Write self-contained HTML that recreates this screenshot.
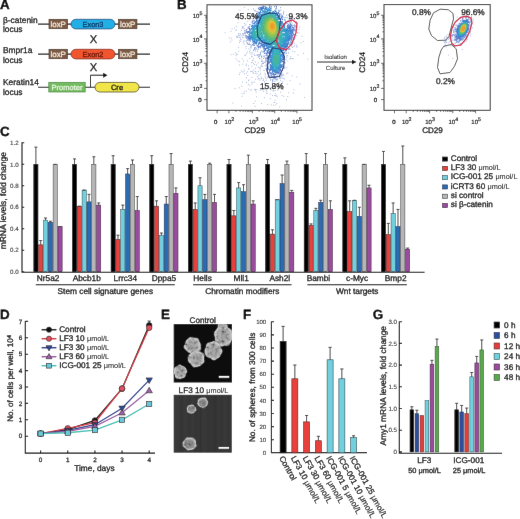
<!DOCTYPE html>
<html><head><meta charset="utf-8"><style>
html,body{margin:0;padding:0;background:#fff;}
svg{display:block;}
text{text-rendering:geometricPrecision;font-family:"Liberation Sans", Arial, sans-serif;}
</style></head><body>
<svg width="520" height="519" viewBox="0 0 520 519">
<defs><filter id="glob" x="0" y="0" width="520" height="519" filterUnits="userSpaceOnUse"><feConvolveMatrix order="3" kernelMatrix="0.0016 0.0371 0.0016 0.0371 0.8450 0.0371 0.0016 0.0371 0.0016" edgeMode="duplicate"/></filter></defs>
<g filter="url(#glob)">
<rect width="520" height="519" fill="#fff"/>
<text x="0.1" y="8.8" font-size="13.4" font-weight="bold" fill="#000" stroke="#000" stroke-width="0.35">A</text>
<text x="177.0" y="8.8" font-size="13.4" font-weight="bold" fill="#000" stroke="#000" stroke-width="0.35">B</text>
<text x="0" y="136.2" font-size="13.4" font-weight="bold" fill="#000" stroke="#000" stroke-width="0.35">C</text>
<text x="0.0" y="319.2" font-size="13.4" font-weight="bold" fill="#000" stroke="#000" stroke-width="0.35">D</text>
<text x="161.0" y="319.2" font-size="13.4" font-weight="bold" fill="#000" stroke="#000" stroke-width="0.35">E</text>
<text x="242.9" y="319.2" font-size="13.4" font-weight="bold" fill="#000" stroke="#000" stroke-width="0.35">F</text>
<text x="372.8" y="319.2" font-size="13.4" font-weight="bold" fill="#000" stroke="#000" stroke-width="0.35">G</text>
<line x1="38" y1="24.1" x2="150" y2="24.1" stroke="#222" stroke-width="1.1"/>
<rect x="49" y="19.3" width="18.4" height="9.4" fill="#7b5a45" stroke="#4a3425" stroke-width="0.7"/>
<text x="58.20" y="26.80" font-size="7.9" text-anchor="middle" fill="#efe3d3" stroke="#efe3d3" stroke-width="0.3">loxP</text>
<rect x="118.5" y="19.3" width="18.4" height="9.4" fill="#7b5a45" stroke="#4a3425" stroke-width="0.7"/>
<text x="127.70" y="26.80" font-size="7.9" text-anchor="middle" fill="#efe3d3" stroke="#efe3d3" stroke-width="0.3">loxP</text>
<rect x="71" y="19.3" width="44" height="9.6" rx="4.8" fill="#22aee6" stroke="#1d4f80" stroke-width="0.8"/>
<text x="93.00" y="26.70" font-size="7.4" text-anchor="middle" fill="#123a66" stroke="#123a66" stroke-width="0.3">Exon3</text>
<line x1="38" y1="54.1" x2="150" y2="54.1" stroke="#222" stroke-width="1.1"/>
<rect x="49" y="49.300000000000004" width="18.4" height="9.4" fill="#7b5a45" stroke="#4a3425" stroke-width="0.7"/>
<text x="58.20" y="56.80" font-size="7.9" text-anchor="middle" fill="#efe3d3" stroke="#efe3d3" stroke-width="0.3">loxP</text>
<rect x="118.5" y="49.300000000000004" width="18.4" height="9.4" fill="#7b5a45" stroke="#4a3425" stroke-width="0.7"/>
<text x="127.70" y="56.80" font-size="7.9" text-anchor="middle" fill="#efe3d3" stroke="#efe3d3" stroke-width="0.3">loxP</text>
<rect x="71" y="49.300000000000004" width="44" height="9.6" rx="4.8" fill="#f0552e" stroke="#8a2a18" stroke-width="0.8"/>
<text x="93.00" y="56.70" font-size="7.4" text-anchor="middle" fill="#6a1a10" stroke="#6a1a10" stroke-width="0.3">Exon2</text>
<text x="3.00" y="22.60" font-size="8.4" fill="#111" stroke="#111" stroke-width="0.3">β-catenin</text>
<text x="3.00" y="32.40" font-size="8.4" fill="#111" stroke="#111" stroke-width="0.3">locus</text>
<text x="3.00" y="52.80" font-size="8.4" fill="#111" stroke="#111" stroke-width="0.3">Bmpr1a</text>
<text x="3.00" y="62.60" font-size="8.4" fill="#111" stroke="#111" stroke-width="0.3">locus</text>
<text x="3.00" y="85.40" font-size="8.4" fill="#111" stroke="#111" stroke-width="0.3">Keratin14</text>
<text x="3.00" y="95.20" font-size="8.4" fill="#111" stroke="#111" stroke-width="0.3">locus</text>
<text x="93.40" y="43.00" font-size="11.2" text-anchor="middle" fill="#111" stroke="#111" stroke-width="0.3">X</text>
<text x="93.40" y="71.30" font-size="11.2" text-anchor="middle" fill="#111" stroke="#111" stroke-width="0.3">X</text>
<line x1="38" y1="87.2" x2="150" y2="87.2" stroke="#222" stroke-width="1.1"/>
<rect x="48.8" y="82.3" width="36.4" height="9.7" fill="#72bb60" stroke="#4a8a3a" stroke-width="0.7"/>
<text x="67.00" y="89.90" font-size="7.5" text-anchor="middle" fill="#e6f4dc" stroke="#e6f4dc" stroke-width="0.3">Promoter</text>
<polyline points="90.5,87.2 90.5,75.2 104,75.2" fill="none" stroke="#111" stroke-width="1"/>
<polygon points="103.2,72.7 107.5,75.2 103.2,77.7" fill="#111"/>
<rect x="95" y="82.4" width="44" height="9.6" rx="4.8" fill="#f0e64a" stroke="#555020" stroke-width="0.8"/>
<text x="117.00" y="90.00" font-size="7.6" text-anchor="middle" fill="#111" stroke="#111" stroke-width="0.3">Cre</text>
<g filter="url(#soft)">
<path stroke="rgb(162, 179, 218)" stroke-width="0.93" d="M303.9 97.5h0.93M232.4 103.0h0.93M307.6 18.0h0.93M307.4 59.2h0.93M224.7 32.7h0.93M241.1 106.0h0.93M299.6 84.0h0.93M234.6 88.6h0.93M228.8 38.0h0.93M292.9 93.1h0.93M241.6 96.3h0.93M303.0 53.4h0.93M293.5 89.7h0.93M230.5 31.3h0.93M230.1 41.9h0.93M230.5 54.7h0.93M279.2 106.9h0.93M241.7 93.7h0.93M302.9 41.4h0.93M286.0 99.8h0.93M230.6 38.0h0.93M238.9 87.8h0.93M231.6 28.8h0.93M254.7 106.4h0.93M287.3 96.5h0.93M296.3 77.1h0.93M231.4 40.0h0.93M243.7 93.3h0.93M288.3 92.8h0.93M253.2 103.5h0.93M243.7 91.8h0.93M232.8 54.3h0.93M275.2 104.9h0.93M301.4 36.4h0.93M234.0 28.1h0.93M273.1 105.2h0.93M241.4 86.3h0.93M276.3 103.4h0.93M283.4 96.3h0.93M270.7 104.9h0.93M300.7 42.9h0.93M254.7 101.2h0.93M267.2 104.6h0.93M274.2 102.5h0.93M245.8 91.0h0.93M260.9 103.5h0.93M273.6 102.5h0.93M239.4 10.2h0.93M236.0 26.7h0.93M235.5 30.4h0.93M281.6 95.6h0.93M239.0 74.6h0.93M235.6 58.8h0.93M242.0 82.2h0.93M235.2 53.0h0.93M235.8 30.0h0.93M235.5 55.7h0.93M274.5 100.2h0.93M237.5 22.8h0.93M239.5 72.7h0.93M289.7 80.6h0.93M236.1 54.1h0.93M291.6 75.9h0.93M297.7 55.0h0.93M236.2 36.1h0.93M237.3 60.7h0.93M276.6 96.8h0.93M256.0 96.9h0.93M236.5 37.3h0.93M248.2 89.1h0.93M236.9 54.4h0.93M236.7 36.5h0.93M286.7 84.1h0.93M249.8 90.1h0.93M239.0 65.1h0.93M269.9 98.7h0.93M282.7 89.6h0.93M276.2 95.9h0.93M240.8 70.9h0.93M280.1 92.1h0.93M275.3 95.8h0.93M237.3 37.4h0.93M245.9 82.6h0.93M238.9 61.7h0.93M263.9 97.7h0.93M251.2 90.0h0.93M274.4 95.5h0.93M237.9 47.3h0.93M238.2 51.3h0.93M242.1 71.9h0.93M247.9 84.3h0.93M238.2 33.8h0.93M238.2 35.8h0.93M272.1 95.6h0.93M238.3 33.5h0.93M255.7 92.2h0.93M249.3 85.4h0.93M275.1 93.7h0.93M243.9 73.9h0.93M238.8 37.7h0.93M243.4 71.8h0.93M243.9 7.6h0.93M255.2 90.3h0.93M238.9 35.7h0.93M254.2 89.4h0.93M246.0 77.6h0.93M282.0 86.3h0.93M239.1 42.6h0.93M255.1 89.7h0.93M269.8 94.0h0.93M248.0 80.6h0.93M296.7 46.6h0.93M266.5 93.6h0.93M239.4 40.6h0.93M266.3 93.4h0.93M299.2 27.0h0.93M243.9 70.1h0.93M256.4 89.6h0.93M242.4 64.2h0.93M277.3 90.2h0.93M248.5 79.8h0.93M239.6 34.6h0.93M251.6 84.1h0.93M296.3 47.1h0.93M296.2 16.8h0.93M241.8 58.8h0.93M279.1 88.1h0.93M259.7 90.3h0.93M263.2 91.4h0.93M246.1 73.3h0.93M251.2 82.4h0.93M266.4 91.7h0.93M240.0 33.9h0.93M247.3 75.5h0.93M272.8 91.3h0.93M298.5 32.9h0.93M240.3 41.3h0.93M240.2 39.1h0.93M287.3 72.9h0.93M240.1 37.2h0.93M274.7 90.5h0.93M243.1 61.1h0.93M292.7 58.7h0.93M262.2 89.7h0.93M265.6 90.5h0.93M260.0 88.4h0.93M272.7 90.5h0.93M252.6 82.1h0.93M282.0 83.1h0.93M240.7 39.3h0.93M247.1 71.8h0.93M284.1 79.0h0.93M264.6 89.1h0.93M240.9 30.6h0.93M295.9 45.2h0.93M298.5 29.5h0.93M294.2 51.8h0.93M286.2 73.6h0.93M270.7 89.7h0.93M245.6 65.6h0.93M254.2 82.0h0.93M264.6 88.1h0.93M291.7 58.6h0.93M282.0 81.8h0.93M241.5 28.7h0.93M291.6 58.5h0.93M241.8 27.3h0.93M251.5 77.4h0.93M270.2 89.0h0.93M246.0 64.2h0.93M277.1 87.0h0.93M244.3 55.2h0.93M248.1 69.0h0.93M242.2 26.6h0.93M241.4 35.6h0.93M273.0 88.1h0.93M248.6 68.6h0.93M245.1 55.2h0.93M268.4 87.3h0.93M255.2 79.4h0.93M272.5 88.0h0.93M248.0 65.8h0.93M250.5 71.4h0.93M269.6 87.2h0.93M250.7 71.5h0.93M264.0 84.3h0.93M247.0 60.8h0.93M242.8 42.8h0.93M282.7 78.5h0.93M257.5 79.0h0.93M252.5 72.8h0.93M275.1 86.5h0.93M246.2 53.6h0.93M242.6 28.2h0.93M290.1 58.4h0.93M252.9 73.2h0.93M242.9 27.1h0.93M268.4 85.7h0.93M259.5 80.0h0.93M242.1 33.7h0.93M252.2 71.3h0.93M244.0 23.4h0.93M258.0 78.2h0.93M264.0 82.0h0.93M242.3 37.0h0.93M263.9 81.7h0.93M259.3 78.7h0.93M286.4 67.8h0.93M256.9 76.6h0.93M243.9 44.2h0.93M290.2 56.8h0.93M262.5 80.6h0.93M294.1 45.9h0.93M289.3 59.1h0.93M292.5 16.7h0.93M246.7 51.9h0.93M292.3 51.1h0.93M283.5 75.6h0.93M243.2 41.2h0.93M254.9 73.5h0.93M296.2 21.6h0.93M297.1 32.6h0.93M247.9 9.4h0.93M245.6 48.2h0.93M242.6 37.7h0.93M261.1 78.7h0.93M251.6 66.8h0.93M282.2 78.0h0.93M263.1 80.0h0.93M261.3 78.4h0.93M253.5 70.1h0.93M242.5 34.0h0.93M256.5 73.9h0.93M254.9 71.5h0.93M258.5 75.5h0.93M249.4 58.5h0.93M263.1 79.0h0.93M296.4 35.7h0.93M255.5 72.0h0.93M260.8 77.1h0.93M245.6 46.5h0.93M251.1 62.6h0.93M242.7 34.4h0.93M242.8 35.4h0.93M294.2 43.7h0.93M280.1 80.6h0.93M251.6 62.3h0.93M278.5 82.4h0.93M247.1 15.7h0.93M243.8 41.0h0.93M259.7 74.3h0.93M265.8 80.2h0.93M255.0 68.2h0.93M295.7 22.1h0.93M252.9 63.4h0.93M258.1 71.6h0.93M296.7 27.1h0.93M249.6 53.1h0.93M260.2 73.2h0.93M252.1 60.4h0.93M244.5 25.7h0.93M287.3 61.0h0.93M254.2 64.5h0.93M251.3 56.8h0.93M252.6 60.5h0.93M292.7 46.8h0.93M249.2 51.5h0.93M265.0 77.8h0.93M251.5 56.5h0.93M296.5 29.2h0.93M282.8 74.5h0.93M251.4 54.8h0.93M264.6 76.2h0.93M248.3 48.9h0.93M259.8 70.0h0.93M250.7 53.0h0.93M253.1 58.7h0.93M256.1 64.9h0.93M257.8 67.3h0.93M244.0 28.7h0.93M243.5 33.5h0.93M245.4 24.3h0.93M259.4 68.3h0.93M255.1 61.9h0.93M259.3 67.9h0.93M243.8 30.6h0.93M291.2 18.1h0.93M291.9 47.5h0.93M249.7 50.1h0.93M266.5 78.2h0.93M243.7 33.1h0.93M295.3 23.4h0.93M271.8 82.9h0.93M280.0 78.7h0.93M264.9 74.8h0.93M281.0 77.0h0.93M260.3 67.0h0.93M291.5 18.7h0.93M296.0 27.5h0.93M252.2 52.6h0.93M281.7 75.6h0.93M264.5 73.3h0.93M257.8 62.9h0.93M284.3 68.6h0.93M295.8 26.4h0.93M263.5 70.4h0.93M260.8 65.8h0.93M254.4 55.6h0.93M293.4 42.2h0.93M254.3 55.2h0.93M263.7 70.4h0.93M253.8 54.0h0.93M247.3 21.2h0.93M244.3 30.7h0.93M261.5 65.9h0.93M262.1 66.5h0.93M266.9 77.1h0.93M294.1 39.6h0.93M281.3 75.6h0.93M284.2 67.8h0.93M261.2 64.2h0.93M244.3 32.7h0.93M294.4 38.1h0.93M244.5 31.1h0.93M244.6 30.5h0.93M294.1 39.2h0.93M281.4 75.1h0.93M284.4 66.8h0.93M270.1 80.5h0.93M261.9 63.5h0.93M245.7 41.2h0.93M272.4 81.7h0.93M291.4 46.2h0.93"/>
<path stroke="rgb(128, 154, 212)" stroke-width="0.99" d="M294.3 38.1h0.99M246.4 42.8h0.99M252.9 50.4h0.99M295.4 30.0h0.99M257.9 57.0h0.99M261.1 61.3h0.99M256.6 54.8h0.99M257.1 55.4h0.99M250.4 47.9h0.99M259.2 58.5h0.99M262.8 63.5h0.99M247.3 44.1h0.99M272.1 81.2h0.99M267.8 76.8h0.99M286.2 15.1h0.99M262.2 61.8h0.99M244.7 35.5h0.99M291.1 20.1h0.99M246.9 43.0h0.99M281.2 74.6h0.99M287.9 52.9h0.99M286.3 57.1h0.99M274.5 81.2h0.99M244.7 33.8h0.99M289.5 49.4h0.99M261.5 60.1h0.99M244.7 33.1h0.99M279.5 77.3h0.99M258.6 56.1h0.99M294.8 26.3h0.99M286.6 55.4h0.99M258.9 56.0h0.99M254.7 50.9h0.99M288.7 18.8h0.99M277.0 79.8h0.99M294.6 25.6h0.99M270.3 79.4h0.99M245.1 36.8h0.99M278.7 78.1h0.99M248.1 44.4h0.99M285.5 59.2h0.99M260.9 57.8h0.99M258.3 54.4h0.99M253.7 49.6h0.99M263.7 62.2h0.99M264.8 65.8h0.99M250.4 46.9h0.99M283.2 68.4h0.99M267.0 73.6h0.99M289.2 19.6h0.99M272.2 80.3h0.99M279.5 76.8h0.99M284.5 63.0h0.99M291.6 44.0h0.99M265.7 68.8h0.99M294.1 24.9h0.99M246.3 40.6h0.99M252.9 8.9h0.99M276.1 79.9h0.99M272.0 79.9h0.99M266.4 70.8h0.99M259.5 54.5h0.99M265.8 68.6h0.99M261.1 56.5h0.99M266.1 69.7h0.99M281.3 73.1h0.99M260.4 55.3h0.99M254.6 49.4h0.99M294.4 27.1h0.99M245.3 32.2h0.99M283.3 11.8h0.99M257.1 51.2h0.99M264.8 62.7h0.99M291.2 44.2h0.99M289.1 48.4h0.99M263.0 58.2h0.99M267.1 72.3h0.99M250.4 18.2h0.99M245.6 37.3h0.99M286.6 17.7h0.99M245.9 29.5h0.99M248.9 44.4h0.99M254.0 48.6h0.99M279.3 76.2h0.99M280.1 7.6h0.99M282.2 70.3h0.99M294.1 34.6h0.99M268.8 75.9h0.99M294.4 30.7h0.99M270.0 77.6h0.99M290.6 21.5h0.99M293.6 25.3h0.99M292.7 39.8h0.99M260.0 53.3h0.99M291.0 43.9h0.99M284.1 62.8h0.99M284.3 61.9h0.99M276.3 78.9h0.99M245.6 35.9h0.99M262.7 56.1h0.99M291.6 42.2h0.99M274.8 79.3h0.99M246.2 38.4h0.99M290.1 45.5h0.99M292.6 39.3h0.99M259.9 52.3h0.99M290.4 44.9h0.99M291.6 42.1h0.99M266.1 65.8h0.99M246.0 30.3h0.99M265.3 61.0h0.99M253.9 47.8h0.99M290.1 45.2h0.99M256.1 48.9h0.99M265.2 60.0h0.99M267.9 72.9h0.99M290.8 43.7h0.99M287.9 49.3h0.99M268.0 73.1h0.99M257.5 49.6h0.99M294.1 29.8h0.99M266.1 64.3h0.99M291.5 23.0h0.99M286.0 53.1h0.99M264.5 57.7h0.99M283.0 12.9h0.99M293.7 26.9h0.99M287.8 20.4h0.99M251.2 45.8h0.99M250.1 44.8h0.99M252.2 15.2h0.99M291.4 42.1h0.99M246.2 37.5h0.99M273.2 78.9h0.99M265.1 58.7h0.99M264.0 56.1h0.99M287.7 49.2h0.99M246.8 39.3h0.99M246.4 29.6h0.99M246.0 35.7h0.99M248.8 43.1h0.99M285.7 53.5h0.99M246.1 31.5h0.99M254.9 47.7h0.99M267.3 69.7h0.99M265.7 60.1h0.99M290.1 44.6h0.99M280.3 73.3h0.99M266.8 67.5h0.99M288.5 21.3h0.99M281.5 70.5h0.99M255.3 47.8h0.99M282.1 68.8h0.99M246.2 31.7h0.99M247.3 40.1h0.99M293.3 35.0h0.99M289.9 44.5h0.99M266.2 61.2h0.99M283.0 14.1h0.99M268.3 72.3h0.99M288.9 46.3h0.99M284.7 17.4h0.99M267.2 67.9h0.99M293.6 29.2h0.99M260.9 51.1h0.99M275.1 78.1h0.99M270.4 76.1h0.99M254.5 10.3h0.99M293.3 34.3h0.99M246.3 32.5h0.99M289.4 22.5h0.99M280.3 10.1h0.99M287.3 21.1h0.99M273.6 78.0h0.99M246.4 35.8h0.99M292.5 25.7h0.99M267.3 67.4h0.99M290.4 43.1h0.99M267.1 66.0h0.99M293.5 29.9h0.99M268.8 73.0h0.99M254.5 11.1h0.99"/>
<path stroke="rgb(100, 136, 208)" stroke-width="1.06" d="M293.5 30.8h1.06M273.9 77.9h1.06M247.5 27.9h1.06M293.3 28.7h1.06M266.1 58.1h1.06M272.8 77.6h1.06M283.3 62.2h1.06M293.1 27.8h1.06M280.7 71.4h1.06M262.5 51.9h1.06M263.9 53.4h1.06M266.3 58.8h1.06M257.9 47.9h1.06M246.6 32.0h1.06M277.3 76.4h1.06M267.1 64.5h1.06M264.1 53.3h1.06M267.6 68.1h1.06M292.2 37.6h1.06M290.5 42.4h1.06M273.9 77.6h1.06M265.6 55.5h1.06M266.9 62.0h1.06M275.2 77.4h1.06M246.8 36.6h1.06M267.5 66.8h1.06M293.0 28.7h1.06M246.6 32.5h1.06M274.0 77.5h1.06M271.1 76.0h1.06M283.9 57.5h1.06M249.4 24.6h1.06M274.7 77.4h1.06M292.5 36.0h1.06M271.7 76.5h1.06M292.8 34.4h1.06M289.7 23.5h1.06M251.7 44.7h1.06M251.9 44.8h1.06M282.1 66.5h1.06M275.5 6.0h1.06M270.6 75.1h1.06M285.7 50.6h1.06M258.2 47.3h1.06M269.6 73.3h1.06M247.1 37.0h1.06M268.3 69.5h1.06M291.2 25.1h1.06M247.9 28.0h1.06M292.9 29.3h1.06M273.8 77.1h1.06M285.6 50.6h1.06M282.8 63.0h1.06M247.4 38.1h1.06M257.5 46.9h1.06M276.0 6.7h1.06M291.0 40.3h1.06M273.5 77.0h1.06M291.4 25.5h1.06M292.6 28.5h1.06M292.8 33.1h1.06M263.9 51.7h1.06M290.6 24.7h1.06M248.6 26.6h1.06M252.7 44.9h1.06M274.3 76.9h1.06M263.4 51.0h1.06M290.8 25.1h1.06M289.8 24.2h1.06M269.1 71.6h1.06M259.9 47.8h1.06M248.4 40.3h1.06M253.9 45.4h1.06M290.1 24.5h1.06M246.9 33.3h1.06M251.7 21.5h1.06M266.8 56.8h1.06M276.6 76.0h1.06M269.5 72.6h1.06M266.3 54.9h1.06M248.2 39.7h1.06M269.5 72.4h1.06M265.8 53.8h1.06M258.9 47.0h1.06M279.0 73.2h1.06M258.9 47.0h1.06M292.1 27.5h1.06M267.0 57.4h1.06M284.3 19.3h1.06M265.5 53.1h1.06M267.2 58.5h1.06M270.5 74.1h1.06M268.9 70.6h1.06M266.0 53.7h1.06M268.6 69.4h1.06M257.9 46.3h1.06M284.9 51.0h1.06M290.2 25.0h1.06M257.8 8.0h1.06M259.5 47.0h1.06M253.2 44.7h1.06M292.5 31.2h1.06M283.0 59.5h1.06M291.4 26.6h1.06M288.7 44.2h1.06M289.9 41.7h1.06M257.5 46.0h1.06M292.0 35.5h1.06M270.1 73.1h1.06M258.6 46.4h1.06M248.0 38.5h1.06M264.0 50.6h1.06M252.5 20.9h1.06M283.1 58.6h1.06M263.9 50.3h1.06M267.5 58.4h1.06M292.4 30.4h1.06M285.9 48.5h1.06M289.5 24.8h1.06M284.2 52.4h1.06M247.4 31.7h1.06M247.8 37.6h1.06M278.3 10.3h1.06M256.5 45.6h1.06M284.4 20.2h1.06M273.4 76.0h1.06M290.8 39.4h1.06M288.8 43.7h1.06M291.5 27.3h1.06M278.6 73.2h1.06M288.6 43.9h1.06M251.7 22.6h1.06M288.1 24.2h1.06M269.3 70.7h1.06M282.0 16.0h1.06M266.5 53.2h1.06M290.4 40.2h1.06M275.9 8.0h1.06M286.5 23.2h1.06M292.0 29.5h1.06M291.1 38.0h1.06M267.3 55.3h1.06M257.9 8.9h1.06M285.1 21.8h1.06M278.3 73.3h1.06M285.7 48.4h1.06M263.1 48.9h1.06M283.1 57.1h1.06M277.7 74.0h1.06M287.1 46.2h1.06M282.8 59.3h1.06M270.8 73.5h1.06M247.6 31.6h1.06M259.8 46.2h1.06M249.7 41.2h1.06M278.7 11.2h1.06M274.0 6.7h1.06M259.4 7.3h1.06M248.6 39.3h1.06M282.4 17.3h1.06M285.7 22.9h1.06M291.4 36.5h1.06M292.0 32.5h1.06M280.6 14.0h1.06M283.3 54.7h1.06M256.5 11.9h1.06M254.5 17.6h1.06M283.1 56.1h1.06M286.8 46.2h1.06M270.9 73.3h1.06M283.6 52.9h1.06M268.2 62.8h1.06M285.0 22.2h1.06"/>
<path stroke="rgb(72, 119, 205)" stroke-width="1.12" d="M282.3 61.2h1.12M282.7 58.9h1.12M281.5 65.5h1.12M282.9 57.3h1.12M271.8 74.2h1.12M279.7 70.6h1.12M289.9 26.1h1.12M278.9 72.0h1.12M268.3 63.4h1.12M286.9 45.8h1.12M291.9 31.3h1.12M269.3 69.4h1.12M248.8 28.2h1.12M262.2 47.3h1.12M281.7 16.3h1.12M265.1 50.1h1.12M291.6 35.1h1.12M263.9 48.9h1.12M273.4 75.2h1.12M284.7 49.4h1.12M290.8 37.9h1.12M247.8 32.3h1.12M266.6 51.9h1.12M247.9 31.6h1.12M248.1 36.8h1.12M280.8 67.4h1.12M267.1 52.6h1.12M281.3 65.6h1.12M286.2 46.8h1.12M253.6 20.8h1.12M278.8 71.9h1.12M281.6 64.6h1.12M282.4 60.0h1.12M260.0 7.6h1.12M249.4 40.1h1.12M268.3 60.0h1.12M288.6 25.5h1.12M291.6 33.5h1.12M248.0 31.9h1.12M253.2 43.6h1.12M259.8 7.9h1.12M290.0 26.7h1.12M262.4 6.0h1.12M267.1 52.4h1.12M279.9 69.6h1.12M282.5 58.6h1.12M265.0 49.5h1.12M291.6 31.7h1.12M261.1 46.0h1.12M268.2 56.6h1.12M248.3 37.2h1.12M281.3 65.3h1.12M291.5 30.2h1.12M267.6 53.3h1.12M268.4 61.7h1.12M260.5 45.6h1.12M257.9 44.7h1.12M283.0 54.1h1.12M290.2 38.9h1.12M269.9 70.2h1.12M283.2 53.0h1.12M285.4 47.5h1.12M280.9 66.6h1.12M291.3 29.6h1.12M268.4 59.2h1.12M287.4 25.1h1.12M289.5 26.5h1.12M266.7 51.1h1.12M249.0 38.8h1.12M260.8 7.3h1.12M287.5 44.2h1.12M281.0 16.0h1.12M283.2 52.5h1.12M248.8 38.2h1.12M269.7 69.3h1.12M272.8 74.3h1.12M273.2 74.5h1.12M275.4 8.9h1.12M256.6 13.7h1.12M263.5 47.6h1.12M278.3 72.1h1.12M291.2 35.1h1.12M277.9 72.6h1.12M259.0 9.4h1.12M274.2 74.7h1.12M282.3 58.1h1.12M264.8 48.6h1.12M266.7 50.7h1.12M279.7 69.4h1.12M291.2 30.3h1.12M272.7 74.1h1.12M258.1 44.4h1.12M287.0 44.6h1.12M282.3 57.5h1.12M255.1 18.6h1.12M290.5 28.4h1.12M262.6 46.4h1.12M284.6 23.2h1.12M291.3 33.1h1.12M268.6 57.9h1.12M290.2 38.1h1.12M269.1 5.8h1.12M267.0 50.8h1.12M288.0 42.9h1.12M261.9 45.7h1.12M274.9 74.4h1.12M249.0 29.2h1.12M277.6 72.6h1.12M255.2 43.7h1.12M276.4 73.7h1.12M259.8 9.0h1.12M284.9 47.6h1.12M267.2 51.1h1.12M272.8 73.9h1.12M285.4 46.8h1.12M256.1 43.9h1.12M271.6 72.8h1.12M290.2 28.1h1.12M268.1 52.8h1.12M281.7 61.8h1.12M288.2 42.3h1.12M252.8 23.3h1.12M278.0 72.0h1.12M291.0 30.6h1.12M291.0 30.9h1.12M290.8 35.2h1.12M285.4 46.6h1.12M288.4 26.5h1.12M261.8 45.4h1.12M286.9 25.6h1.12M261.6 45.3h1.12M262.2 7.2h1.12M290.5 36.4h1.12M252.3 24.0h1.12M286.5 44.9h1.12M257.0 14.0h1.12M280.5 16.1h1.12M289.5 27.5h1.12M282.4 55.6h1.12M257.9 12.2h1.12M279.3 14.2h1.12M289.6 27.7h1.12M262.9 6.9h1.12M261.0 8.3h1.12M280.3 67.0h1.12M263.0 46.1h1.12M269.0 62.5h1.12M248.5 35.7h1.12M265.4 48.3h1.12M267.4 50.7h1.12M285.7 45.8h1.12M284.0 48.6h1.12M290.9 32.2h1.12M273.3 73.7h1.12M252.3 42.2h1.12M270.5 70.2h1.12M251.0 26.1h1.12M286.9 26.0h1.12M280.8 65.3h1.12M275.4 73.8h1.12M255.4 43.4h1.12M269.6 66.8h1.12M290.1 37.5h1.12M275.5 73.8h1.12M281.2 17.7h1.12M270.7 6.9h1.12M261.3 8.2h1.12M256.3 16.8h1.12M277.7 12.4h1.12M248.7 31.5h1.12M278.9 70.2h1.12M290.7 34.4h1.12M265.7 48.3h1.12M278.3 13.2h1.12M288.4 27.0h1.12M249.5 38.7h1.12M283.2 50.2h1.12M282.0 19.4h1.12M260.8 44.3h1.12M266.0 48.5h1.12M249.2 29.7h1.12M290.6 30.7h1.12M273.0 73.4h1.12M264.2 6.8h1.12M282.1 56.5h1.12M254.4 43.0h1.12M277.0 72.7h1.12M269.0 57.0h1.12M279.5 68.7h1.12M251.0 26.3h1.12M281.7 59.6h1.12M254.1 22.2h1.12M290.7 34.2h1.12M261.9 8.0h1.12M256.1 17.9h1.12M271.8 72.1h1.12M256.2 17.6h1.12M264.1 46.6h1.12M261.7 44.6h1.12M270.1 68.4h1.12M277.7 71.8h1.12M248.7 31.8h1.12M262.4 45.0h1.12M286.9 43.5h1.12M248.6 34.2h1.12M261.0 8.9h1.12M269.9 67.6h1.12M259.1 43.5h1.12M262.9 7.6h1.12"/>
<path stroke="rgb(62, 128, 206)" stroke-width="1.18" d="M268.6 52.3h1.18M288.9 39.8h1.18M249.4 38.0h1.18M289.3 38.9h1.18M270.3 68.8h1.18M282.9 50.3h1.18M287.9 27.2h1.18M261.7 8.5h1.18M251.2 26.3h1.18M287.7 27.0h1.18M264.0 46.2h1.18M270.0 67.5h1.18M290.4 30.9h1.18M266.5 48.7h1.18M267.8 50.3h1.18M284.9 46.3h1.18M259.4 43.5h1.18M281.1 18.2h1.18M260.4 9.8h1.18M279.9 67.3h1.18M248.7 34.5h1.18M257.6 14.4h1.18M260.7 9.5h1.18M288.8 27.9h1.18M286.4 44.1h1.18M283.7 23.6h1.18M260.1 43.6h1.18M253.8 42.5h1.18M248.9 36.1h1.18M281.9 56.6h1.18M249.2 37.0h1.18M266.4 48.3h1.18M280.0 67.1h1.18M258.0 43.2h1.18M287.1 42.9h1.18M250.4 39.6h1.18M251.7 25.7h1.18M278.1 13.5h1.18M282.3 52.2h1.18M289.7 29.2h1.18M279.2 68.9h1.18M285.6 45.1h1.18M256.0 43.0h1.18M283.9 47.5h1.18M278.9 14.9h1.18M269.3 56.9h1.18M269.1 53.5h1.18M289.6 29.3h1.18M288.5 40.3h1.18M288.1 27.7h1.18M265.1 7.2h1.18M270.7 69.5h1.18M279.2 68.8h1.18M285.3 45.4h1.18M284.0 24.5h1.18M286.7 26.9h1.18M286.7 26.9h1.18M282.8 50.0h1.18M270.3 68.0h1.18M269.0 7.2h1.18M277.5 13.1h1.18M281.8 56.2h1.18M257.4 15.6h1.18M269.4 59.1h1.18M284.4 46.5h1.18M257.3 15.9h1.18M254.6 22.4h1.18M259.4 43.1h1.18M260.7 43.4h1.18M284.0 47.1h1.18M269.3 54.2h1.18M290.2 34.2h1.18M256.0 19.8h1.18M259.1 43.0h1.18M259.8 11.1h1.18M290.2 32.3h1.18M269.8 65.5h1.18M269.5 61.1h1.18M249.3 36.7h1.18M260.7 10.1h1.18M270.6 68.8h1.18M276.3 72.4h1.18M262.8 8.4h1.18M254.2 42.3h1.18M285.2 45.1h1.18M260.8 43.3h1.18M261.0 10.0h1.18M285.0 45.4h1.18M259.0 12.6h1.18M268.1 49.7h1.18M284.1 25.0h1.18M249.5 30.4h1.18M252.9 41.6h1.18M263.6 45.1h1.18M254.0 23.5h1.18M256.1 19.9h1.18M285.4 44.8h1.18M270.9 69.5h1.18M255.1 22.0h1.18M279.5 67.7h1.18M265.2 7.6h1.18M269.0 51.5h1.18M257.0 17.5h1.18M250.3 38.9h1.18M255.4 21.5h1.18M249.7 37.6h1.18M270.4 67.9h1.18M289.7 36.1h1.18M262.9 44.4h1.18M269.8 64.7h1.18M269.5 53.7h1.18M254.1 42.1h1.18M285.7 44.2h1.18M258.7 13.6h1.18M264.5 45.7h1.18M269.6 56.4h1.18M281.8 53.2h1.18M270.3 67.1h1.18M268.8 7.7h1.18M289.6 30.6h1.18M276.1 72.3h1.18M269.6 55.0h1.18M274.4 10.5h1.18M275.1 11.1h1.18M272.3 71.5h1.18M249.5 36.9h1.18M287.5 41.4h1.18M287.1 27.8h1.18M282.9 48.5h1.18M268.3 49.4h1.18M269.7 57.4h1.18M280.2 65.1h1.18M255.9 20.9h1.18M266.9 47.6h1.18M281.9 51.8h1.18M266.2 47.0h1.18M263.9 44.9h1.18M288.0 28.6h1.18M249.2 32.6h1.18M288.5 29.1h1.18M278.9 68.6h1.18M266.3 7.8h1.18M259.8 12.1h1.18M282.2 50.2h1.18M267.7 48.4h1.18M289.5 35.8h1.18M258.9 42.4h1.18M253.8 41.7h1.18M288.1 28.8h1.18M278.8 15.8h1.18M254.3 41.9h1.18M270.0 64.7h1.18M255.6 21.8h1.18M278.7 68.8h1.18M288.5 38.9h1.18M274.7 72.5h1.18M285.2 44.5h1.18M281.3 56.9h1.18M275.9 12.3h1.18M252.3 40.8h1.18M283.7 46.4h1.18M289.6 31.9h1.18M289.0 30.2h1.18M269.6 8.3h1.18M269.9 55.8h1.18M255.4 42.1h1.18M262.1 9.8h1.18M289.3 36.3h1.18M254.6 41.9h1.18M277.6 70.5h1.18M269.8 60.6h1.18M289.7 33.5h1.18M274.3 10.8h1.18M281.7 52.2h1.18M269.7 52.1h1.18M259.2 13.4h1.18M281.3 56.5h1.18M269.9 61.3h1.18M252.5 26.0h1.18M272.0 70.5h1.18M269.9 61.6h1.18M289.5 31.9h1.18M250.3 29.2h1.18M270.6 67.3h1.18M257.9 16.6h1.18M270.5 8.8h1.18M288.2 39.1h1.18M280.8 61.2h1.18M257.9 16.7h1.18M264.7 45.0h1.18M274.2 72.1h1.18M287.4 40.7h1.18M288.8 30.2h1.18M254.8 41.8h1.18M281.5 21.3h1.18M275.4 72.0h1.18M264.8 8.6h1.18M267.5 47.5h1.18M288.1 39.4h1.18M281.9 50.3h1.18M264.1 8.9h1.18M283.9 26.1h1.18M287.7 40.0h1.18M287.9 39.6h1.18M276.8 71.1h1.18M249.4 33.0h1.18M288.7 37.8h1.18M282.8 24.4h1.18M266.0 46.0h1.18M265.3 8.5h1.18M256.6 20.6h1.18M271.6 69.6h1.18M278.0 69.6h1.18M270.0 61.6h1.18M267.6 47.5h1.18M257.8 17.2h1.18M285.4 43.5h1.18M255.6 41.9h1.18M262.1 42.8h1.18M270.0 60.2h1.18M278.7 16.2h1.18M256.3 41.9h1.18M261.4 42.4h1.18M281.3 54.3h1.18M269.2 49.6h1.18M287.9 39.5h1.18M250.4 37.9h1.18M288.7 37.4h1.18M273.6 71.7h1.18M274.8 11.7h1.18M270.1 55.4h1.18M280.8 60.6h1.18M282.2 48.6h1.18M275.2 71.9h1.18M281.2 55.3h1.18M282.4 23.9h1.18M288.7 37.3h1.18M282.5 47.8h1.18M269.8 51.3h1.18"/>
<path stroke="rgb(54, 139, 208)" stroke-width="1.24" d="M280.8 60.5h1.24M288.9 36.5h1.24M288.5 37.8h1.24M269.1 49.3h1.24M258.4 16.2h1.24M287.7 39.6h1.24M283.2 25.6h1.24M272.7 70.9h1.24M275.9 71.5h1.24M249.5 33.5h1.24M289.1 35.5h1.24M258.2 16.8h1.24M269.9 51.2h1.24M280.7 60.7h1.24M281.7 22.6h1.24M280.0 18.8h1.24M270.1 59.8h1.24M258.8 15.4h1.24M278.3 68.8h1.24M253.5 25.3h1.24M279.4 66.3h1.24M278.7 16.6h1.24M252.2 40.2h1.24M283.4 45.8h1.24M279.7 18.4h1.24M279.3 66.3h1.24M271.6 69.0h1.24M283.7 26.5h1.24M278.3 68.7h1.24M279.8 64.9h1.24M281.9 48.7h1.24M279.6 65.5h1.24M282.2 48.0h1.24M283.8 26.7h1.24M251.0 28.6h1.24M283.2 25.9h1.24M266.4 45.9h1.24M288.3 30.5h1.24M286.8 29.1h1.24M271.5 68.8h1.24M271.0 67.4h1.24M275.7 71.4h1.24M269.8 50.1h1.24M249.8 32.0h1.24M259.2 14.9h1.24M281.4 50.6h1.24M250.7 38.1h1.24M252.0 27.2h1.24M280.1 19.3h1.24M281.4 50.7h1.24M288.6 31.3h1.24M281.0 54.8h1.24M265.9 45.2h1.24M264.7 44.2h1.24M251.5 28.0h1.24M276.1 71.1h1.24M267.9 8.9h1.24M277.5 69.7h1.24M252.4 26.9h1.24M285.0 43.4h1.24M272.9 70.7h1.24M262.2 10.9h1.24M288.9 34.8h1.24M270.4 53.2h1.24M256.5 41.5h1.24M267.8 46.9h1.24M280.2 62.7h1.24M283.5 45.3h1.24M250.0 36.2h1.24M254.3 24.9h1.24M249.8 33.5h1.24M278.4 68.2h1.24M287.9 38.4h1.24M270.3 60.7h1.24M288.9 33.3h1.24M278.1 16.2h1.24M280.2 62.7h1.24M270.7 65.3h1.24M285.1 43.1h1.24M284.8 43.4h1.24M266.6 9.1h1.24M283.9 44.6h1.24M270.3 51.0h1.24M285.6 28.8h1.24M282.7 46.3h1.24M266.8 45.9h1.24M270.4 57.9h1.24M283.2 45.6h1.24M287.3 39.7h1.24M286.0 41.8h1.24M276.7 14.3h1.24M264.3 9.8h1.24M282.8 46.1h1.24M286.5 41.0h1.24M267.4 9.1h1.24M264.0 43.2h1.24M285.5 28.9h1.24M288.4 36.7h1.24M288.0 31.0h1.24M270.9 66.2h1.24M277.7 69.2h1.24M285.0 43.0h1.24M287.8 38.3h1.24M283.9 27.6h1.24M287.7 38.6h1.24M275.8 71.0h1.24M286.8 40.3h1.24M252.0 27.6h1.24M270.6 55.3h1.24M286.1 41.4h1.24M271.8 68.8h1.24M270.4 61.1h1.24M276.5 14.3h1.24M250.9 37.9h1.24M251.6 39.0h1.24M288.3 31.8h1.24M259.4 41.1h1.24M278.9 66.8h1.24M270.6 52.1h1.24M272.2 69.4h1.24M262.1 11.5h1.24M281.4 22.9h1.24M259.1 16.0h1.24M259.1 16.0h1.24M280.4 60.4h1.24M265.7 9.5h1.24M263.8 42.9h1.24M280.8 21.6h1.24M268.8 47.4h1.24M261.2 12.5h1.24M265.2 44.0h1.24M279.2 18.3h1.24M286.6 40.4h1.24M273.6 70.8h1.24M283.1 26.7h1.24M286.9 30.2h1.24M283.4 44.8h1.24M256.7 22.3h1.24M282.6 25.8h1.24M270.4 50.1h1.24M284.1 43.8h1.24M264.5 43.4h1.24M273.2 70.5h1.24M285.9 41.4h1.24M274.0 70.9h1.24M271.7 68.1h1.24M264.6 10.0h1.24M255.8 23.8h1.24M270.5 62.1h1.24M270.5 62.1h1.24M262.3 11.6h1.24M283.7 44.3h1.24M285.6 29.4h1.24M282.1 25.0h1.24M275.3 70.9h1.24M288.0 37.2h1.24M257.6 20.6h1.24M267.7 46.1h1.24M280.5 58.6h1.24M269.0 9.7h1.24M276.9 15.2h1.24M270.5 59.3h1.24M286.4 40.4h1.24M287.5 31.0h1.24M251.4 29.0h1.24M286.3 40.6h1.24M262.0 41.4h1.24M279.1 65.6h1.24M271.0 65.7h1.24M268.8 47.0h1.24M270.7 56.8h1.24M278.8 66.5h1.24M273.8 70.6h1.24M260.3 40.8h1.24M260.3 14.2h1.24M268.5 46.7h1.24M285.7 41.4h1.24M286.9 30.6h1.24M271.6 67.5h1.24M285.1 29.4h1.24M253.7 40.4h1.24M271.3 66.7h1.24M261.1 40.9h1.24M282.4 45.8h1.24M286.4 40.2h1.24M270.7 57.0h1.24M284.2 43.3h1.24M268.9 9.8h1.24M272.2 68.7h1.24M258.6 40.8h1.24M272.8 11.5h1.24M270.7 57.3h1.24M258.8 17.9h1.24M257.1 22.2h1.24M284.6 29.1h1.24M260.4 14.3h1.24M252.4 27.7h1.24M250.7 36.8h1.24M287.7 31.8h1.24M280.7 50.8h1.24M271.8 67.9h1.24M257.5 21.6h1.24M263.6 11.0h1.24M252.2 39.1h1.24M288.1 33.1h1.24M277.2 69.2h1.24M276.7 15.3h1.24M287.5 37.5h1.24M287.3 38.1h1.24M266.6 44.6h1.24M280.5 21.9h1.24M280.7 22.4h1.24M287.5 31.8h1.24M285.7 41.1h1.24M280.2 60.1h1.24M286.8 39.2h1.24M252.3 39.2h1.24M268.4 46.2h1.24M257.9 20.8h1.24M259.4 16.6h1.24M270.2 10.4h1.24M283.9 43.4h1.24M270.7 60.7h1.24M280.8 49.4h1.24M286.7 31.0h1.24M271.5 66.8h1.24M281.9 46.1h1.24M284.9 41.9h1.24M253.3 26.9h1.24M284.2 29.2h1.24M284.5 42.4h1.24M275.4 14.0h1.24M256.9 40.7h1.24M256.6 23.5h1.24M287.3 31.8h1.24M268.6 10.1h1.24M251.7 29.0h1.24M287.2 31.6h1.24M270.8 58.5h1.24M287.6 36.8h1.24M282.6 44.9h1.24M287.0 38.4h1.24M269.7 47.4h1.24M255.9 40.6h1.24M257.6 21.7h1.24M250.4 35.2h1.24M282.9 44.5h1.24M256.9 40.6h1.24"/>
<path stroke="rgb(51, 151, 206)" stroke-width="1.31" d="M266.2 44.1h1.31M259.5 16.8h1.31M283.8 43.2h1.31M285.0 30.0h1.31M285.8 30.6h1.31M270.7 49.2h1.31M270.9 62.1h1.31M274.5 70.3h1.31M264.0 42.1h1.31M287.3 37.6h1.31M269.2 46.7h1.31M281.4 46.8h1.31M273.8 12.6h1.31M255.6 40.5h1.31M285.0 41.6h1.31M252.1 38.7h1.31M254.6 25.8h1.31M285.0 41.5h1.31M280.9 48.3h1.31M286.3 31.0h1.31M253.8 26.5h1.31M252.8 27.6h1.31M258.8 18.8h1.31M272.5 11.7h1.31M270.8 60.7h1.31M281.0 23.6h1.31M271.0 49.9h1.31M258.5 19.6h1.31M277.3 16.4h1.31M270.9 62.5h1.31M284.1 29.4h1.31M257.8 21.5h1.31M266.0 43.7h1.31M264.5 42.4h1.31M278.5 66.4h1.31M262.2 40.7h1.31M274.8 70.2h1.31M287.4 36.9h1.31M286.4 39.2h1.31M280.2 21.8h1.31M287.7 35.0h1.31M263.2 41.3h1.31M273.6 12.7h1.31M266.0 43.6h1.31M253.7 39.9h1.31M271.3 51.2h1.31M258.7 40.2h1.31M263.4 41.4h1.31M252.0 38.5h1.31M256.6 40.4h1.31M259.1 18.4h1.31M278.6 66.2h1.31M272.4 68.4h1.31M284.6 41.8h1.31M259.6 17.2h1.31M258.7 40.2h1.31M262.3 40.7h1.31M270.9 59.4h1.31M285.5 40.5h1.31M258.5 20.3h1.31M263.1 12.0h1.31M259.5 17.5h1.31M271.2 55.5h1.31M281.6 45.8h1.31M255.7 25.0h1.31M250.9 36.3h1.31M258.9 19.0h1.31M280.0 59.6h1.31M280.1 57.8h1.31M271.2 49.7h1.31M257.5 40.3h1.31M275.5 69.9h1.31M282.1 44.9h1.31M260.8 14.8h1.31M283.4 43.1h1.31M274.6 70.0h1.31M284.8 30.5h1.31M251.3 37.1h1.31M271.1 49.2h1.31M280.4 49.5h1.31M285.1 30.7h1.31M250.7 32.2h1.31M255.2 25.6h1.31M250.7 32.2h1.31M277.5 68.0h1.31M264.3 41.8h1.31M287.4 33.9h1.31M251.2 36.9h1.31M260.4 39.9h1.31M281.4 46.0h1.31M270.2 47.2h1.31M250.6 33.1h1.31M286.7 37.9h1.31M279.9 21.6h1.31M269.9 10.9h1.31M279.1 64.1h1.31M286.2 39.0h1.31M273.3 69.3h1.31M277.5 17.2h1.31M287.3 35.6h1.31M251.4 30.1h1.31M266.9 10.7h1.31M260.6 15.5h1.31M279.9 60.0h1.31M278.0 67.1h1.31M264.4 11.4h1.31M284.1 30.1h1.31M284.3 41.7h1.31M277.8 67.4h1.31M283.4 29.4h1.31M279.2 63.9h1.31M276.1 15.4h1.31M275.7 69.6h1.31M254.0 39.8h1.31M271.2 57.4h1.31M284.5 30.5h1.31M287.0 32.9h1.31M268.1 10.7h1.31M276.0 69.5h1.31M271.1 58.3h1.31M271.1 48.8h1.31M253.7 27.1h1.31M271.8 66.5h1.31M284.3 41.6h1.31M257.4 23.3h1.31M287.3 34.5h1.31M275.9 69.5h1.31M271.6 52.1h1.31M285.1 31.1h1.31M273.8 69.5h1.31M272.4 12.2h1.31M282.7 43.5h1.31M265.3 42.5h1.31M271.6 65.4h1.31M273.4 69.1h1.31M280.1 49.9h1.31M283.2 42.9h1.31M282.4 28.0h1.31M261.0 15.0h1.31M270.8 47.8h1.31M286.3 32.3h1.31M278.3 18.8h1.31M267.2 44.1h1.31M265.8 42.9h1.31M271.8 66.0h1.31M265.8 42.9h1.31M268.1 44.8h1.31M271.1 60.6h1.31M271.6 53.5h1.31M284.1 30.4h1.31M280.0 52.1h1.31M269.4 45.9h1.31M250.8 33.0h1.31M280.0 51.0h1.31M278.8 64.8h1.31M280.7 46.8h1.31M287.0 35.8h1.31M279.5 62.1h1.31M282.5 28.4h1.31M271.3 63.6h1.31M286.6 32.8h1.31M269.1 11.0h1.31M267.0 43.9h1.31M259.2 39.7h1.31M259.2 39.6h1.31M251.0 35.9h1.31M280.1 49.0h1.31M265.9 11.2h1.31M255.3 26.0h1.31M256.1 40.0h1.31M254.5 39.7h1.31M270.0 46.4h1.31M276.9 68.3h1.31M254.5 39.7h1.31M283.3 29.8h1.31M280.4 47.5h1.31M261.0 15.3h1.31M251.0 32.0h1.31M271.3 48.4h1.31M276.9 68.3h1.31M281.0 46.0h1.31M262.5 40.1h1.31M275.1 69.5h1.31M253.5 27.6h1.31M279.9 51.2h1.31M265.3 11.4h1.31M286.9 35.9h1.31M254.9 26.3h1.31M259.2 39.6h1.31M264.7 11.7h1.31M271.3 62.3h1.31M279.6 61.1h1.31M271.5 56.4h1.31M282.6 43.3h1.31M271.7 65.3h1.31M252.6 38.5h1.31M270.1 46.4h1.31M286.9 35.4h1.31M280.0 48.8h1.31M286.0 38.4h1.31M251.8 37.3h1.31M271.9 51.9h1.31M263.6 40.7h1.31M276.9 68.2h1.31M279.8 52.1h1.31M271.4 57.4h1.31M281.1 45.4h1.31M284.8 31.6h1.31M271.7 49.2h1.31M271.7 55.1h1.31M272.8 68.0h1.31M272.6 67.6h1.31M271.5 48.4h1.31M279.2 62.5h1.31M271.6 48.6h1.31M283.9 30.9h1.31M253.5 39.1h1.31M284.1 31.1h1.31M257.7 39.7h1.31M274.9 14.6h1.31M284.9 40.0h1.31M283.3 30.2h1.31M253.6 39.1h1.31M264.0 40.8h1.31M278.4 65.3h1.31M279.7 51.1h1.31M283.0 42.4h1.31M285.3 39.3h1.31M270.7 46.8h1.31M285.9 32.9h1.31M285.9 38.1h1.31M251.6 36.7h1.31M286.3 37.0h1.31M271.5 48.2h1.31M272.0 50.7h1.31M262.3 14.0h1.31M276.1 68.7h1.31M279.7 58.7h1.31M253.0 28.5h1.31M286.5 35.8h1.31M273.6 13.7h1.31M266.4 42.8h1.31M279.5 21.9h1.31M286.2 37.0h1.31M266.1 42.6h1.31M264.5 41.2h1.31M251.9 37.2h1.31M286.5 34.9h1.31M255.6 39.7h1.31M259.5 19.3h1.31M281.1 44.9h1.31M281.8 27.8h1.31M272.9 67.9h1.31M251.5 36.3h1.31M284.9 32.2h1.31M262.1 14.4h1.31M252.3 37.8h1.31M259.1 20.7h1.31M260.4 17.2h1.31M263.1 40.0h1.31M256.1 25.8h1.31M285.8 37.8h1.31M285.4 32.7h1.31M279.7 56.7h1.31M270.2 46.0h1.31M279.7 48.8h1.31M286.0 33.6h1.31M271.7 64.3h1.31M265.7 11.8h1.31M279.1 62.7h1.31M281.3 44.4h1.31M282.4 42.7h1.31M260.1 18.1h1.31M266.1 42.4h1.31M277.6 66.8h1.31M271.7 63.9h1.31M279.7 55.6h1.31M285.0 39.2h1.31M270.5 46.2h1.31M280.3 24.1h1.31M266.7 11.6h1.31M264.4 40.9h1.31M286.2 36.2h1.31M284.0 40.6h1.31M280.4 45.8h1.31M280.6 45.4h1.31M278.0 19.2h1.31M259.1 21.1h1.31M279.6 55.1h1.31M268.7 44.5h1.31M263.9 12.8h1.31M285.6 33.3h1.31M279.5 52.0h1.31M271.8 56.2h1.31M285.4 33.1h1.31M277.0 17.6h1.31M283.3 31.0h1.31M280.2 46.2h1.31M283.8 31.6h1.31M280.9 44.7h1.31M285.3 33.1h1.31M258.1 23.6h1.31M255.5 26.5h1.31M279.4 60.1h1.31M283.6 40.9h1.31M251.1 33.7h1.31M263.0 39.6h1.31M271.8 64.2h1.31"/>
<path stroke="rgb(53, 163, 200)" stroke-width="1.37" d="M272.1 53.9h1.37M276.9 67.6h1.37M280.1 46.1h1.37M251.2 34.1h1.37M281.2 27.0h1.37M282.7 30.4h1.37M272.5 66.7h1.37M252.4 29.7h1.37M259.8 19.6h1.37M286.0 35.6h1.37M285.9 34.6h1.37M272.1 65.2h1.37M279.4 48.9h1.37M277.7 18.9h1.37M285.7 34.3h1.37M279.9 46.5h1.37M253.9 38.9h1.37M279.4 49.0h1.37M271.6 60.1h1.37M257.7 39.2h1.37M279.4 48.6h1.37M284.9 33.1h1.37M277.1 18.0h1.37M282.9 30.9h1.37M282.6 41.9h1.37M262.4 39.2h1.37M283.0 31.0h1.37M279.5 54.3h1.37M272.6 66.6h1.37M279.5 47.8h1.37M280.5 25.4h1.37M282.2 42.3h1.37M272.4 49.9h1.37M282.2 29.8h1.37M279.3 52.0h1.37M285.8 36.1h1.37M254.2 38.9h1.37M271.6 60.2h1.37M284.9 38.5h1.37M263.5 13.5h1.37M277.1 67.1h1.37M279.9 46.3h1.37M272.5 66.3h1.37M256.4 26.0h1.37M282.2 29.8h1.37M285.6 34.6h1.37M274.8 15.2h1.37M270.6 45.7h1.37M275.6 68.4h1.37M279.5 56.3h1.37M285.7 35.8h1.37M258.0 39.0h1.37M266.6 42.4h1.37M285.5 36.6h1.37M279.7 46.7h1.37M271.8 13.0h1.37M261.6 38.7h1.37M282.1 42.2h1.37M279.4 47.6h1.37M272.3 48.3h1.37M279.2 49.0h1.37M281.7 42.7h1.37M271.7 62.0h1.37M279.2 60.4h1.37M279.4 22.6h1.37M278.4 64.3h1.37M283.0 41.0h1.37M284.3 39.3h1.37M269.0 44.2h1.37M272.2 47.8h1.37M284.6 38.6h1.37M270.7 45.7h1.37M253.7 38.5h1.37M280.2 24.8h1.37M272.3 65.5h1.37M271.5 46.5h1.37M268.1 43.5h1.37M279.7 46.0h1.37M272.6 51.6h1.37M259.1 22.2h1.37M285.1 37.4h1.37M285.4 36.1h1.37M269.4 44.5h1.37M258.5 23.7h1.37M276.0 68.1h1.37M268.2 43.5h1.37M284.7 38.3h1.37M278.6 63.5h1.37M272.3 47.8h1.37M260.0 19.6h1.37M280.4 25.6h1.37M285.2 35.4h1.37M267.6 43.0h1.37M279.3 58.9h1.37M279.2 53.2h1.37M265.2 12.7h1.37M282.0 41.9h1.37M284.7 38.0h1.37M281.6 42.5h1.37M254.7 38.9h1.37M267.1 42.5h1.37M260.1 38.3h1.37M281.2 28.1h1.37M272.8 49.6h1.37M267.1 42.5h1.37M274.2 15.0h1.37M264.7 40.3h1.37M284.8 34.6h1.37M251.6 34.9h1.37M266.6 42.0h1.37M283.9 39.2h1.37M282.8 40.7h1.37M284.9 36.8h1.37M283.5 39.7h1.37M257.9 25.0h1.37M252.7 37.4h1.37M284.0 38.8h1.37M272.4 54.7h1.37M272.7 48.2h1.37M279.5 45.8h1.37M272.8 48.9h1.37M272.9 66.6h1.37M271.9 58.5h1.37M253.7 38.3h1.37M279.9 44.9h1.37M269.4 44.2h1.37M284.4 38.1h1.37M256.3 26.6h1.37M271.9 62.8h1.37M271.9 62.6h1.37M281.5 42.3h1.37M274.6 68.1h1.37M276.4 67.5h1.37M257.5 38.8h1.37M259.7 38.2h1.37M279.1 60.1h1.37M259.3 22.5h1.37M264.8 40.3h1.37M271.9 62.5h1.37M279.0 52.2h1.37M272.7 47.9h1.37M261.3 38.2h1.37M265.2 40.6h1.37M284.8 36.0h1.37M281.4 42.2h1.37M278.8 49.2h1.37M279.2 56.4h1.37M280.1 44.3h1.37M255.0 38.8h1.37M284.0 33.9h1.37M279.1 54.2h1.37M278.9 51.4h1.37M279.1 59.2h1.37M272.9 66.4h1.37M267.5 42.5h1.37M284.3 37.7h1.37M282.3 31.4h1.37M279.1 46.4h1.37M251.8 35.1h1.37M276.7 67.0h1.37M259.9 21.1h1.37M272.5 47.2h1.37M272.7 65.7h1.37M275.3 67.9h1.37M267.4 12.5h1.37M281.1 28.5h1.37M261.2 38.0h1.37M284.3 37.4h1.37M272.9 52.3h1.37M283.8 38.4h1.37M273.1 50.5h1.37M273.0 48.3h1.37M265.2 40.4h1.37M273.5 67.1h1.37M264.9 40.1h1.37M264.0 39.4h1.37M278.3 63.7h1.37M278.9 52.6h1.37M278.6 50.0h1.37M273.1 48.7h1.37M284.0 34.4h1.37M284.3 37.0h1.37M278.4 63.4h1.37M260.1 37.9h1.37M268.6 12.5h1.37M278.9 53.5h1.37M270.3 44.5h1.37M280.0 43.9h1.37M273.2 66.6h1.37M278.6 49.4h1.37M253.8 28.9h1.37M272.1 58.6h1.37M259.4 22.7h1.37M252.1 36.0h1.37M252.0 32.0h1.37M252.6 36.9h1.37M253.2 37.6h1.37M261.2 37.8h1.37M278.7 51.3h1.37M284.1 35.3h1.37M274.1 67.6h1.37M265.8 40.8h1.37M260.8 18.7h1.37M259.5 22.5h1.37M263.9 14.1h1.37M278.7 47.1h1.37M252.2 31.4h1.37M283.1 39.2h1.37M273.3 50.3h1.37M260.5 19.6h1.37M278.6 50.6h1.37M272.5 64.9h1.37M257.7 25.9h1.37M279.0 58.7h1.37M272.7 47.0h1.37M275.9 17.3h1.37M281.4 41.6h1.37M264.8 13.5h1.37M252.1 31.7h1.37M275.6 67.6h1.37M278.7 52.2h1.37M283.0 33.4h1.37M263.8 14.3h1.37M257.5 26.1h1.37M269.8 44.0h1.37M273.3 66.6h1.37M260.8 18.9h1.37M272.8 53.6h1.37M274.1 15.4h1.37M278.8 53.6h1.37M273.0 47.4h1.37M282.1 40.4h1.37M273.3 48.4h1.37M251.8 34.2h1.37M254.1 38.1h1.37M274.8 16.1h1.37M260.2 37.7h1.37M262.3 38.0h1.37M277.1 19.2h1.37M272.3 57.0h1.37M278.4 47.6h1.37M278.8 22.5h1.37M262.4 38.1h1.37M282.7 39.5h1.37M264.4 13.9h1.37M278.7 22.3h1.37M278.8 46.0h1.37M283.6 34.9h1.37M253.0 37.2h1.37M282.9 39.0h1.37M272.3 63.4h1.37M279.7 25.0h1.37M275.5 67.5h1.37M262.5 15.9h1.37M277.0 19.1h1.37M274.4 15.9h1.37M252.4 31.1h1.37M282.9 38.8h1.37M251.9 32.7h1.37M280.5 42.4h1.37M252.9 36.9h1.37M273.2 47.4h1.37M269.2 43.4h1.37M268.7 43.0h1.37M282.7 39.1h1.37M281.7 31.2h1.37M269.9 13.1h1.37M256.5 27.1h1.37M277.2 65.9h1.37M273.6 49.5h1.37M283.5 35.3h1.37M266.8 12.9h1.37M259.2 23.8h1.37M278.7 22.6h1.37M279.4 24.4h1.37M279.8 43.4h1.37M268.2 12.9h1.37M281.2 41.2h1.37M283.2 37.9h1.37M272.8 54.7h1.37M282.6 33.4h1.37M280.2 42.6h1.37M266.5 41.2h1.37M270.1 13.2h1.37M272.4 57.1h1.37M278.5 62.0h1.37M278.2 49.6h1.37M278.2 63.2h1.37M262.0 16.8h1.37M272.1 14.1h1.37M259.7 37.6h1.37M258.6 37.9h1.37M252.2 35.4h1.37M278.4 46.3h1.37M253.3 29.8h1.37M273.3 66.3h1.37M278.5 52.0h1.37M270.3 44.0h1.37M278.4 51.6h1.37M267.4 12.9h1.37M273.1 46.8h1.37M252.4 35.9h1.37M278.4 51.9h1.37M252.0 32.7h1.37M281.3 40.8h1.37M283.0 34.9h1.37M268.7 13.0h1.37M275.4 17.2h1.37M279.5 24.8h1.37M255.1 28.2h1.37M268.4 13.0h1.37M276.7 66.4h1.37M253.0 36.9h1.37M260.1 21.7h1.37M281.6 40.3h1.37M252.7 30.8h1.37M282.9 38.0h1.37M261.8 17.4h1.37M278.0 47.7h1.37M265.3 40.0h1.37M273.2 46.7h1.37M267.3 13.0h1.37M278.1 46.9h1.37M261.6 37.4h1.37M258.7 37.7h1.37M272.9 54.5h1.37M269.0 43.0h1.37M253.3 37.2h1.37M278.3 51.7h1.37M278.1 46.7h1.37M273.8 48.0h1.37M253.1 36.9h1.37M282.9 34.8h1.37M260.4 20.8h1.37M278.7 54.2h1.37M262.3 37.6h1.37M271.6 44.9h1.37M253.0 30.4h1.37M279.2 43.9h1.37M259.9 22.5h1.37M273.8 50.2h1.37M281.3 30.8h1.37M279.2 24.1h1.37M273.8 49.9h1.37M252.8 36.5h1.37M259.3 37.5h1.37"/>
<path stroke="rgb(55, 175, 192)" stroke-width="1.4" d="M282.7 38.1h1.4M281.1 40.9h1.4M279.8 42.8h1.4M277.9 48.3h1.4M278.7 59.9h1.4M282.6 34.3h1.4M278.0 46.7h1.4M263.6 15.0h1.4M273.5 52.1h1.4M272.6 56.6h1.4M260.7 37.2h1.4M253.6 37.3h1.4M273.7 51.4h1.4M278.6 60.8h1.4M264.2 14.5h1.4M252.3 35.2h1.4M275.3 67.2h1.4M278.0 46.5h1.4M273.8 50.8h1.4M278.4 45.3h1.4M274.0 49.3h1.4M278.8 44.4h1.4M254.7 38.0h1.4M261.5 37.2h1.4M262.9 15.9h1.4M282.9 36.0h1.4M276.5 66.4h1.4M278.5 22.5h1.4M278.6 54.1h1.4M278.0 50.9h1.4M269.1 13.2h1.4M274.8 67.1h1.4M257.9 37.8h1.4M267.8 41.9h1.4M265.9 13.6h1.4M274.1 48.4h1.4M277.8 47.1h1.4M258.0 26.4h1.4M272.3 14.5h1.4M278.5 61.2h1.4M281.8 39.2h1.4M277.9 50.6h1.4M273.5 46.6h1.4M258.7 37.5h1.4M252.5 35.6h1.4M281.3 31.4h1.4M281.3 39.9h1.4M261.6 18.4h1.4M264.6 14.4h1.4M277.5 48.6h1.4M252.2 33.0h1.4M265.7 40.0h1.4M263.4 15.5h1.4M272.8 64.5h1.4M278.4 44.7h1.4M272.8 64.4h1.4M273.0 54.9h1.4M267.2 13.4h1.4M270.4 13.7h1.4M279.4 25.3h1.4M282.5 36.1h1.4M273.9 15.9h1.4M276.2 66.4h1.4M259.5 24.2h1.4M273.7 46.5h1.4M280.5 41.0h1.4M265.6 13.9h1.4M277.9 63.3h1.4M278.1 45.1h1.4M263.6 15.3h1.4M269.6 43.0h1.4M278.0 51.9h1.4M265.6 13.9h1.4M273.2 65.3h1.4M252.4 34.8h1.4M256.5 37.9h1.4M272.6 62.9h1.4M277.9 45.5h1.4M280.3 41.2h1.4M278.7 58.0h1.4M255.4 28.4h1.4M281.7 33.4h1.4M275.5 66.8h1.4M278.1 62.6h1.4M272.5 58.5h1.4M269.3 13.5h1.4M277.6 46.0h1.4M278.6 59.8h1.4M272.9 64.4h1.4M277.2 47.8h1.4M281.0 40.0h1.4M279.0 24.3h1.4M277.9 45.3h1.4M280.4 40.9h1.4M277.9 45.3h1.4M272.5 60.4h1.4M274.3 50.5h1.4M278.6 57.8h1.4M277.1 48.3h1.4M280.2 28.2h1.4M273.5 65.7h1.4M277.8 45.3h1.4M274.2 50.8h1.4M277.2 46.8h1.4M277.8 45.3h1.4M276.3 18.9h1.4M273.5 65.7h1.4M278.3 44.1h1.4M256.0 28.2h1.4M275.7 66.6h1.4M272.5 60.1h1.4M278.5 23.1h1.4M255.1 28.8h1.4M262.9 16.4h1.4M272.5 61.5h1.4M264.4 14.9h1.4M264.7 38.7h1.4M271.9 14.6h1.4M259.1 37.0h1.4M264.7 38.7h1.4M272.5 60.2h1.4M273.6 65.7h1.4M253.5 30.3h1.4M259.3 36.9h1.4M274.6 50.3h1.4M272.7 58.2h1.4M277.7 51.5h1.4M269.3 42.5h1.4M277.9 44.5h1.4M278.2 43.9h1.4M257.6 27.4h1.4M278.5 59.6h1.4M261.9 36.7h1.4M275.2 47.8h1.4M278.6 43.3h1.4M260.9 21.0h1.4M264.3 15.1h1.4M277.3 45.6h1.4M272.6 59.8h1.4M275.2 48.7h1.4M281.5 33.7h1.4M267.7 41.3h1.4M266.5 13.9h1.4M277.2 50.3h1.4M279.9 41.1h1.4M275.4 66.5h1.4M278.0 53.2h1.4M262.9 16.7h1.4M281.6 37.6h1.4M268.7 13.6h1.4M270.5 14.0h1.4M263.2 16.3h1.4M263.8 37.8h1.4M276.6 46.7h1.4M266.2 14.0h1.4M276.8 49.4h1.4M276.8 49.4h1.4M273.5 15.9h1.4M253.0 31.2h1.4M275.5 47.6h1.4M274.7 50.5h1.4M272.7 62.3h1.4M276.1 47.9h1.4M276.2 47.5h1.4M276.4 47.0h1.4M275.7 47.5h1.4M278.3 43.4h1.4M277.7 44.5h1.4M274.9 46.6h1.4M264.5 15.0h1.4M277.7 21.6h1.4M274.9 50.2h1.4M281.6 35.5h1.4M275.3 49.2h1.4M252.7 35.2h1.4M275.8 48.7h1.4M280.5 30.2h1.4M252.5 33.7h1.4M273.4 54.8h1.4M272.9 56.9h1.4M274.3 51.9h1.4M276.4 65.7h1.4M268.0 13.7h1.4M280.1 40.4h1.4M280.7 39.4h1.4M276.9 65.0h1.4M275.0 46.5h1.4M275.3 46.6h1.4M254.4 29.6h1.4M267.5 41.0h1.4M260.7 22.0h1.4M272.1 14.9h1.4M280.6 30.9h1.4M275.1 46.5h1.4M276.6 49.6h1.4M276.5 49.5h1.4M278.4 57.3h1.4M274.2 52.1h1.4M254.1 37.0h1.4M279.9 40.6h1.4M273.2 64.3h1.4M277.2 51.0h1.4M280.8 39.0h1.4M276.1 46.3h1.4M269.4 42.3h1.4M265.3 14.6h1.4M262.4 17.7h1.4M271.7 43.8h1.4M281.3 34.7h1.4M261.5 36.3h1.4M264.6 38.4h1.4M276.5 50.0h1.4M263.9 15.8h1.4M266.0 39.6h1.4M272.9 62.9h1.4M277.5 44.3h1.4M277.5 52.3h1.4M271.1 43.4h1.4M258.4 27.2h1.4M278.2 55.3h1.4M252.6 33.7h1.4M255.7 37.5h1.4M262.5 17.8h1.4M267.9 13.9h1.4M272.7 60.2h1.4M276.1 50.1h1.4M272.4 44.1h1.4M277.9 53.9h1.4M256.2 28.6h1.4M279.9 40.2h1.4M258.7 27.0h1.4M256.4 28.5h1.4M267.9 13.9h1.4M280.8 32.6h1.4M273.0 44.4h1.4M273.0 57.2h1.4M261.3 20.5h1.4M275.1 66.2h1.4M274.0 65.6h1.4M277.0 51.4h1.4M264.8 15.1h1.4M262.1 36.3h1.4M259.5 25.9h1.4M254.5 37.0h1.4M278.1 61.1h1.4M261.0 36.0h1.4M277.7 43.5h1.4M260.8 22.2h1.4M259.0 26.7h1.4M255.7 37.4h1.4M264.9 15.1h1.4M276.9 44.6h1.4M259.0 36.4h1.4M263.8 37.4h1.4M280.3 30.5h1.4M274.7 45.1h1.4M279.8 40.0h1.4M277.8 53.8h1.4M268.1 41.1h1.4M273.1 44.3h1.4M278.0 54.8h1.4M279.9 39.8h1.4M278.2 42.6h1.4M273.5 55.4h1.4M277.5 63.1h1.4M278.0 55.3h1.4M280.9 37.1h1.4M277.1 21.0h1.4M260.2 24.2h1.4M276.3 50.9h1.4M255.6 29.1h1.4M279.7 28.2h1.4M278.3 23.7h1.4M274.3 53.1h1.4M275.3 45.1h1.4M260.7 35.8h1.4M274.8 45.0h1.4M276.8 51.5h1.4M258.7 27.2h1.4M253.0 32.2h1.4M265.7 39.0h1.4M275.6 45.0h1.4M276.6 44.4h1.4M270.8 14.6h1.4M258.8 27.2h1.4M273.8 54.4h1.4M278.2 59.6h1.4M277.7 43.0h1.4M274.5 52.6h1.4M253.0 32.6h1.4M274.0 65.2h1.4M274.3 65.5h1.4M276.8 51.8h1.4M273.5 55.5h1.4M280.8 36.5h1.4M276.0 44.7h1.4M253.1 35.0h1.4M278.2 57.2h1.4M280.7 37.2h1.4M253.3 31.7h1.4M270.8 42.8h1.4M261.6 20.3h1.4M275.3 44.8h1.4M265.0 38.2h1.4M276.1 51.3h1.4M276.8 51.8h1.4M275.9 19.2h1.4M253.1 32.2h1.4M276.2 44.4h1.4M280.8 35.9h1.4M277.3 63.5h1.4M253.9 36.3h1.4M255.2 37.0h1.4M261.9 35.8h1.4M260.5 24.0h1.4M276.1 19.4h1.4M256.4 37.1h1.4M278.8 25.4h1.4M276.1 51.5h1.4M252.9 33.3h1.4M277.2 52.8h1.4M274.4 44.4h1.4M274.4 53.3h1.4M273.1 58.6h1.4M280.4 37.5h1.4M274.8 52.5h1.4M261.3 35.6h1.4M279.7 28.7h1.4M264.1 37.3h1.4M273.2 57.3h1.4M277.6 42.6h1.4M274.6 53.0h1.4M278.7 41.1h1.4M276.9 43.5h1.4M255.1 36.9h1.4M275.6 65.6h1.4M274.6 52.9h1.4M277.5 53.7h1.4M276.2 65.1h1.4M279.9 38.9h1.4M280.6 35.4h1.4M277.5 42.7h1.4M269.3 14.4h1.4M280.1 30.7h1.4M274.1 44.1h1.4M261.5 35.5h1.4M279.1 40.3h1.4M279.5 28.3h1.4M279.4 27.8h1.4M271.9 43.1h1.4M266.2 39.1h1.4M261.6 35.5h1.4M273.1 62.1h1.4M269.9 42.0h1.4M276.8 20.9h1.4M271.5 15.2h1.4M256.2 36.9h1.4M277.5 62.3h1.4M253.1 33.2h1.4"/>
<path stroke="rgb(65, 178, 170)" stroke-width="1.4" d="M262.2 19.2h1.4M278.0 59.9h1.4M275.1 18.4h1.4M277.5 62.3h1.4M278.0 58.7h1.4M278.0 57.8h1.4M274.3 17.4h1.4M269.9 41.9h1.4M278.0 57.1h1.4M277.7 61.6h1.4M275.5 65.4h1.4M268.8 41.2h1.4M273.5 56.7h1.4M275.5 52.3h1.4M271.5 15.2h1.4M279.2 27.2h1.4M276.3 43.6h1.4M276.9 43.0h1.4M264.9 15.7h1.4M274.3 54.0h1.4M276.9 43.0h1.4M254.1 36.1h1.4M268.9 14.5h1.4M280.3 32.9h1.4M277.2 42.7h1.4M275.6 65.3h1.4M274.2 54.4h1.4M280.0 37.8h1.4M280.3 33.7h1.4M273.5 57.0h1.4M277.1 53.5h1.4M263.1 17.8h1.4M275.4 52.5h1.4M257.3 36.5h1.4M253.7 31.5h1.4M258.7 28.1h1.4M261.6 21.1h1.4M272.4 43.1h1.4M277.7 55.8h1.4M266.2 15.0h1.4M257.4 28.9h1.4M279.5 29.0h1.4M276.4 52.6h1.4M258.4 36.0h1.4M273.1 60.4h1.4M266.2 38.9h1.4M273.2 58.8h1.4M261.5 21.6h1.4M280.1 37.1h1.4M276.3 43.3h1.4M278.5 40.6h1.4M276.3 52.6h1.4M261.8 20.7h1.4M271.7 42.7h1.4M258.9 28.1h1.4M277.2 63.0h1.4M274.3 43.7h1.4M273.5 63.3h1.4M273.6 43.5h1.4M276.5 64.2h1.4M276.7 63.9h1.4M261.3 22.2h1.4M277.8 23.3h1.4M275.4 52.9h1.4M276.8 42.6h1.4M280.1 36.5h1.4M278.5 40.5h1.4M273.4 57.7h1.4M258.2 28.7h1.4M279.1 39.2h1.4M274.9 43.6h1.4M257.2 36.4h1.4M280.2 35.4h1.4M254.6 36.2h1.4M280.0 36.8h1.4M280.0 32.2h1.4M278.8 26.4h1.4M270.8 42.2h1.4M277.6 55.8h1.4M280.1 32.7h1.4M280.1 36.4h1.4M269.1 41.1h1.4M274.0 64.3h1.4M263.7 36.4h1.4M254.2 35.9h1.4M279.6 29.8h1.4M276.6 42.7h1.4M273.6 43.3h1.4M278.5 25.5h1.4M273.6 63.3h1.4M277.6 61.2h1.4M271.4 15.4h1.4M267.5 14.8h1.4M260.1 26.4h1.4M261.5 21.9h1.4M277.2 22.1h1.4M256.5 36.5h1.4M266.6 15.0h1.4M265.8 15.4h1.4M259.1 35.3h1.4M264.1 16.8h1.4M276.6 64.0h1.4M260.9 24.0h1.4M273.0 43.0h1.4M253.7 35.2h1.4M271.8 15.6h1.4M261.5 22.0h1.4M257.0 29.4h1.4M258.2 35.8h1.4M278.1 24.3h1.4M261.1 23.6h1.4M253.9 31.7h1.4M272.0 42.6h1.4M272.8 16.3h1.4M253.4 33.0h1.4M264.8 16.2h1.4M278.9 26.9h1.4M274.2 55.2h1.4M275.7 53.2h1.4M276.8 63.4h1.4M274.6 43.3h1.4M253.6 32.7h1.4M253.7 34.9h1.4M273.0 42.9h1.4M279.0 27.7h1.4M276.0 20.1h1.4M276.0 42.8h1.4M275.4 64.9h1.4M271.5 42.3h1.4M267.3 39.6h1.4M254.8 36.1h1.4M266.4 38.8h1.4M277.1 41.8h1.4M279.7 31.6h1.4M274.5 43.2h1.4M279.9 32.7h1.4M260.7 34.5h1.4M272.0 15.9h1.4M261.0 24.0h1.4M266.5 15.2h1.4M274.8 43.1h1.4M277.6 56.7h1.4M277.2 41.6h1.4M258.9 35.1h1.4M261.5 22.6h1.4M259.4 34.8h1.4M276.8 42.1h1.4M257.2 29.6h1.4M264.7 37.1h1.4M253.6 33.0h1.4M271.6 42.2h1.4M262.4 19.9h1.4M253.8 32.3h1.4M275.4 53.7h1.4M260.7 34.3h1.4M261.5 34.5h1.4M279.7 36.1h1.4M279.1 38.2h1.4M264.5 36.8h1.4M260.6 25.8h1.4M277.6 57.8h1.4M279.0 38.4h1.4M266.0 15.6h1.4M272.1 16.0h1.4M272.7 42.5h1.4M276.9 21.9h1.4M274.0 63.6h1.4M259.8 34.4h1.4M276.4 42.0h1.4M257.6 35.6h1.4M273.1 16.8h1.4M279.1 28.7h1.4M265.0 37.2h1.4M276.3 53.9h1.4M275.1 54.2h1.4M254.8 35.8h1.4M273.9 42.8h1.4M264.2 17.1h1.4M275.0 64.5h1.4M256.6 30.0h1.4M273.5 61.2h1.4M274.6 42.8h1.4M274.9 54.6h1.4M279.5 36.5h1.4M259.7 28.3h1.4M274.4 64.0h1.4M262.9 19.1h1.4M253.8 33.1h1.4M257.8 29.7h1.4M258.2 35.2h1.4M276.5 54.3h1.4M254.0 34.8h1.4M261.7 22.3h1.4M276.3 54.1h1.4M259.6 34.2h1.4M277.4 56.7h1.4M265.3 16.2h1.4M259.4 28.9h1.4M279.6 35.3h1.4M279.5 35.9h1.4M279.1 37.5h1.4M270.6 15.4h1.4M277.0 55.3h1.4M279.5 35.5h1.4M260.8 33.8h1.4M274.6 42.5h1.4M255.9 35.9h1.4M262.0 21.8h1.4M277.4 59.7h1.4M265.1 16.4h1.4M269.6 15.2h1.4M261.9 22.0h1.4M277.4 60.0h1.4M279.3 30.2h1.4M264.1 36.1h1.4M276.5 63.2h1.4M268.6 40.2h1.4M275.6 19.9h1.4M273.9 62.7h1.4M268.4 40.0h1.4M259.8 33.8h1.4M263.9 17.7h1.4M273.7 58.6h1.4M256.7 30.3h1.4M257.4 30.1h1.4M258.0 30.0h1.4M279.0 37.3h1.4M276.7 55.0h1.4M266.6 38.5h1.4M274.5 63.7h1.4M260.6 26.8h1.4M259.3 34.0h1.4M273.7 59.7h1.4M277.4 58.9h1.4M273.7 59.1h1.4M261.5 23.6h1.4M278.0 25.1h1.4M274.2 42.4h1.4M275.3 64.1h1.4M262.4 20.6h1.4M276.2 54.6h1.4M279.4 32.6h1.4M274.9 42.2h1.4M274.2 56.9h1.4M259.9 28.8h1.4M258.5 34.4h1.4M273.4 17.3h1.4M254.4 32.2h1.4M256.3 30.6h1.4M275.5 64.0h1.4M276.1 63.4h1.4M276.5 62.9h1.4M259.5 33.6h1.4M276.3 54.8h1.4M273.6 42.2h1.4M254.1 33.6h1.4M276.7 55.4h1.4M277.1 56.6h1.4M279.0 37.0h1.4M268.7 40.1h1.4M277.2 60.6h1.4M274.1 42.2h1.4M261.6 23.4h1.4M278.2 26.1h1.4M256.8 35.4h1.4M279.1 36.2h1.4M261.5 24.0h1.4M272.6 42.0h1.4M274.6 63.5h1.4M277.3 59.5h1.4M261.0 33.2h1.4M273.9 61.7h1.4M258.9 30.4h1.4M261.2 33.3h1.4M278.4 38.2h1.4M273.8 42.1h1.4M273.5 42.1h1.4M255.4 31.3h1.4M277.2 59.6h1.4M275.6 54.9h1.4M278.2 26.3h1.4M274.4 18.5h1.4M254.3 34.3h1.4M276.8 22.3h1.4M276.7 40.8h1.4M257.3 30.6h1.4M278.8 28.9h1.4M260.5 28.2h1.4M259.3 33.3h1.4M256.5 30.8h1.4M254.4 34.4h1.4M262.4 21.1h1.4M260.8 27.4h1.4M264.6 36.2h1.4M263.4 19.0h1.4M277.9 25.1h1.4M271.8 16.3h1.4M278.0 38.8h1.4M261.1 26.1h1.4M278.9 36.4h1.4M271.4 16.1h1.4M265.4 16.6h1.4M263.5 18.8h1.4M255.8 35.4h1.4M261.4 25.1h1.4M260.7 27.7h1.4M278.7 37.1h1.4M278.9 29.3h1.4M277.1 59.7h1.4M279.1 30.7h1.4M260.0 30.0h1.4M259.7 30.5h1.4M279.1 31.2h1.4M278.5 37.7h1.4M273.9 60.3h1.4M274.1 62.0h1.4M260.3 29.2h1.4M259.2 31.1h1.4M257.0 34.9h1.4M274.4 62.8h1.4M263.0 20.0h1.4M278.4 37.6h1.4M274.0 59.7h1.4M259.5 32.0h1.4M274.0 61.2h1.4M273.5 17.7h1.4M261.8 23.6h1.4M257.0 31.1h1.4M274.0 60.0h1.4M274.1 61.7h1.4M254.5 33.7h1.4M277.1 23.4h1.4M264.6 35.9h1.4M275.8 55.5h1.4M271.0 41.1h1.4M276.7 40.3h1.4M258.5 31.4h1.4M263.4 19.3h1.4M258.6 33.1h1.4M270.0 40.5h1.4M274.0 60.9h1.4M274.0 60.7h1.4M255.1 32.0h1.4M278.3 37.8h1.4M276.0 55.6h1.4M261.1 27.0h1.4M260.8 32.1h1.4M273.3 41.7h1.4M255.3 34.8h1.4M276.1 21.3h1.4M275.3 63.2h1.4M261.4 32.6h1.4M277.0 59.5h1.4M268.7 15.6h1.4M279.0 31.6h1.4"/>
<path stroke="rgb(74, 181, 149)" stroke-width="1.4" d="M277.0 58.2h1.4M260.7 28.8h1.4M275.0 56.2h1.4M274.2 58.3h1.4M268.7 39.7h1.4M262.9 34.1h1.4M274.5 57.3h1.4M274.6 41.6h1.4M267.3 38.6h1.4M274.3 58.0h1.4M275.4 63.1h1.4M260.4 30.4h1.4M279.0 34.4h1.4M256.3 34.9h1.4M260.4 30.9h1.4M256.3 34.9h1.4M267.9 39.1h1.4M255.5 31.9h1.4M256.0 34.9h1.4M263.1 20.0h1.4M255.7 34.8h1.4M276.0 55.9h1.4M258.3 32.9h1.4M257.3 31.4h1.4M276.7 61.1h1.4M273.5 41.6h1.4M258.3 32.8h1.4M274.1 60.6h1.4M261.7 24.6h1.4M272.3 16.9h1.4M277.3 39.4h1.4M277.3 39.4h1.4M256.2 31.6h1.4M276.2 56.2h1.4M258.1 33.0h1.4M278.3 27.2h1.4M276.7 60.8h1.4M255.1 34.4h1.4M260.7 30.0h1.4M263.0 20.4h1.4M263.7 19.1h1.4M257.3 34.1h1.4M274.9 41.3h1.4M275.3 20.1h1.4M256.8 31.6h1.4M260.7 30.5h1.4M254.9 33.5h1.4M278.6 36.2h1.4M275.1 41.2h1.4M261.6 25.3h1.4M275.2 62.9h1.4M270.5 40.6h1.4M274.5 58.0h1.4M261.8 24.8h1.4M278.0 37.8h1.4M275.9 40.6h1.4M278.9 32.7h1.4M276.1 40.5h1.4M274.2 41.4h1.4M274.0 18.4h1.4M276.6 57.3h1.4M278.4 36.8h1.4M274.3 59.6h1.4M278.6 29.1h1.4M257.7 33.2h1.4M274.3 61.2h1.4M276.0 21.4h1.4M277.2 39.1h1.4M278.9 33.0h1.4M265.9 37.0h1.4M278.6 35.9h1.4M255.5 34.2h1.4M275.6 56.4h1.4M278.8 31.7h1.4M276.3 61.6h1.4M275.5 62.6h1.4M276.6 60.5h1.4M263.5 19.6h1.4M268.1 15.9h1.4M276.2 40.2h1.4M278.8 33.0h1.4M274.6 61.7h1.4M256.0 34.2h1.4M256.1 32.2h1.4M264.4 18.2h1.4M276.7 59.4h1.4M276.7 58.5h1.4M270.3 40.4h1.4M261.3 27.6h1.4M257.0 32.3h1.4M276.3 61.4h1.4M274.8 62.2h1.4M278.6 30.1h1.4M261.1 29.2h1.4M270.5 40.4h1.4M256.6 32.3h1.4M267.5 16.1h1.4M278.8 32.4h1.4M275.8 56.7h1.4M275.9 40.4h1.4M274.9 62.2h1.4M272.2 41.0h1.4M265.5 36.4h1.4M261.2 29.4h1.4M276.1 61.7h1.4M276.4 57.5h1.4M270.7 40.5h1.4M262.3 23.3h1.4M278.7 30.8h1.4M274.3 19.0h1.4M256.5 32.6h1.4M270.5 40.4h1.4M274.5 59.8h1.4M277.3 24.5h1.4M267.4 16.2h1.4M276.0 57.1h1.4M275.1 57.4h1.4M274.6 59.3h1.4M274.7 61.3h1.4M268.4 16.0h1.4M262.3 23.5h1.4M276.5 59.2h1.4M276.1 21.9h1.4M274.8 61.6h1.4M262.5 22.8h1.4M267.5 38.3h1.4M266.4 37.3h1.4M267.1 37.9h1.4M263.0 33.5h1.4M266.1 16.9h1.4M271.2 16.5h1.4M264.2 34.8h1.4M275.9 57.3h1.4M274.6 59.5h1.4M265.7 36.5h1.4M274.6 59.8h1.4M262.2 32.3h1.4M265.0 17.9h1.4M275.9 40.0h1.4M263.7 34.2h1.4M265.3 17.6h1.4M271.3 16.6h1.4M274.7 60.4h1.4M274.0 18.8h1.4M278.5 34.2h1.4M272.5 40.8h1.4M276.0 57.7h1.4M274.8 59.1h1.4M261.7 26.9h1.4M277.6 25.7h1.4M274.7 40.7h1.4M273.8 40.8h1.4M267.7 16.3h1.4M276.2 60.2h1.4M272.5 17.4h1.4M262.1 24.6h1.4M265.9 17.2h1.4M277.3 25.0h1.4M275.8 21.5h1.4M274.1 18.9h1.4M275.6 61.4h1.4M272.2 40.7h1.4M271.8 40.6h1.4M275.9 58.1h1.4M262.5 23.3h1.4M274.1 18.9h1.4M277.0 38.4h1.4M275.1 58.7h1.4M278.2 35.3h1.4M261.7 30.3h1.4M276.0 60.3h1.4M261.9 30.9h1.4M273.8 18.7h1.4M274.4 19.3h1.4M262.3 31.7h1.4M270.9 16.5h1.4M263.7 33.9h1.4M275.4 58.5h1.4M266.2 36.7h1.4M277.0 38.4h1.4M265.7 36.2h1.4M275.5 60.7h1.4M275.4 58.7h1.4M276.2 22.4h1.4M267.6 16.5h1.4M261.8 27.8h1.4M275.6 58.8h1.4M263.6 33.6h1.4M262.1 25.4h1.4M269.7 39.5h1.4M275.3 59.1h1.4M275.7 60.2h1.4M267.0 16.8h1.4M266.2 17.2h1.4M262.8 32.5h1.4M278.3 30.3h1.4M276.3 39.1h1.4M270.5 39.9h1.4M275.4 60.0h1.4M263.0 32.7h1.4M266.8 37.2h1.4M267.4 37.8h1.4M273.1 40.5h1.4M269.9 16.4h1.4M278.2 34.3h1.4M261.9 28.7h1.4M261.9 28.0h1.4M265.9 17.6h1.4M261.9 29.4h1.4M265.3 35.5h1.4M278.1 29.3h1.4M271.5 40.1h1.4M265.8 36.0h1.4M269.8 16.5h1.4M275.6 39.5h1.4M264.8 18.8h1.4M267.7 16.7h1.4M262.5 31.2h1.4M272.9 40.3h1.4M263.7 33.4h1.4M276.7 24.0h1.4M275.3 21.0h1.4M262.8 23.3h1.4M278.2 33.5h1.4M275.6 21.6h1.4M265.3 18.2h1.4M263.9 33.6h1.4M272.5 17.7h1.4M267.6 16.8h1.4M275.3 39.5h1.4M271.7 17.2h1.4M262.3 26.3h1.4M271.6 17.2h1.4M274.6 20.0h1.4M262.9 23.2h1.4M270.3 39.4h1.4M264.7 19.2h1.4M277.5 26.8h1.4M270.4 16.8h1.4M276.3 38.4h1.4M278.0 29.4h1.4M263.1 22.5h1.4M274.6 20.1h1.4M262.2 28.2h1.4M266.9 36.9h1.4M267.8 37.7h1.4M278.1 31.3h1.4M276.3 23.2h1.4M263.2 22.3h1.4M265.1 18.7h1.4M262.4 26.2h1.4M271.7 39.8h1.4M273.2 18.5h1.4M263.1 22.7h1.4M278.0 30.6h1.4M264.1 33.5h1.4M277.4 36.1h1.4M265.0 34.6h1.4M269.6 38.9h1.4M264.1 33.3h1.4M262.6 25.5h1.4M271.2 39.6h1.4M278.0 31.4h1.4M262.7 30.7h1.4M268.6 16.8h1.4M277.7 28.1h1.4M268.2 37.9h1.4M264.2 33.4h1.4"/>
<path stroke="rgb(84, 184, 127)" stroke-width="1.4" d="M263.6 21.6h1.4M267.8 37.6h1.4M274.0 39.7h1.4M277.4 35.5h1.4M277.9 31.1h1.4M264.1 20.5h1.4M272.9 39.8h1.4M265.5 35.1h1.4M264.1 20.6h1.4M270.4 39.1h1.4M268.1 37.7h1.4M262.6 27.2h1.4M268.7 16.9h1.4M267.6 37.2h1.4M277.7 29.2h1.4M273.8 19.3h1.4M270.2 39.0h1.4M266.9 17.6h1.4M275.4 21.7h1.4M277.9 32.1h1.4M274.0 19.6h1.4M268.0 17.1h1.4M262.8 25.4h1.4M277.8 30.9h1.4M265.7 18.6h1.4M271.6 39.4h1.4M264.6 19.9h1.4M274.2 19.9h1.4M262.7 29.4h1.4M273.2 39.5h1.4M265.2 19.2h1.4M266.0 35.4h1.4M276.3 37.4h1.4M274.7 39.0h1.4M263.9 21.6h1.4M271.6 39.3h1.4M263.3 23.3h1.4M262.9 25.8h1.4M262.9 26.1h1.4M268.9 17.1h1.4M274.2 39.1h1.4M273.8 19.5h1.4M272.9 39.4h1.4M269.9 17.1h1.4M267.7 17.5h1.4M265.2 19.4h1.4M277.7 30.7h1.4M264.3 21.0h1.4M277.7 31.3h1.4M274.8 21.0h1.4M277.6 33.2h1.4M277.3 27.7h1.4M276.4 36.9h1.4M269.8 38.5h1.4M265.8 34.9h1.4M263.8 31.9h1.4M276.3 24.1h1.4M263.6 22.9h1.4M263.0 29.2h1.4M270.6 38.8h1.4M265.6 34.7h1.4M264.5 33.0h1.4M277.3 34.4h1.4M263.0 28.8h1.4M277.6 31.1h1.4M263.8 22.2h1.4M263.0 28.5h1.4M266.9 18.0h1.4M274.1 20.0h1.4M272.8 18.6h1.4M266.9 18.0h1.4M276.8 25.9h1.4M270.7 38.7h1.4M267.5 17.8h1.4M266.1 18.7h1.4M277.4 29.4h1.4M264.5 32.8h1.4M270.4 38.6h1.4M268.4 17.5h1.4M276.2 36.8h1.4M267.8 36.8h1.4M276.7 25.7h1.4M265.8 19.1h1.4M263.5 23.7h1.4M263.3 29.8h1.4M274.8 38.4h1.4M277.1 27.4h1.4M277.4 32.5h1.4M271.8 38.9h1.4M274.6 20.8h1.4M274.4 38.5h1.4M266.1 18.8h1.4M264.2 32.0h1.4M269.5 38.0h1.4M269.4 17.4h1.4M270.9 38.6h1.4M264.4 32.4h1.4M277.3 33.3h1.4M264.8 20.6h1.4M263.2 28.8h1.4M276.7 35.5h1.4M263.2 26.4h1.4M263.5 24.5h1.4M275.1 21.9h1.4M271.9 38.8h1.4M274.4 38.3h1.4M273.3 38.7h1.4M274.6 21.0h1.4M273.8 19.9h1.4M264.7 20.9h1.4M264.0 31.3h1.4M269.4 37.7h1.4M275.8 37.0h1.4M269.0 17.6h1.4M276.6 26.0h1.4M265.1 20.4h1.4M275.4 37.4h1.4M270.2 38.1h1.4M270.5 38.3h1.4M266.9 35.6h1.4M264.4 21.8h1.4M267.4 36.1h1.4M276.4 35.8h1.4M267.1 18.4h1.4M275.5 37.1h1.4M268.2 36.8h1.4M265.0 20.6h1.4M266.5 18.8h1.4M263.9 30.8h1.4M265.6 33.8h1.4M266.5 18.9h1.4M264.9 20.9h1.4M275.6 23.0h1.4M264.2 31.3h1.4M277.1 28.8h1.4M263.5 28.9h1.4M263.8 23.9h1.4M263.6 25.1h1.4M277.0 33.4h1.4M277.0 33.5h1.4M270.3 17.7h1.4M276.8 34.5h1.4M273.6 38.4h1.4M274.5 37.9h1.4M276.1 36.1h1.4M276.6 34.9h1.4M263.5 28.3h1.4M272.2 38.5h1.4M275.0 37.5h1.4M267.5 36.0h1.4M272.1 38.5h1.4M274.2 38.0h1.4M274.8 37.6h1.4M263.5 27.2h1.4M276.3 25.1h1.4M271.6 38.4h1.4M274.7 21.4h1.4M263.7 29.5h1.4M264.6 21.7h1.4M263.6 25.5h1.4M275.4 36.9h1.4M267.4 18.4h1.4M264.2 23.0h1.4M276.2 35.6h1.4M265.8 19.8h1.4M263.9 30.1h1.4M275.9 36.1h1.4M269.6 17.7h1.4M275.2 22.5h1.4M266.6 19.0h1.4M265.6 33.7h1.4M270.9 38.1h1.4M274.2 20.7h1.4M272.5 38.3h1.4M268.7 17.9h1.4M263.8 29.5h1.4M263.6 27.8h1.4M274.7 37.4h1.4M264.5 31.5h1.4M273.9 20.4h1.4M275.6 36.4h1.4M276.4 34.8h1.4M265.0 21.2h1.4"/>
<path stroke="rgb(107, 189, 110)" stroke-width="1.4" d="M267.5 35.7h1.4M268.0 18.3h1.4M264.2 30.6h1.4M266.0 19.8h1.4M272.8 19.2h1.4M273.2 19.5h1.4M276.9 29.1h1.4M272.1 38.1h1.4M265.3 32.7h1.4M270.1 17.9h1.4M265.0 32.2h1.4M270.2 37.6h1.4M275.7 36.0h1.4M266.8 34.8h1.4M264.4 30.7h1.4M269.4 17.9h1.4M263.9 29.0h1.4M272.2 38.0h1.4M263.8 28.1h1.4M268.2 18.3h1.4M265.0 32.2h1.4M276.6 33.7h1.4M276.6 33.5h1.4M266.9 34.9h1.4M267.8 18.5h1.4M271.5 37.9h1.4M265.0 21.7h1.4M276.7 32.9h1.4M276.9 29.5h1.4M264.0 29.1h1.4M268.9 36.7h1.4M264.3 30.2h1.4M265.4 21.1h1.4M263.9 26.1h1.4M276.4 26.5h1.4M266.3 19.8h1.4M272.5 37.9h1.4M268.2 18.4h1.4M264.2 24.5h1.4M272.0 37.8h1.4M276.7 28.6h1.4M265.2 32.2h1.4M271.7 37.8h1.4M276.8 29.7h1.4M265.6 20.8h1.4M275.6 24.0h1.4M264.1 28.4h1.4M266.5 19.8h1.4M273.9 37.3h1.4M271.4 37.6h1.4M266.2 33.6h1.4M266.1 33.5h1.4M268.2 35.9h1.4M276.1 34.5h1.4M276.7 32.0h1.4M264.1 27.8h1.4M276.7 31.6h1.4M270.4 18.2h1.4M264.1 25.7h1.4M266.7 19.7h1.4M267.9 18.8h1.4M268.2 35.8h1.4M276.7 30.1h1.4M264.3 25.0h1.4M272.5 37.5h1.4M264.2 26.4h1.4M276.7 31.0h1.4M272.3 37.5h1.4M265.8 20.9h1.4M275.9 25.0h1.4M266.8 34.1h1.4M268.6 18.5h1.4M264.6 24.0h1.4M271.3 37.4h1.4M276.2 26.3h1.4M264.9 22.9h1.4M269.4 36.6h1.4M265.6 32.3h1.4M276.6 30.9h1.4M265.0 31.0h1.4M264.3 27.8h1.4M264.4 29.0h1.4M275.3 35.6h1.4M267.0 34.3h1.4M271.4 37.3h1.4M267.7 35.1h1.4M265.4 31.8h1.4M264.3 26.5h1.4M270.5 37.0h1.4M271.1 37.2h1.4M265.7 21.3h1.4M269.0 18.5h1.4M269.3 36.3h1.4M268.2 18.8h1.4M264.4 26.0h1.4M267.8 19.1h1.4M267.2 19.6h1.4M265.7 21.4h1.4M264.4 25.7h1.4M272.4 37.3h1.4M269.2 36.2h1.4M269.0 36.1h1.4M267.4 19.4h1.4M266.6 33.6h1.4M275.9 34.2h1.4M268.9 36.0h1.4M276.4 27.8h1.4M265.3 31.4h1.4M268.1 19.0h1.4M276.4 28.3h1.4M266.9 20.0h1.4M267.5 34.6h1.4M265.1 23.0h1.4M272.4 19.4h1.4M276.5 30.0h1.4M267.0 33.9h1.4M266.7 20.3h1.4M276.1 26.5h1.4M267.9 35.0h1.4M264.7 24.7h1.4M270.7 18.6h1.4M276.4 30.2h1.4M264.8 24.2h1.4M276.3 32.1h1.4M264.6 25.8h1.4M267.3 34.3h1.4M265.0 23.8h1.4M272.0 37.0h1.4M269.1 35.9h1.4M272.9 36.9h1.4M274.6 35.9h1.4M269.2 18.7h1.4M265.1 23.3h1.4M264.6 26.0h1.4M267.1 33.9h1.4M264.8 28.8h1.4M275.8 25.6h1.4M269.9 18.6h1.4M268.2 19.2h1.4M274.5 35.9h1.4M271.5 36.8h1.4M265.4 22.8h1.4M275.8 25.5h1.4M269.5 18.7h1.4M269.3 35.9h1.4M275.3 34.7h1.4M270.0 36.3h1.4M264.7 27.2h1.4M275.9 26.0h1.4M266.4 21.0h1.4M269.7 18.7h1.4M269.2 18.8h1.4M269.5 35.9h1.4M264.9 25.1h1.4M274.0 36.1h1.4M264.8 26.1h1.4M276.2 30.6h1.4M266.9 33.2h1.4M270.2 18.7h1.4M269.9 18.8h1.4M272.2 36.6h1.4M275.9 26.4h1.4M275.9 26.6h1.4"/>
<path stroke="rgb(132, 193, 95)" stroke-width="1.4" d="M272.0 36.6h1.4M272.1 36.6h1.4M273.6 36.2h1.4M269.8 18.8h1.4M266.0 22.0h1.4M276.0 32.1h1.4M265.0 28.7h1.4M269.7 35.9h1.4M271.9 36.5h1.4M264.9 26.0h1.4M266.1 21.8h1.4M264.9 25.8h1.4M275.5 25.1h1.4M270.3 18.8h1.4M272.1 36.5h1.4M266.1 22.0h1.4M266.1 22.1h1.4M265.3 24.3h1.4M265.8 31.1h1.4M273.2 36.2h1.4M269.7 35.8h1.4M266.0 31.4h1.4M266.0 22.2h1.4M266.0 31.4h1.4M265.0 27.9h1.4M270.3 36.0h1.4M273.8 21.4h1.4M271.1 36.3h1.4M265.2 28.6h1.4M271.6 36.3h1.4M265.6 30.2h1.4M267.9 34.2h1.4M265.2 28.3h1.4M275.5 25.4h1.4M272.6 36.3h1.4M265.1 27.0h1.4M272.1 19.6h1.4M275.8 32.3h1.4M275.0 34.4h1.4M265.7 30.2h1.4M275.9 27.3h1.4M265.8 30.5h1.4M265.4 29.0h1.4M274.9 34.4h1.4M272.0 19.6h1.4M265.6 23.8h1.4M275.6 32.8h1.4M270.2 35.7h1.4M265.2 27.3h1.4M273.9 21.6h1.4M272.1 36.1h1.4M270.6 35.9h1.4M270.8 35.9h1.4M273.3 35.8h1.4M274.6 23.0h1.4M275.2 33.7h1.4M267.0 32.6h1.4M266.7 21.5h1.4M274.5 34.7h1.4M274.7 34.4h1.4M275.4 33.2h1.4M266.7 21.7h1.4M275.0 33.9h1.4M267.6 20.4h1.4M268.1 20.0h1.4M267.0 32.5h1.4M265.4 26.6h1.4M275.5 25.9h1.4M269.4 19.3h1.4M265.4 25.7h1.4M266.8 21.6h1.4M269.7 35.2h1.4M265.5 28.2h1.4M273.7 35.3h1.4M267.5 20.8h1.4M266.1 30.6h1.4M267.0 32.4h1.4M273.9 35.1h1.4M275.6 31.9h1.4M267.0 32.2h1.4M265.9 23.8h1.4M265.8 24.4h1.4M268.5 19.9h1.4M270.3 35.4h1.4M265.6 25.1h1.4M269.7 35.0h1.4M270.6 19.3h1.4M270.7 19.3h1.4M272.3 35.7h1.4M266.2 23.1h1.4M270.3 35.3h1.4M269.7 35.0h1.4M275.0 24.4h1.4M275.8 28.9h1.4M266.3 30.7h1.4M265.6 27.7h1.4M266.0 23.8h1.4M272.9 35.5h1.4M265.9 29.4h1.4M274.4 22.8h1.4M267.2 32.3h1.4M272.9 20.7h1.4M266.1 23.5h1.4M269.2 34.5h1.4M266.2 30.2h1.4M271.7 35.6h1.4M275.6 31.5h1.4M275.2 32.7h1.4M275.7 30.1h1.4M265.8 25.3h1.4M265.9 28.4h1.4M270.5 35.1h1.4M274.3 34.2h1.4M265.7 26.5h1.4M268.5 20.1h1.4M275.6 27.7h1.4M273.1 35.2h1.4M271.6 19.8h1.4M268.4 33.5h1.4M265.8 27.2h1.4M275.0 32.8h1.4M273.7 21.9h1.4M268.8 33.8h1.4M267.6 21.2h1.4M267.8 32.6h1.4M274.3 23.0h1.4M275.7 29.0h1.4M270.1 19.5h1.4M274.0 34.3h1.4M275.3 31.8h1.4M267.2 21.8h1.4M273.6 34.7h1.4M271.6 35.2h1.4M273.4 21.5h1.4M270.6 34.9h1.4M271.2 35.1h1.4M275.5 27.5h1.4M266.0 27.0h1.4M270.5 19.6h1.4M266.8 30.8h1.4M275.1 32.5h1.4M275.5 27.8h1.4M267.1 22.2h1.4M274.7 24.2h1.4M267.5 21.6h1.4M274.5 33.6h1.4M266.5 23.6h1.4M275.2 25.7h1.4M271.8 35.0h1.4"/>
<path stroke="rgb(157, 198, 79)" stroke-width="1.4" d="M268.7 33.4h1.4M272.6 20.6h1.4M274.5 33.4h1.4M266.3 28.8h1.4M275.0 32.2h1.4M266.2 27.9h1.4M274.8 32.9h1.4M266.1 27.3h1.4M272.4 20.5h1.4M266.7 23.6h1.4M266.2 27.8h1.4M268.7 20.4h1.4M274.7 32.7h1.4M266.5 24.2h1.4M273.3 34.4h1.4M267.3 31.1h1.4M266.3 25.8h1.4M266.9 23.1h1.4M269.2 20.1h1.4M271.6 34.8h1.4M273.9 33.9h1.4M266.4 27.7h1.4M269.2 33.6h1.4M272.9 21.1h1.4M266.3 27.5h1.4M268.1 21.1h1.4M266.3 27.2h1.4M274.4 33.1h1.4M269.3 20.1h1.4M275.2 31.0h1.4M274.6 32.8h1.4M266.6 29.0h1.4M271.3 34.6h1.4M266.5 28.0h1.4M271.5 20.1h1.4M274.0 22.8h1.4M275.4 29.2h1.4M267.1 23.1h1.4M266.6 28.5h1.4M269.7 33.7h1.4M271.6 34.5h1.4M272.5 20.8h1.4M275.3 28.9h1.4M268.1 32.0h1.4M268.8 32.8h1.4M266.7 28.6h1.4M267.4 30.7h1.4M273.4 21.9h1.4M268.4 21.1h1.4M266.7 28.1h1.4M266.6 25.8h1.4M270.6 34.1h1.4M267.3 23.0h1.4M275.3 29.6h1.4M267.0 29.6h1.4M269.9 33.6h1.4M268.7 32.5h1.4M275.0 31.2h1.4M275.0 31.1h1.4M273.0 34.0h1.4M271.2 34.2h1.4M268.5 21.0h1.4M271.8 34.3h1.4M266.8 28.3h1.4M266.7 26.2h1.4M266.8 25.4h1.4M268.1 31.7h1.4M267.3 23.1h1.4M269.9 33.5h1.4M268.2 31.7h1.4M273.8 33.4h1.4M275.2 28.4h1.4M268.6 21.0h1.4M267.1 24.1h1.4M267.1 23.9h1.4M267.2 29.4h1.4M266.8 25.7h1.4M267.0 28.5h1.4M266.8 27.5h1.4M266.8 26.0h1.4M274.9 26.2h1.4M274.1 23.4h1.4M268.5 31.9h1.4M266.9 27.8h1.4M268.8 32.2h1.4M266.9 25.9h1.4M266.9 25.7h1.4M267.1 28.3h1.4M267.1 25.0h1.4M273.6 33.2h1.4M269.2 32.5h1.4M268.7 31.9h1.4M270.9 33.7h1.4M268.9 21.0h1.4M274.6 31.6h1.4M274.8 30.8h1.4M274.1 23.6h1.4M274.5 31.8h1.4M267.0 26.4h1.4M268.6 21.4h1.4M271.5 33.8h1.4M273.3 33.3h1.4M267.1 27.9h1.4M270.9 33.6h1.4M270.6 33.4h1.4M267.1 26.7h1.4M269.8 32.9h1.4M271.1 33.6h1.4M275.0 28.2h1.4M273.2 33.3h1.4M267.9 30.3h1.4M271.5 33.6h1.4M269.3 20.8h1.4M270.4 20.4h1.4M269.5 32.5h1.4M267.5 24.2h1.4M273.8 32.6h1.4"/>
<path stroke="rgb(185, 198, 69)" stroke-width="1.4" d="M270.9 33.3h1.4M273.6 22.8h1.4M270.2 20.5h1.4M268.7 31.3h1.4M272.5 21.4h1.4M268.1 22.5h1.4M269.0 31.7h1.4M271.9 33.4h1.4M267.5 28.3h1.4M270.2 32.7h1.4M269.7 32.3h1.4M269.9 32.5h1.4M269.5 32.1h1.4M267.7 24.2h1.4M267.4 26.3h1.4M268.5 30.7h1.4M273.0 32.9h1.4M274.3 24.9h1.4M272.3 21.4h1.4M269.0 21.5h1.4M269.4 31.8h1.4M274.6 25.9h1.4M267.6 24.8h1.4M274.8 28.0h1.4M267.8 28.7h1.4M268.9 21.7h1.4M273.5 22.9h1.4M273.1 22.3h1.4M274.1 24.4h1.4M269.4 21.2h1.4M268.8 21.9h1.4M269.1 31.3h1.4M274.3 31.0h1.4M274.8 27.5h1.4M269.6 31.8h1.4M273.5 32.3h1.4M268.7 30.6h1.4M271.1 32.8h1.4M267.7 25.2h1.4M268.3 22.9h1.4M272.2 21.4h1.4M272.8 22.0h1.4M267.7 26.5h1.4M267.9 24.2h1.4M268.1 23.4h1.4M273.6 23.2h1.4M267.7 26.2h1.4M271.5 32.8h1.4M268.0 24.0h1.4M268.7 22.3h1.4M268.4 29.7h1.4M267.9 27.8h1.4M268.9 22.1h1.4M268.4 22.9h1.4M267.8 25.2h1.4M268.5 29.7h1.4M274.6 29.0h1.4M267.8 27.1h1.4M271.5 32.7h1.4M274.5 29.9h1.4M274.1 31.0h1.4M267.9 27.4h1.4M267.9 26.2h1.4M268.4 29.2h1.4M269.0 30.4h1.4M268.1 28.1h1.4M268.5 29.4h1.4M273.8 23.9h1.4M267.9 26.7h1.4M268.7 22.5h1.4M267.9 26.5h1.4M270.8 32.3h1.4M268.6 29.6h1.4M274.0 24.7h1.4M272.5 32.4h1.4M269.0 22.1h1.4M273.4 23.2h1.4M273.8 31.3h1.4M270.4 21.1h1.4M270.7 32.0h1.4M269.5 30.9h1.4M274.2 30.2h1.4M274.5 28.8h1.4M268.1 26.8h1.4M268.3 24.0h1.4M269.1 30.2h1.4M271.5 32.2h1.4M269.0 30.0h1.4M268.7 29.1h1.4M269.6 21.7h1.4"/>
<path stroke="rgb(214, 196, 60)" stroke-width="1.4" d="M274.3 26.1h1.4M271.8 32.2h1.4M268.6 28.8h1.4M268.4 27.8h1.4M269.0 29.6h1.4M273.9 30.6h1.4M272.6 32.0h1.4M271.8 32.1h1.4M268.9 29.4h1.4M273.4 31.3h1.4M274.2 26.2h1.4M268.5 24.2h1.4M269.0 29.3h1.4M270.3 31.3h1.4M274.4 28.0h1.4M273.5 31.1h1.4M270.4 21.4h1.4M268.3 25.6h1.4M272.9 22.9h1.4M268.4 26.3h1.4M268.9 28.9h1.4M268.4 25.2h1.4M272.5 31.7h1.4M269.7 30.3h1.4M272.0 31.8h1.4M271.8 31.8h1.4M269.6 22.2h1.4M272.2 31.8h1.4M270.7 21.5h1.4M273.2 31.2h1.4M268.7 24.1h1.4M270.5 31.1h1.4M268.8 23.7h1.4M271.6 21.7h1.4M268.6 27.0h1.4M268.9 28.3h1.4M269.2 22.8h1.4M273.3 23.6h1.4M272.2 31.6h1.4M274.2 27.7h1.4M274.0 25.7h1.4M269.5 29.7h1.4M269.6 22.3h1.4M272.2 31.6h1.4M270.3 30.7h1.4M269.3 29.1h1.4M268.7 27.2h1.4M272.1 31.5h1.4M271.8 31.5h1.4M274.0 25.8h1.4M272.7 31.2h1.4M274.1 27.1h1.4M273.6 24.6h1.4M268.9 27.8h1.4M273.9 29.3h1.4M269.1 28.5h1.4M270.8 30.9h1.4M273.9 29.2h1.4M270.5 21.9h1.4M272.8 31.0h1.4M273.9 25.8h1.4M269.7 22.5h1.4M271.5 31.2h1.4M273.9 26.2h1.4M268.8 26.6h1.4M268.9 26.9h1.4M269.6 29.2h1.4M273.0 30.7h1.4M270.9 21.9h1.4M268.9 26.2h1.4M270.5 30.4h1.4M269.0 27.5h1.4M273.3 30.3h1.4M271.9 31.1h1.4M268.9 25.5h1.4M271.1 30.8h1.4"/>
<path stroke="rgb(235, 189, 53)" stroke-width="1.4" d="M270.9 22.0h1.4M269.2 24.0h1.4M273.9 27.3h1.4M269.5 28.7h1.4M269.1 27.2h1.4M273.8 28.6h1.4M269.0 26.3h1.4M269.1 24.5h1.4M269.7 28.9h1.4M271.7 22.4h1.4M269.0 26.0h1.4M273.6 25.6h1.4M269.3 27.6h1.4M269.1 25.7h1.4M273.4 29.6h1.4M272.8 30.4h1.4M269.5 28.1h1.4M269.5 23.4h1.4M269.9 29.0h1.4M269.2 27.2h1.4M272.9 23.8h1.4M270.0 29.2h1.4M269.7 23.1h1.4M272.6 30.5h1.4M273.1 24.1h1.4M273.8 27.5h1.4M269.5 23.6h1.4M270.4 29.7h1.4M273.4 29.4h1.4M273.8 27.2h1.4M272.7 23.5h1.4M273.6 25.5h1.4M270.0 29.1h1.4M273.7 26.8h1.4M273.7 27.6h1.4M269.7 23.3h1.4M272.1 30.5h1.4M271.8 22.6h1.4M269.6 28.1h1.4M272.8 30.1h1.4M269.4 26.9h1.4M271.0 30.0h1.4M269.5 27.4h1.4M272.5 30.2h1.4M269.3 26.4h1.4M273.7 27.5h1.4M270.0 28.7h1.4M270.3 29.0h1.4M270.0 23.2h1.4M269.5 24.5h1.4M270.0 28.4h1.4M271.8 22.9h1.4M269.5 24.5h1.4M273.4 25.6h1.4M270.4 29.0h1.4M271.4 29.9h1.4M269.5 25.0h1.4M273.4 26.0h1.4M269.5 25.5h1.4M271.0 29.6h1.4M273.5 27.9h1.4M269.6 26.3h1.4M272.1 23.3h1.4"/>
<path stroke="rgb(237, 171, 50)" stroke-width="1.4" d="M272.0 29.8h1.4M269.6 25.8h1.4M270.9 29.3h1.4M273.4 27.6h1.4M270.1 28.1h1.4M272.9 24.7h1.4M272.4 23.8h1.4M273.1 25.3h1.4M273.3 26.4h1.4M271.9 23.3h1.4M271.9 29.6h1.4M271.3 29.5h1.4M270.3 28.2h1.4M273.3 27.8h1.4M272.4 29.4h1.4M272.6 24.2h1.4M270.5 28.4h1.4M270.3 23.8h1.4M272.0 29.3h1.4M270.2 27.4h1.4M270.0 26.8h1.4M271.8 29.2h1.4M270.4 27.9h1.4M270.0 26.2h1.4M270.0 26.1h1.4M270.8 28.4h1.4M270.1 26.5h1.4M272.8 28.4h1.4M272.7 25.0h1.4M270.1 26.1h1.4M271.8 29.0h1.4M270.7 23.8h1.4M272.1 28.9h1.4M272.7 28.4h1.4M272.9 27.8h1.4M272.8 28.0h1.4M272.9 27.7h1.4M270.7 28.0h1.4M270.6 24.0h1.4M272.8 27.9h1.4M271.1 28.4h1.4M270.9 23.8h1.4M270.2 26.3h1.4M272.0 28.7h1.4M272.4 28.4h1.4M272.9 26.3h1.4M272.3 24.6h1.4M272.8 25.9h1.4M272.9 27.0h1.4M272.1 28.6h1.4M271.1 28.2h1.4M270.3 26.3h1.4M271.0 28.2h1.4"/>
<path stroke="rgb(239, 153, 46)" stroke-width="1.4" d="M271.2 23.9h1.4M272.5 25.1h1.4M270.4 25.9h1.4M271.2 28.1h1.4M270.4 26.0h1.4M270.4 25.5h1.4M270.6 26.8h1.4M272.6 27.5h1.4M271.1 27.8h1.4M272.3 28.0h1.4M270.5 25.9h1.4M270.6 25.0h1.4M271.0 24.4h1.4M271.6 24.4h1.4M271.7 28.0h1.4M270.7 25.2h1.4M271.6 27.8h1.4M271.6 27.7h1.4M271.4 27.6h1.4M270.8 26.3h1.4M272.3 27.1h1.4M272.2 25.5h1.4M271.7 24.8h1.4M271.8 25.0h1.4M271.9 27.5h1.4M271.0 26.9h1.4M271.0 25.2h1.4M271.4 27.3h1.4M271.8 25.0h1.4M271.6 25.0h1.4M271.0 25.6h1.4M271.8 25.2h1.4M271.4 27.0h1.4M271.7 27.2h1.4M271.1 25.5h1.4M271.4 27.1h1.4M271.0 25.8h1.4M271.2 25.5h1.4M272.0 26.3h1.4M272.0 26.3h1.4M271.7 25.6h1.4M271.7 26.6h1.4M271.4 26.0h1.4M271.8 26.3h1.4M271.5 26.5h1.4"/>
</g>
<rect x="207" y="4.8" width="105" height="105.5" fill="none" stroke="#333" stroke-width="1.0"/>
<path d="M204 15.3H207M204 38.9H207M204 63.3H207M204 88.4H207M204 99.6H207M205.4 31.80H207M205.4 27.64H207M205.4 24.69H207M205.4 22.40H207M205.4 20.54H207M205.4 18.96H207M205.4 17.59H207M205.4 16.38H207M205.4 55.95H207M205.4 51.66H207M205.4 48.61H207M205.4 46.25H207M205.4 44.31H207M205.4 42.68H207M205.4 41.26H207M205.4 40.02H207M205.4 80.84H207M205.4 76.42H207M205.4 73.29H207M205.4 70.86H207M205.4 68.87H207M205.4 67.19H207M205.4 65.73H207M205.4 64.45H207M217.1 110.3V113.3M228.9 110.3V113.3M252.4 110.3V113.3M274.7 110.3V113.3M296.9 110.3V113.3M235.97 110.3V111.89999999999999M240.11 110.3V111.89999999999999M243.05 110.3V111.89999999999999M245.33 110.3V111.89999999999999M247.19 110.3V111.89999999999999M248.76 110.3V111.89999999999999M250.12 110.3V111.89999999999999M251.32 110.3V111.89999999999999M259.11 110.3V111.89999999999999M263.04 110.3V111.89999999999999M265.83 110.3V111.89999999999999M267.99 110.3V111.89999999999999M269.75 110.3V111.89999999999999M271.25 110.3V111.89999999999999M272.54 110.3V111.89999999999999M273.68 110.3V111.89999999999999M281.38 110.3V111.89999999999999M285.29 110.3V111.89999999999999M288.07 110.3V111.89999999999999M290.22 110.3V111.89999999999999M291.97 110.3V111.89999999999999M293.46 110.3V111.89999999999999M294.75 110.3V111.89999999999999M295.88 110.3V111.89999999999999" stroke="#333" stroke-width="0.7" fill="none"/>
<text x="202.40" y="18.10" font-size="6.0" text-anchor="end" fill="#111" stroke="#111" stroke-width="0.18">10<tspan font-size="5.28" dy="-3.4">5</tspan></text>
<text x="202.40" y="41.70" font-size="6.0" text-anchor="end" fill="#111" stroke="#111" stroke-width="0.18">10<tspan font-size="5.28" dy="-3.4">4</tspan></text>
<text x="202.40" y="66.10" font-size="6.0" text-anchor="end" fill="#111" stroke="#111" stroke-width="0.18">10<tspan font-size="5.28" dy="-3.4">3</tspan></text>
<text x="202.40" y="91.20" font-size="6.0" text-anchor="end" fill="#111" stroke="#111" stroke-width="0.18">10<tspan font-size="5.28" dy="-3.4">2</tspan></text>
<text x="201.60" y="101.70" font-size="6.0" text-anchor="end" fill="#111" stroke="#111" stroke-width="0.3">0</text>
<text x="215.70" y="124.00" font-size="6.0" text-anchor="middle" fill="#111" stroke="#111" stroke-width="0.3">0</text>
<text x="224.60" y="124.00" font-size="6.0" text-anchor="start" fill="#111" stroke="#111" stroke-width="0.18">10<tspan font-size="5.28" dy="-3.4">2</tspan></text>
<text x="248.80" y="124.00" font-size="6.0" text-anchor="start" fill="#111" stroke="#111" stroke-width="0.18">10<tspan font-size="5.28" dy="-3.4">3</tspan></text>
<text x="270.40" y="124.00" font-size="6.0" text-anchor="start" fill="#111" stroke="#111" stroke-width="0.18">10<tspan font-size="5.28" dy="-3.4">4</tspan></text>
<text x="292.30" y="124.00" font-size="6.0" text-anchor="start" fill="#111" stroke="#111" stroke-width="0.18">10<tspan font-size="5.28" dy="-3.4">5</tspan></text>
<polygon points="261.6,15.5 269.3,12.9 277.1,13.8 280.4,20.0 279.3,31.0 276.0,39.9 270.4,44.4 263.1,42.6 257.8,36.6 257.1,26.6" fill="none" stroke="#2a3a7a" stroke-width="1.1" stroke-linejoin="round"/>
<polygon points="286.0,22.2 292.6,20.0 297.0,23.3 295.9,33.3 291.5,44.4 286.0,49.9 279.3,47.7 276.4,41.0 279.3,31.0" fill="none" stroke="#d82a48" stroke-width="1.3" stroke-linejoin="round"/>
<polygon points="272.6,47.7 280.4,49.2 284.4,56.6 283.7,66.5 279.3,76.5 269.3,77.6 267.1,71.0 268.2,57.7" fill="none" stroke="#2a3a7a" stroke-width="1.1" stroke-linejoin="round"/>
<text x="235.00" y="18.90" font-size="8.3" fill="#1a1a1a" stroke="#1a1a1a" stroke-width="0.3">45.5%</text>
<text x="288.60" y="18.90" font-size="8.3" fill="#1a1a1a" stroke="#1a1a1a" stroke-width="0.3">9.3%</text>
<text x="260.00" y="88.80" font-size="8.3" fill="#1a1a1a" stroke="#1a1a1a" stroke-width="0.3">15.8%</text>
<text transform="translate(187.9,62.3) rotate(-90)" font-size="8.1" text-anchor="middle" fill="#111" stroke="#111" stroke-width="0.3">CD24</text>
<text x="254.80" y="133.20" font-size="8.1" text-anchor="middle" fill="#111" stroke="#111" stroke-width="0.3">CD29</text>
<line x1="317" y1="62" x2="353" y2="62" stroke="#111" stroke-width="0.9"/>
<polygon points="352,59.8 356.5,62 352,64.2" fill="#111"/>
<text x="335.60" y="59.20" font-size="6.1" text-anchor="middle" fill="#333" stroke="#333" stroke-width="0.1">Isolation</text>
<text x="335.60" y="69.60" font-size="6.1" text-anchor="middle" fill="#333" stroke="#333" stroke-width="0.1">Culture</text>
<g filter="url(#soft)">
<path stroke="rgb(162, 179, 218)" stroke-width="0.93" d="M470.0 11.7h0.93M452.4 58.5h0.93M447.9 55.0h0.93M472.9 19.2h0.93M456.7 17.1h0.93M472.6 21.3h0.93M471.0 16.6h0.93M465.7 14.2h0.93M472.6 23.9h0.93M461.9 49.6h0.93M444.2 46.4h0.93M470.9 17.4h0.93M472.1 27.9h0.93M445.7 46.9h0.93M471.4 19.2h0.93M470.1 36.0h0.93M444.8 44.7h0.93M470.4 33.9h0.93M443.7 42.1h0.93M471.3 20.3h0.93M444.2 42.2h0.93M444.8 42.9h0.93M459.7 18.3h0.93M444.8 41.0h0.93M443.8 38.6h0.93M446.0 42.5h0.93M445.3 40.8h0.93M445.8 41.4h0.93M444.4 38.2h0.93M471.1 24.6h0.93M450.3 45.9h0.93M444.6 37.0h0.93M445.9 40.4h0.93M466.0 41.0h0.93M469.9 32.1h0.93M466.7 39.6h0.93M446.3 39.7h0.93M448.3 42.7h0.93M445.9 35.9h0.93M468.3 17.1h0.93M464.5 42.1h0.93M467.5 16.7h0.93M446.3 37.1h0.93M453.5 46.5h0.93M470.3 20.0h0.93M446.8 37.7h0.93M461.8 18.1h0.93M452.9 25.8h0.93M470.1 19.8h0.93M447.7 39.3h0.93M447.5 34.4h0.93M459.4 45.4h0.93M449.5 41.4h0.93M448.4 38.9h0.93M448.2 37.7h0.93M467.2 36.9h0.93M466.2 38.6h0.93M449.7 40.8h0.93M470.4 23.1h0.93M468.1 34.6h0.93M449.4 38.6h0.93M449.3 37.6h0.93M454.4 45.3h0.93M458.2 45.2h0.93M468.4 18.0h0.93M467.8 34.9h0.93M462.9 42.2h0.93M470.2 25.1h0.93M455.0 25.3h0.93M452.8 43.9h0.93M449.8 35.7h0.93"/>
<path stroke="rgb(128, 154, 212)" stroke-width="0.99" d="M459.5 44.2h0.99M462.2 18.7h0.99M465.3 17.5h0.99M460.0 43.9h0.99M453.6 27.7h0.99M466.0 37.7h0.99M466.1 17.5h0.99M462.4 18.7h0.99M467.1 35.5h0.99M469.8 21.5h0.99M455.9 25.0h0.99M452.7 30.0h0.99M464.9 38.9h0.99M451.0 36.1h0.99M451.4 35.7h0.99M451.6 37.9h0.99M451.7 36.2h0.99M465.3 18.0h0.99M460.0 21.0h0.99M453.0 31.2h0.99M454.9 43.2h0.99M452.0 35.0h0.99M452.5 40.2h0.99M468.6 19.5h0.99M465.6 36.9h0.99M454.1 29.2h0.99M465.3 18.2h0.99M469.3 26.9h0.99M467.9 19.0h0.99M453.5 31.0h0.99M460.2 21.2h0.99M463.4 39.6h0.99M466.4 35.3h0.99M452.5 35.3h0.99M452.6 35.3h0.99M465.6 36.5h0.99M469.3 22.4h0.99M462.0 19.8h0.99M461.9 19.9h0.99M455.1 28.0h0.99M453.2 32.4h0.99M457.8 42.8h0.99M469.3 25.2h0.99M452.9 34.4h0.99M469.2 22.2h0.99M455.9 42.4h0.99M455.2 28.2h0.99M461.8 20.1h0.99M454.2 40.7h0.99M468.4 29.5h0.99M457.1 25.3h0.99M454.8 29.5h0.99M458.6 42.2h0.99M456.5 42.2h0.99M454.5 30.2h0.99M453.9 39.3h0.99M467.7 31.2h0.99M464.1 37.7h0.99M468.1 29.9h0.99M458.9 23.2h0.99M461.6 40.2h0.99M456.7 26.4h0.99M464.6 37.0h0.99M456.0 41.4h0.99M458.5 24.0h0.99M457.1 41.7h0.99M453.9 34.0h0.99M458.5 41.6h0.99M466.1 34.4h0.99M467.2 19.4h0.99M466.8 32.8h0.99M468.4 28.2h0.99M454.5 39.2h0.99M454.6 39.4h0.99M454.0 35.6h0.99M468.9 23.7h0.99M455.0 39.8h0.99M461.8 39.6h0.99M467.6 30.7h0.99M454.7 31.7h0.99M455.5 40.4h0.99M455.5 40.3h0.99M455.5 29.6h0.99M456.1 40.7h0.99M468.6 22.1h0.99M454.2 36.8h0.99M458.7 41.0h0.99M459.0 23.8h0.99M455.2 39.6h0.99M457.8 41.0h0.99M467.5 30.7h0.99M456.8 27.2h0.99M455.9 40.3h0.99M459.7 40.6h0.99M461.1 39.8h0.99M459.6 40.6h0.99M457.6 25.9h0.99M466.8 32.3h0.99M459.2 23.6h0.99M465.9 19.3h0.99"/>
<path stroke="rgb(100, 136, 208)" stroke-width="1.06" d="M457.6 25.9h1.06M468.2 28.1h1.06M454.7 37.6h1.06M462.5 38.5h1.06M454.7 37.6h1.06M467.7 29.8h1.06M457.0 27.2h1.06M461.7 21.1h1.06M467.9 28.9h1.06M456.3 40.1h1.06M455.9 39.7h1.06M456.1 29.1h1.06M464.9 35.4h1.06M455.6 30.2h1.06M467.1 19.9h1.06M455.7 39.3h1.06M462.2 20.8h1.06M462.8 20.4h1.06M463.9 36.7h1.06M459.1 40.3h1.06M461.3 39.2h1.06M460.0 40.0h1.06M462.6 38.1h1.06M456.2 29.1h1.06M466.1 19.6h1.06M455.6 38.7h1.06M468.0 21.3h1.06M458.5 25.0h1.06M468.2 22.0h1.06M455.0 34.2h1.06M455.0 36.2h1.06M463.4 20.2h1.06M455.5 31.8h1.06M457.6 26.6h1.06M467.9 28.1h1.06M463.1 20.4h1.06M466.4 32.2h1.06M456.7 39.5h1.06M455.7 31.5h1.06M466.6 31.7h1.06M456.5 39.1h1.06M456.8 28.5h1.06M458.2 25.9h1.06M468.1 22.4h1.06M467.6 21.1h1.06M460.4 39.1h1.06M468.3 25.1h1.06M466.4 31.9h1.06M455.6 36.8h1.06M461.4 38.3h1.06M467.9 27.1h1.06M456.1 37.9h1.06M466.1 32.2h1.06M456.0 31.3h1.06M456.4 38.1h1.06M467.9 26.9h1.06M462.6 37.2h1.06M455.9 32.0h1.06M455.6 35.2h1.06M457.3 28.1h1.06M467.0 29.9h1.06M457.1 38.6h1.06M457.3 38.7h1.06M467.2 29.3h1.06M459.7 38.9h1.06M458.7 39.1h1.06M463.0 20.9h1.06M464.5 20.3h1.06M456.0 36.8h1.06M467.9 22.8h1.06M455.9 35.6h1.06M456.1 36.3h1.06M457.4 38.3h1.06M467.0 21.1h1.06M456.8 29.7h1.06M458.4 38.7h1.06M468.0 24.9h1.06M464.5 34.5h1.06M465.3 33.3h1.06M457.6 38.3h1.06"/>
<path stroke="rgb(72, 119, 205)" stroke-width="1.12" d="M458.6 26.0h1.12M459.7 38.4h1.12M456.4 36.7h1.12M457.1 29.1h1.12M456.7 30.2h1.12M460.3 23.6h1.12M456.3 36.4h1.12M465.8 32.2h1.12M466.2 31.4h1.12M458.5 26.3h1.12M459.3 38.4h1.12M466.9 21.2h1.12M462.3 36.8h1.12M462.6 21.4h1.12M463.5 35.6h1.12M465.1 20.5h1.12M458.4 38.3h1.12M464.8 20.5h1.12M467.1 21.5h1.12M459.8 38.2h1.12M456.7 36.9h1.12M458.3 38.2h1.12M464.2 34.5h1.12M462.2 36.7h1.12M465.6 20.6h1.12M466.8 29.6h1.12M457.4 37.5h1.12M456.6 31.6h1.12M463.6 35.2h1.12M467.8 24.5h1.12M465.7 20.7h1.12M465.1 33.1h1.12M458.2 27.1h1.12M461.0 23.1h1.12M456.6 35.8h1.12M459.8 24.6h1.12M466.0 20.8h1.12M463.1 35.8h1.12M456.7 31.2h1.12M465.7 20.7h1.12M464.1 20.8h1.12M463.0 21.4h1.12M466.6 30.0h1.12M465.3 32.7h1.12M458.4 26.9h1.12M462.7 36.1h1.12M458.9 26.0h1.12M459.4 37.9h1.12M459.8 37.8h1.12M462.1 36.6h1.12M456.5 32.9h1.12M465.3 20.7h1.12M456.5 33.1h1.12M456.5 34.5h1.12M456.5 34.4h1.12M463.4 35.3h1.12M456.7 32.0h1.12M457.2 36.6h1.12M458.7 37.7h1.12M464.5 33.8h1.12M465.0 32.9h1.12M458.8 26.4h1.12M463.4 35.1h1.12M459.2 37.6h1.12M463.7 34.8h1.12M464.2 34.1h1.12M466.4 30.2h1.12M458.3 27.5h1.12M464.6 21.0h1.12M456.9 32.0h1.12M461.4 23.0h1.12M461.2 36.9h1.12M462.2 36.2h1.12M467.0 22.3h1.12M457.2 30.5h1.12M457.4 29.9h1.12M457.8 36.9h1.12M458.3 27.6h1.12M460.7 37.1h1.12M464.3 33.8h1.12M457.8 28.8h1.12M459.2 37.4h1.12M461.1 36.8h1.12M465.5 31.9h1.12M457.5 36.3h1.12M461.4 36.7h1.12M461.9 36.3h1.12M467.4 25.9h1.12M456.9 33.0h1.12M456.9 33.7h1.12M458.3 27.7h1.12"/>
<path stroke="rgb(62, 128, 206)" stroke-width="1.18" d="M459.1 37.2h1.18M459.0 37.2h1.18M465.5 31.7h1.18M462.7 35.6h1.18M465.9 21.3h1.18M461.6 36.4h1.18M459.1 26.3h1.18M457.6 29.6h1.18M461.4 36.5h1.18M457.2 31.4h1.18M464.5 33.2h1.18M466.6 28.8h1.18M457.1 33.0h1.18M465.5 21.3h1.18M457.1 34.3h1.18M459.0 36.9h1.18M457.1 33.5h1.18M465.4 21.3h1.18M458.3 36.5h1.18M457.8 29.3h1.18M461.6 36.2h1.18M459.1 36.9h1.18M457.9 29.1h1.18M462.4 35.5h1.18M458.2 28.5h1.18M459.8 25.4h1.18M463.4 21.8h1.18M459.2 36.8h1.18M459.6 36.8h1.18M463.3 34.6h1.18M463.0 34.9h1.18M462.6 35.3h1.18M467.2 25.1h1.18M459.4 36.7h1.18M457.3 32.1h1.18M459.0 36.7h1.18M465.3 21.5h1.18M459.1 36.6h1.18M457.3 32.1h1.18M467.2 25.2h1.18M458.1 28.9h1.18M459.1 26.6h1.18M459.2 26.6h1.18M466.2 22.0h1.18M463.1 34.7h1.18M457.6 30.7h1.18M459.4 26.3h1.18M467.0 26.5h1.18M457.6 34.9h1.18M457.5 31.5h1.18M466.9 27.1h1.18M465.8 30.5h1.18M464.9 32.2h1.18M457.4 32.5h1.18M461.0 36.1h1.18M459.9 36.4h1.18M459.8 36.4h1.18M460.2 25.1h1.18M460.2 36.4h1.18M465.8 21.9h1.18M460.3 36.3h1.18M466.0 30.0h1.18M458.0 35.3h1.18M457.6 31.5h1.18M461.2 35.9h1.18M464.5 21.7h1.18M461.5 35.8h1.18M465.8 30.2h1.18M467.0 25.2h1.18M459.9 36.3h1.18M459.6 26.1h1.18"/>
<path stroke="rgb(54, 139, 208)" stroke-width="1.24" d="M466.9 26.3h1.24M460.3 36.2h1.24M458.2 29.3h1.24M463.5 22.0h1.24M462.7 34.7h1.24M457.8 30.9h1.24M465.6 30.7h1.24M465.6 21.9h1.24M464.3 21.8h1.24M460.4 36.1h1.24M458.1 29.6h1.24M458.0 30.0h1.24M461.2 35.8h1.24M461.1 35.8h1.24M459.6 26.3h1.24M466.8 23.9h1.24M460.9 35.8h1.24M458.3 35.2h1.24M458.6 35.6h1.24M459.6 36.0h1.24M457.7 32.9h1.24M457.7 32.7h1.24M461.6 35.4h1.24M459.3 35.9h1.24M461.3 24.0h1.24M465.5 22.1h1.24M458.4 35.2h1.24M458.1 30.3h1.24M462.4 23.0h1.24M459.7 26.3h1.24M464.5 32.2h1.24M458.6 28.8h1.24M458.4 35.0h1.24M466.4 28.2h1.24M458.3 34.8h1.24M466.5 23.4h1.24M458.0 30.8h1.24M458.2 34.5h1.24M459.4 35.7h1.24M464.6 22.1h1.24M460.9 24.6h1.24M464.0 32.9h1.24M466.3 28.3h1.24M458.3 34.6h1.24M458.4 29.7h1.24M464.3 32.4h1.24M466.5 27.1h1.24M460.1 25.8h1.24M463.7 22.4h1.24"/>
<path stroke="rgb(51, 151, 206)" stroke-width="1.31" d="M459.4 27.1h1.31M458.0 32.7h1.31M466.4 27.7h1.31M463.4 33.5h1.31M458.4 29.6h1.31M466.1 28.6h1.31M466.4 27.6h1.31M466.6 24.2h1.31M465.1 31.0h1.31M458.1 33.2h1.31M465.6 22.5h1.31M458.0 32.5h1.31M461.7 35.0h1.31M459.2 27.7h1.31M458.0 32.7h1.31M458.6 34.6h1.31M464.6 31.8h1.31M459.1 35.2h1.31M458.5 34.6h1.31M466.6 24.6h1.31M465.9 28.9h1.31M458.9 35.0h1.31M463.0 33.8h1.31M459.3 35.2h1.31M463.5 22.6h1.31M461.8 34.8h1.31M461.1 24.7h1.31M460.5 35.3h1.31M466.1 23.2h1.31M459.3 35.2h1.31M458.7 29.2h1.31M462.7 23.1h1.31M460.8 35.2h1.31M464.9 31.0h1.31M464.1 32.4h1.31M458.2 31.5h1.31M466.0 23.3h1.31M463.3 33.3h1.31M466.1 27.9h1.31M462.9 33.7h1.31M461.2 34.9h1.31M460.6 25.5h1.31M465.3 22.7h1.31M458.8 34.3h1.31M462.5 34.0h1.31M466.2 27.4h1.31M462.0 23.9h1.31M466.1 27.9h1.31M458.4 31.0h1.31M464.8 31.0h1.31M459.1 34.7h1.31M463.4 33.1h1.31M463.1 33.4h1.31M465.1 30.5h1.31M464.0 22.7h1.31"/>
<path stroke="rgb(53, 163, 200)" stroke-width="1.37" d="M460.7 25.4h1.37M460.5 35.0h1.37M464.1 32.2h1.37M464.7 22.6h1.37M458.4 31.6h1.37M458.7 29.7h1.37M466.2 27.2h1.37M461.5 24.5h1.37M460.2 34.9h1.37M458.6 33.2h1.37M458.5 32.6h1.37M466.3 26.1h1.37M459.8 27.1h1.37M466.3 26.5h1.37M459.3 34.4h1.37M460.0 34.8h1.37M463.1 33.2h1.37M465.9 28.0h1.37M458.6 32.9h1.37M458.8 33.8h1.37M464.4 22.9h1.37M465.4 29.4h1.37M458.6 32.6h1.37M465.2 23.1h1.37M459.2 34.2h1.37M465.5 23.4h1.37M462.5 23.8h1.37M462.4 23.8h1.37M462.3 33.7h1.37M464.1 23.0h1.37"/>
<path stroke="rgb(55, 175, 192)" stroke-width="1.4" d="M464.5 23.0h1.4M466.1 25.5h1.4M464.1 31.7h1.4M465.2 29.5h1.4M462.8 33.2h1.4M465.1 23.3h1.4M460.6 26.2h1.4M459.4 33.8h1.4M463.7 32.1h1.4M465.9 27.2h1.4M463.8 31.9h1.4M461.3 34.1h1.4M458.9 32.3h1.4M464.2 23.2h1.4M466.0 26.1h1.4M463.1 32.7h1.4M458.9 30.9h1.4M462.9 23.8h1.4M460.7 34.1h1.4M464.7 30.3h1.4M462.9 23.8h1.4M458.9 31.3h1.4M460.5 34.1h1.4M459.2 29.5h1.4M463.4 32.3h1.4M459.4 33.4h1.4M460.6 34.1h1.4"/>
<path stroke="rgb(65, 178, 170)" stroke-width="1.4" d="M465.7 24.4h1.4M463.8 31.7h1.4M462.8 33.0h1.4M459.6 28.4h1.4M461.0 25.9h1.4M459.2 30.0h1.4M460.5 34.0h1.4M459.0 31.4h1.4M465.3 23.9h1.4M465.9 25.6h1.4M465.6 27.6h1.4M465.4 24.1h1.4M462.7 32.9h1.4M459.8 33.7h1.4M460.1 33.9h1.4M459.1 32.5h1.4M463.4 32.1h1.4M461.4 33.8h1.4M459.5 29.0h1.4M459.3 29.7h1.4M462.0 33.5h1.4M465.3 24.1h1.4M459.1 32.3h1.4M463.4 23.7h1.4M462.3 33.2h1.4M465.7 27.0h1.4M460.3 33.8h1.4M460.4 26.9h1.4M463.5 32.0h1.4M459.8 28.3h1.4M461.8 25.0h1.4M461.2 25.7h1.4M461.2 33.7h1.4M463.5 32.0h1.4M464.7 30.0h1.4M461.3 33.7h1.4M459.2 30.3h1.4M459.2 31.1h1.4M463.3 23.9h1.4M460.6 33.7h1.4M465.2 24.1h1.4M463.9 31.3h1.4M461.4 25.5h1.4"/>
<path stroke="rgb(74, 181, 149)" stroke-width="1.4" d="M459.3 32.1h1.4M464.8 23.9h1.4M461.2 33.6h1.4M463.2 32.2h1.4M462.3 24.7h1.4M460.6 33.6h1.4M462.0 33.1h1.4M459.5 32.6h1.4M464.4 23.8h1.4M460.4 27.3h1.4M459.3 30.7h1.4M461.7 33.3h1.4M459.5 32.5h1.4M462.5 32.8h1.4M465.6 26.4h1.4M465.1 28.6h1.4M464.7 29.7h1.4M461.2 33.5h1.4M461.6 33.3h1.4M460.8 33.5h1.4M460.0 33.3h1.4M459.3 31.2h1.4M460.1 27.9h1.4M460.8 33.5h1.4M459.4 30.6h1.4M460.6 33.4h1.4M465.4 27.3h1.4M459.7 32.6h1.4M461.0 33.4h1.4M465.5 26.6h1.4M459.4 30.9h1.4M461.3 26.0h1.4M459.6 32.2h1.4M464.2 30.5h1.4M465.5 26.0h1.4"/>
<path stroke="rgb(84, 184, 127)" stroke-width="1.4" d="M464.6 29.7h1.4M460.2 27.9h1.4M464.1 30.5h1.4M461.8 25.5h1.4M461.2 33.2h1.4M464.0 30.7h1.4M460.1 28.3h1.4M461.9 25.4h1.4M462.6 32.4h1.4M459.8 29.4h1.4M463.1 31.9h1.4M460.0 28.6h1.4M460.9 26.7h1.4M465.4 26.7h1.4M461.4 26.0h1.4M464.8 28.9h1.4M463.2 31.7h1.4M464.6 29.4h1.4M464.1 30.4h1.4M460.5 33.0h1.4M464.9 24.7h1.4M459.6 31.3h1.4M460.2 32.7h1.4M460.8 33.0h1.4M459.7 29.9h1.4M465.0 28.2h1.4M461.6 32.9h1.4M465.1 25.2h1.4M463.8 30.7h1.4M462.3 25.2h1.4"/>
<path stroke="rgb(107, 189, 110)" stroke-width="1.4" d="M460.3 28.1h1.4M462.4 25.1h1.4M464.6 24.6h1.4M464.0 30.5h1.4M464.7 24.7h1.4M463.5 31.2h1.4M464.8 24.8h1.4M460.1 32.4h1.4M462.6 25.0h1.4M463.1 31.6h1.4M460.3 28.2h1.4M460.5 27.8h1.4M459.9 31.9h1.4M460.1 32.3h1.4M459.9 30.1h1.4M460.9 32.7h1.4M465.1 27.0h1.4M460.4 28.3h1.4M463.9 24.6h1.4M462.1 32.3h1.4M461.0 27.0h1.4M462.5 25.2h1.4M464.5 24.8h1.4M463.3 24.7h1.4M461.7 32.5h1.4M460.3 28.6h1.4M461.0 27.0h1.4"/>
<path stroke="rgb(132, 193, 95)" stroke-width="1.4" d="M460.3 28.5h1.4M462.7 31.8h1.4M461.9 25.8h1.4M463.2 31.2h1.4M464.8 25.6h1.4M461.7 26.1h1.4M465.0 26.4h1.4M461.0 32.4h1.4M460.0 31.2h1.4M462.6 25.3h1.4M463.5 24.8h1.4M463.0 31.3h1.4M464.3 29.3h1.4M461.1 32.4h1.4M460.1 29.9h1.4M460.3 31.8h1.4M461.1 32.4h1.4M464.3 25.0h1.4M460.5 28.5h1.4M462.3 25.6h1.4M464.8 26.0h1.4M463.6 30.4h1.4M461.0 32.2h1.4"/>
<path stroke="rgb(157, 198, 79)" stroke-width="1.4" d="M461.0 27.5h1.4M464.3 25.3h1.4M463.5 30.5h1.4M464.0 29.6h1.4M462.5 31.7h1.4M461.2 32.2h1.4M461.1 27.3h1.4M460.6 31.8h1.4M463.4 25.2h1.4M464.8 26.7h1.4M461.8 32.0h1.4M462.7 31.4h1.4M463.9 29.8h1.4M461.8 31.9h1.4M461.4 32.0h1.4M461.9 31.9h1.4M461.8 31.9h1.4M461.3 27.1h1.4M464.3 25.5h1.4M463.3 30.5h1.4M464.6 27.5h1.4M463.2 30.7h1.4M461.8 31.8h1.4"/>
<path stroke="rgb(185, 198, 69)" stroke-width="1.4" d="M461.2 27.5h1.4M464.5 26.0h1.4M464.1 29.2h1.4M464.6 27.2h1.4M464.5 26.0h1.4M461.3 27.4h1.4M463.8 25.4h1.4M460.5 31.1h1.4M460.9 28.3h1.4M462.2 26.2h1.4M463.0 25.5h1.4M461.0 28.1h1.4M460.5 30.8h1.4M461.3 27.4h1.4M460.5 30.3h1.4M461.0 28.0h1.4M464.5 26.6h1.4M463.9 29.3h1.4M463.4 30.2h1.4M461.1 28.0h1.4M461.5 27.1h1.4M460.6 29.6h1.4M461.6 27.1h1.4M464.4 26.6h1.4"/>
<path stroke="rgb(214, 196, 60)" stroke-width="1.4" d="M463.9 29.1h1.4M463.0 30.5h1.4M460.9 28.7h1.4M462.9 30.7h1.4M460.6 30.0h1.4M460.7 30.7h1.4M463.7 29.6h1.4M464.0 25.9h1.4M460.9 28.7h1.4M460.8 29.1h1.4M463.6 29.7h1.4M464.0 28.7h1.4M462.5 26.2h1.4M462.0 31.3h1.4M461.7 27.1h1.4M463.5 29.7h1.4M462.3 26.5h1.4M464.2 26.7h1.4M464.0 28.5h1.4M460.8 30.3h1.4M461.0 28.8h1.4M464.0 28.4h1.4M461.6 27.4h1.4M462.6 30.7h1.4"/>
<path stroke="rgb(235, 189, 53)" stroke-width="1.4" d="M461.2 31.1h1.4M463.8 29.0h1.4M460.8 29.5h1.4M461.5 27.7h1.4M461.8 31.1h1.4M462.0 26.9h1.4M463.6 29.4h1.4M462.5 30.7h1.4M461.9 31.1h1.4M461.0 30.6h1.4M463.4 29.7h1.4M460.9 30.3h1.4M461.0 28.9h1.4M462.1 30.9h1.4M461.0 30.5h1.4M461.6 31.0h1.4M462.6 30.6h1.4M464.0 26.5h1.4"/>
<path stroke="rgb(237, 171, 50)" stroke-width="1.4" d="M461.4 30.8h1.4M463.7 28.6h1.4M464.0 27.6h1.4M461.3 30.5h1.4M462.6 30.4h1.4M463.7 28.7h1.4M462.5 30.3h1.4M463.2 26.4h1.4M463.8 27.0h1.4M463.3 26.5h1.4M461.6 27.9h1.4M463.2 29.5h1.4M461.3 30.3h1.4M463.6 26.7h1.4M463.4 26.6h1.4M463.8 27.4h1.4M461.6 28.1h1.4M463.8 27.7h1.4"/>
<path stroke="rgb(239, 153, 46)" stroke-width="1.4" d="M461.6 28.2h1.4M461.4 28.7h1.4M461.3 29.2h1.4M461.7 28.1h1.4M463.6 28.2h1.4M462.8 29.8h1.4M461.4 29.8h1.4M461.4 29.2h1.4M462.5 27.1h1.4M463.0 26.9h1.4M463.4 27.0h1.4M461.5 29.0h1.4M463.6 27.7h1.4M463.1 29.2h1.4M463.4 27.1h1.4M463.2 29.0h1.4M461.6 29.8h1.4M462.8 27.1h1.4M461.6 29.8h1.4M462.0 30.0h1.4M463.4 27.3h1.4M461.8 30.0h1.4M462.8 28.2h1.4M462.3 28.5h1.4M461.9 29.7h1.4M462.6 29.2h1.4M462.8 29.1h1.4M463.1 27.9h1.4M462.9 28.6h1.4M462.2 28.7h1.4M462.9 28.7h1.4M461.9 29.6h1.4M462.4 28.0h1.4M462.6 28.1h1.4M462.0 29.5h1.4M462.1 29.4h1.4M463.3 27.7h1.4M462.9 27.6h1.4M462.1 28.3h1.4M462.7 28.5h1.4M461.7 29.0h1.4M461.9 28.7h1.4M462.8 28.9h1.4M462.1 28.0h1.4M461.6 29.5h1.4M462.8 29.0h1.4M461.8 29.0h1.4M461.9 29.0h1.4M461.9 28.4h1.4M463.0 28.9h1.4M462.9 27.9h1.4M463.0 29.0h1.4M462.1 28.5h1.4"/>
</g>
<rect x="384" y="4.6" width="106.19999999999999" height="105.7" fill="none" stroke="#333" stroke-width="1.0"/>
<path d="M381 15.3H384M381 38.9H384M381 63.3H384M381 88.4H384M381 99.6H384M382.4 31.80H384M382.4 27.64H384M382.4 24.69H384M382.4 22.40H384M382.4 20.54H384M382.4 18.96H384M382.4 17.59H384M382.4 16.38H384M382.4 55.95H384M382.4 51.66H384M382.4 48.61H384M382.4 46.25H384M382.4 44.31H384M382.4 42.68H384M382.4 41.26H384M382.4 40.02H384M382.4 80.84H384M382.4 76.42H384M382.4 73.29H384M382.4 70.86H384M382.4 68.87H384M382.4 67.19H384M382.4 65.73H384M382.4 64.45H384M394.5 110.3V113.3M406.2 110.3V113.3M429.6 110.3V113.3M452.8 110.3V113.3M475.6 110.3V113.3M413.24 110.3V111.89999999999999M417.36 110.3V111.89999999999999M420.29 110.3V111.89999999999999M422.56 110.3V111.89999999999999M424.41 110.3V111.89999999999999M425.98 110.3V111.89999999999999M427.33 110.3V111.89999999999999M428.53 110.3V111.89999999999999M436.58 110.3V111.89999999999999M440.67 110.3V111.89999999999999M443.57 110.3V111.89999999999999M445.82 110.3V111.89999999999999M447.65 110.3V111.89999999999999M449.21 110.3V111.89999999999999M450.55 110.3V111.89999999999999M451.74 110.3V111.89999999999999M459.66 110.3V111.89999999999999M463.68 110.3V111.89999999999999M466.53 110.3V111.89999999999999M468.74 110.3V111.89999999999999M470.54 110.3V111.89999999999999M472.07 110.3V111.89999999999999M473.39 110.3V111.89999999999999M474.56 110.3V111.89999999999999" stroke="#333" stroke-width="0.7" fill="none"/>
<text x="379.40" y="18.10" font-size="6.0" text-anchor="end" fill="#111" stroke="#111" stroke-width="0.18">10<tspan font-size="5.28" dy="-3.4">5</tspan></text>
<text x="379.40" y="41.70" font-size="6.0" text-anchor="end" fill="#111" stroke="#111" stroke-width="0.18">10<tspan font-size="5.28" dy="-3.4">4</tspan></text>
<text x="379.40" y="66.10" font-size="6.0" text-anchor="end" fill="#111" stroke="#111" stroke-width="0.18">10<tspan font-size="5.28" dy="-3.4">3</tspan></text>
<text x="379.40" y="91.20" font-size="6.0" text-anchor="end" fill="#111" stroke="#111" stroke-width="0.18">10<tspan font-size="5.28" dy="-3.4">2</tspan></text>
<text x="377.00" y="101.70" font-size="6.0" text-anchor="end" fill="#111" stroke="#111" stroke-width="0.3">0</text>
<text x="393.80" y="124.00" font-size="6.0" text-anchor="middle" fill="#111" stroke="#111" stroke-width="0.3">0</text>
<text x="401.90" y="124.00" font-size="6.0" text-anchor="start" fill="#111" stroke="#111" stroke-width="0.18">10<tspan font-size="5.28" dy="-3.4">2</tspan></text>
<text x="425.20" y="124.00" font-size="6.0" text-anchor="start" fill="#111" stroke="#111" stroke-width="0.18">10<tspan font-size="5.28" dy="-3.4">3</tspan></text>
<text x="448.50" y="124.00" font-size="6.0" text-anchor="start" fill="#111" stroke="#111" stroke-width="0.18">10<tspan font-size="5.28" dy="-3.4">4</tspan></text>
<text x="471.30" y="124.00" font-size="6.0" text-anchor="start" fill="#111" stroke="#111" stroke-width="0.18">10<tspan font-size="5.28" dy="-3.4">5</tspan></text>
<polygon points="433.5,12.8 440.2,9.2 448.3,9.7 453.0,13.5 453.5,18.9 451.0,28.3 449.0,36.4 445.6,40.2 437.5,40.5 431.5,35.7 428.8,29.0 430.1,20.2" fill="none" stroke="#3a3a3a" stroke-width="0.85" stroke-linejoin="round"/>
<polygon points="455.1,22.3 460.5,17.5 466.5,16.2 471.0,18.2 471.9,22.9 469.9,31.0 465.9,39.1 460.5,45.2 454.8,45.9 451.7,43.2 450.3,37.1 451.7,29.0" fill="none" stroke="#d02a48" stroke-width="1.3" stroke-linejoin="round"/>
<polygon points="443.8,46.2 451.2,44.5 456.2,48.8 457.5,58.8 454.5,66.2 450.0,72.5 440.0,73.8 437.5,67.5 438.8,57.5 441.2,50.0" fill="none" stroke="#3a3a3a" stroke-width="0.85" stroke-linejoin="round"/>
<text x="412.00" y="14.60" font-size="8.3" fill="#1a1a1a" stroke="#1a1a1a" stroke-width="0.3">0.8%</text>
<text x="461.20" y="14.60" font-size="8.3" fill="#1a1a1a" stroke="#1a1a1a" stroke-width="0.3">96.6%</text>
<text x="436.00" y="84.30" font-size="8.3" fill="#1a1a1a" stroke="#1a1a1a" stroke-width="0.3">0.2%</text>
<text transform="translate(364.8,62.3) rotate(-90)" font-size="8.1" text-anchor="middle" fill="#111" stroke="#111" stroke-width="0.3">CD24</text>
<text x="432.50" y="133.20" font-size="8.1" text-anchor="middle" fill="#111" stroke="#111" stroke-width="0.3">CD29</text>
<rect x="33.80" y="164.30" width="4.2" height="107.40" fill="#000000" stroke="#000" stroke-width="0.5"/>
<rect x="38.63" y="244.85" width="4.2" height="26.85" fill="#e8413c" stroke="#3a1a1a" stroke-width="0.5"/>
<rect x="43.46" y="220.15" width="4.2" height="51.55" fill="#72d0de" stroke="#2a4a50" stroke-width="0.5"/>
<rect x="48.29" y="222.30" width="4.2" height="49.40" fill="#2a6cb3" stroke="#1a2a50" stroke-width="0.5"/>
<rect x="53.12" y="164.30" width="4.2" height="107.40" fill="#b6b6b6" stroke="#3a3a3a" stroke-width="0.5"/>
<rect x="57.95" y="226.59" width="4.2" height="45.11" fill="#9a4c9e" stroke="#3a1a3a" stroke-width="0.5"/>
<text x="48.10" y="280.60" font-size="8.3" text-anchor="middle" fill="#111" stroke="#111" stroke-width="0.3">Nr5a2</text>
<rect x="72.42" y="164.30" width="4.2" height="107.40" fill="#000000" stroke="#000" stroke-width="0.5"/>
<rect x="77.25" y="206.19" width="4.2" height="65.51" fill="#e8413c" stroke="#3a1a1a" stroke-width="0.5"/>
<rect x="82.08" y="190.08" width="4.2" height="81.62" fill="#72d0de" stroke="#2a4a50" stroke-width="0.5"/>
<rect x="86.91" y="201.89" width="4.2" height="69.81" fill="#2a6cb3" stroke="#1a2a50" stroke-width="0.5"/>
<rect x="91.74" y="164.30" width="4.2" height="107.40" fill="#b6b6b6" stroke="#3a3a3a" stroke-width="0.5"/>
<rect x="96.57" y="205.11" width="4.2" height="66.59" fill="#9a4c9e" stroke="#3a1a3a" stroke-width="0.5"/>
<text x="86.72" y="280.60" font-size="8.3" text-anchor="middle" fill="#111" stroke="#111" stroke-width="0.3">Abcb1b</text>
<rect x="111.04" y="164.30" width="4.2" height="107.40" fill="#000000" stroke="#000" stroke-width="0.5"/>
<rect x="115.87" y="239.48" width="4.2" height="32.22" fill="#e8413c" stroke="#3a1a1a" stroke-width="0.5"/>
<rect x="120.70" y="209.41" width="4.2" height="62.29" fill="#72d0de" stroke="#2a4a50" stroke-width="0.5"/>
<rect x="125.53" y="173.97" width="4.2" height="97.73" fill="#2a6cb3" stroke="#1a2a50" stroke-width="0.5"/>
<rect x="130.36" y="164.30" width="4.2" height="107.40" fill="#b6b6b6" stroke="#3a3a3a" stroke-width="0.5"/>
<rect x="135.19" y="210.48" width="4.2" height="61.22" fill="#9a4c9e" stroke="#3a1a3a" stroke-width="0.5"/>
<text x="125.34" y="280.60" font-size="8.3" text-anchor="middle" fill="#111" stroke="#111" stroke-width="0.3">Lrrc34</text>
<rect x="149.66" y="164.30" width="4.2" height="107.40" fill="#000000" stroke="#000" stroke-width="0.5"/>
<rect x="154.49" y="206.19" width="4.2" height="65.51" fill="#e8413c" stroke="#3a1a1a" stroke-width="0.5"/>
<rect x="159.32" y="235.18" width="4.2" height="36.52" fill="#72d0de" stroke="#2a4a50" stroke-width="0.5"/>
<rect x="164.15" y="204.04" width="4.2" height="67.66" fill="#2a6cb3" stroke="#1a2a50" stroke-width="0.5"/>
<rect x="168.98" y="164.30" width="4.2" height="107.40" fill="#b6b6b6" stroke="#3a3a3a" stroke-width="0.5"/>
<rect x="173.81" y="193.30" width="4.2" height="78.40" fill="#9a4c9e" stroke="#3a1a3a" stroke-width="0.5"/>
<text x="163.96" y="280.60" font-size="8.3" text-anchor="middle" fill="#111" stroke="#111" stroke-width="0.3">Dppa5</text>
<rect x="188.28" y="164.30" width="4.2" height="107.40" fill="#000000" stroke="#000" stroke-width="0.5"/>
<rect x="193.11" y="209.41" width="4.2" height="62.29" fill="#e8413c" stroke="#3a1a1a" stroke-width="0.5"/>
<rect x="197.94" y="185.78" width="4.2" height="85.92" fill="#72d0de" stroke="#2a4a50" stroke-width="0.5"/>
<rect x="202.77" y="199.74" width="4.2" height="71.96" fill="#2a6cb3" stroke="#1a2a50" stroke-width="0.5"/>
<rect x="207.60" y="164.30" width="4.2" height="107.40" fill="#b6b6b6" stroke="#3a3a3a" stroke-width="0.5"/>
<rect x="212.43" y="202.43" width="4.2" height="69.27" fill="#9a4c9e" stroke="#3a1a3a" stroke-width="0.5"/>
<text x="202.58" y="280.60" font-size="8.3" text-anchor="middle" fill="#111" stroke="#111" stroke-width="0.3">Hells</text>
<rect x="226.90" y="164.30" width="4.2" height="107.40" fill="#000000" stroke="#000" stroke-width="0.5"/>
<rect x="231.73" y="215.85" width="4.2" height="55.85" fill="#e8413c" stroke="#3a1a1a" stroke-width="0.5"/>
<rect x="236.56" y="187.93" width="4.2" height="83.77" fill="#72d0de" stroke="#2a4a50" stroke-width="0.5"/>
<rect x="241.39" y="191.69" width="4.2" height="80.01" fill="#2a6cb3" stroke="#1a2a50" stroke-width="0.5"/>
<rect x="246.22" y="164.30" width="4.2" height="107.40" fill="#b6b6b6" stroke="#3a3a3a" stroke-width="0.5"/>
<rect x="251.05" y="204.04" width="4.2" height="67.66" fill="#9a4c9e" stroke="#3a1a3a" stroke-width="0.5"/>
<text x="241.20" y="280.60" font-size="8.3" text-anchor="middle" fill="#111" stroke="#111" stroke-width="0.3">Mll1</text>
<rect x="265.52" y="164.30" width="4.2" height="107.40" fill="#000000" stroke="#000" stroke-width="0.5"/>
<rect x="270.35" y="234.11" width="4.2" height="37.59" fill="#e8413c" stroke="#3a1a1a" stroke-width="0.5"/>
<rect x="275.18" y="199.74" width="4.2" height="71.96" fill="#72d0de" stroke="#2a4a50" stroke-width="0.5"/>
<rect x="280.01" y="183.63" width="4.2" height="88.07" fill="#2a6cb3" stroke="#1a2a50" stroke-width="0.5"/>
<rect x="284.84" y="164.30" width="4.2" height="107.40" fill="#b6b6b6" stroke="#3a3a3a" stroke-width="0.5"/>
<rect x="289.67" y="192.22" width="4.2" height="79.48" fill="#9a4c9e" stroke="#3a1a3a" stroke-width="0.5"/>
<text x="279.82" y="280.60" font-size="8.3" text-anchor="middle" fill="#111" stroke="#111" stroke-width="0.3">Ash2l</text>
<rect x="304.14" y="164.30" width="4.2" height="107.40" fill="#000000" stroke="#000" stroke-width="0.5"/>
<rect x="308.97" y="225.52" width="4.2" height="46.18" fill="#e8413c" stroke="#3a1a1a" stroke-width="0.5"/>
<rect x="313.80" y="210.48" width="4.2" height="61.22" fill="#72d0de" stroke="#2a4a50" stroke-width="0.5"/>
<rect x="318.63" y="202.43" width="4.2" height="69.27" fill="#2a6cb3" stroke="#1a2a50" stroke-width="0.5"/>
<rect x="323.46" y="164.30" width="4.2" height="107.40" fill="#b6b6b6" stroke="#3a3a3a" stroke-width="0.5"/>
<rect x="328.29" y="209.41" width="4.2" height="62.29" fill="#9a4c9e" stroke="#3a1a3a" stroke-width="0.5"/>
<text x="318.44" y="280.60" font-size="8.3" text-anchor="middle" fill="#111" stroke="#111" stroke-width="0.3">Bambi</text>
<rect x="342.76" y="164.30" width="4.2" height="107.40" fill="#000000" stroke="#000" stroke-width="0.5"/>
<rect x="347.59" y="211.56" width="4.2" height="60.14" fill="#e8413c" stroke="#3a1a1a" stroke-width="0.5"/>
<rect x="352.42" y="200.28" width="4.2" height="71.42" fill="#72d0de" stroke="#2a4a50" stroke-width="0.5"/>
<rect x="357.25" y="216.39" width="4.2" height="55.31" fill="#2a6cb3" stroke="#1a2a50" stroke-width="0.5"/>
<rect x="362.08" y="164.30" width="4.2" height="107.40" fill="#b6b6b6" stroke="#3a3a3a" stroke-width="0.5"/>
<rect x="366.91" y="187.93" width="4.2" height="83.77" fill="#9a4c9e" stroke="#3a1a3a" stroke-width="0.5"/>
<text x="357.06" y="280.60" font-size="8.3" text-anchor="middle" fill="#111" stroke="#111" stroke-width="0.3">c-Myc</text>
<rect x="381.38" y="164.30" width="4.2" height="107.40" fill="#000000" stroke="#000" stroke-width="0.5"/>
<rect x="386.21" y="234.65" width="4.2" height="37.05" fill="#e8413c" stroke="#3a1a1a" stroke-width="0.5"/>
<rect x="391.04" y="213.70" width="4.2" height="58.00" fill="#72d0de" stroke="#2a4a50" stroke-width="0.5"/>
<rect x="395.87" y="226.59" width="4.2" height="45.11" fill="#2a6cb3" stroke="#1a2a50" stroke-width="0.5"/>
<rect x="400.70" y="164.30" width="4.2" height="107.40" fill="#b6b6b6" stroke="#3a3a3a" stroke-width="0.5"/>
<rect x="405.53" y="249.15" width="4.2" height="22.55" fill="#9a4c9e" stroke="#3a1a3a" stroke-width="0.5"/>
<text x="395.68" y="280.60" font-size="8.3" text-anchor="middle" fill="#111" stroke="#111" stroke-width="0.3">Bmp2</text>
<path d="M35.90 164.30V147.12M34.40 147.12h3M40.73 244.85V240.55M39.23 240.55h3M45.56 220.15V218.00M44.06 218.00h3M50.39 222.30V221.22M48.89 221.22h3M53.72 164.30h3M58.55 226.59h3M74.52 164.30V158.93M73.02 158.93h3M77.85 206.19h3M82.68 190.08h3M89.01 201.89V194.37M87.51 194.37h3M93.84 164.30V156.78M92.34 156.78h3M98.67 205.11V202.96M97.17 202.96h3M113.14 164.30V155.71M111.64 155.71h3M117.97 239.48V235.18M116.47 235.18h3M122.80 209.41V205.11M121.30 205.11h3M127.63 173.97V168.60M126.13 168.60h3M132.46 164.30V160.00M130.96 160.00h3M137.29 210.48V196.52M135.79 196.52h3M151.76 164.30V155.71M150.26 155.71h3M156.59 206.19V200.82M155.09 200.82h3M161.42 235.18V233.04M159.92 233.04h3M166.25 204.04V196.52M164.75 196.52h3M171.08 164.30V153.56M169.58 153.56h3M175.91 193.30V187.93M174.41 187.93h3M190.38 164.30V161.08M188.88 161.08h3M195.21 209.41V202.96M193.71 202.96h3M200.04 185.78V177.72M198.54 177.72h3M204.87 199.74V194.37M203.37 194.37h3M209.70 164.30V163.23M208.20 163.23h3M214.53 202.43V194.37M213.03 194.37h3M229.00 164.30V159.47M227.50 159.47h3M233.83 215.85V210.48M232.33 210.48h3M238.66 187.93V182.56M237.16 182.56h3M243.49 191.69V184.71M241.99 184.71h3M248.32 164.30V155.17M246.82 155.17h3M253.15 204.04V200.82M251.65 200.82h3M267.62 164.30V159.47M266.12 159.47h3M272.45 234.11V229.81M270.95 229.81h3M275.78 199.74h3M282.11 183.63V175.04M280.61 175.04h3M286.94 164.30V161.08M285.44 161.08h3M291.77 192.22V190.40M290.27 190.40h3M306.24 164.30V153.56M304.74 153.56h3M311.07 225.52V223.91M309.57 223.91h3M315.90 210.48V208.33M314.40 208.33h3M320.73 202.43V200.28M319.23 200.28h3M325.56 164.30V153.56M324.06 153.56h3M330.39 209.41V200.82M328.89 200.82h3M344.86 164.30V157.86M343.36 157.86h3M349.69 211.56V200.82M348.19 200.82h3M353.02 200.28h3M359.35 216.39V207.26M357.85 207.26h3M362.68 164.30h3M369.01 187.93V185.24M367.51 185.24h3M383.48 164.30V151.41M381.98 151.41h3M388.31 234.65V223.37M386.81 223.37h3M393.14 213.70V202.96M391.64 202.96h3M397.97 226.59V209.41M396.47 209.41h3M402.80 164.30V146.04M401.30 146.04h3M407.63 249.15V248.07M406.13 248.07h3" stroke="#333" stroke-width="0.9" fill="none"/>
<path d="M22 142.3V272.2H424.6M22 271.70h2.2M22 250.22h2.2M22 228.74h2.2M22 207.26h2.2M22 185.78h2.2M22 164.30h2.2M22 142.82h2.2" stroke="#111" stroke-width="1.1" fill="none"/>
<text x="18.60" y="273.90" font-size="6.2" text-anchor="end" fill="#333" stroke="#333" stroke-width="0.12">0.0</text>
<text x="18.60" y="252.42" font-size="6.2" text-anchor="end" fill="#333" stroke="#333" stroke-width="0.12">0.2</text>
<text x="18.60" y="230.94" font-size="6.2" text-anchor="end" fill="#333" stroke="#333" stroke-width="0.12">0.4</text>
<text x="18.60" y="209.46" font-size="6.2" text-anchor="end" fill="#333" stroke="#333" stroke-width="0.12">0.6</text>
<text x="18.60" y="187.98" font-size="6.2" text-anchor="end" fill="#333" stroke="#333" stroke-width="0.12">0.8</text>
<text x="18.60" y="166.50" font-size="6.2" text-anchor="end" fill="#333" stroke="#333" stroke-width="0.12">1.0</text>
<text x="18.60" y="145.02" font-size="6.2" text-anchor="end" fill="#333" stroke="#333" stroke-width="0.12">1.2</text>
<text transform="translate(5.8,200.7) rotate(-90)" font-size="8.5" text-anchor="middle" fill="#111" stroke="#111" stroke-width="0.3">mRNA levels, fold change</text>
<path d="M35.8 284.8H174.8M193.1 284.8H291.5M307.4 284.8H406.9" stroke="#111" stroke-width="1.1"/>
<text x="105.30" y="294.30" font-size="8.3" text-anchor="middle" fill="#111" stroke="#111" stroke-width="0.3">Stem cell signature genes</text>
<text x="242.30" y="294.30" font-size="8.3" text-anchor="middle" fill="#111" stroke="#111" stroke-width="0.3">Chromatin modifiers</text>
<text x="357.20" y="294.30" font-size="8.3" text-anchor="middle" fill="#111" stroke="#111" stroke-width="0.3">Wnt targets</text>
<rect x="442.6" y="157.00" width="4.9" height="4.1" fill="#000000" stroke="#000" stroke-width="0.6"/>
<text x="450.80" y="160.80" font-size="8.2" fill="#111" stroke="#111" stroke-width="0.3">Control</text>
<rect x="442.6" y="166.30" width="4.9" height="4.1" fill="#e8413c" stroke="#3a1a1a" stroke-width="0.6"/>
<text x="450.80" y="170.10" font-size="8.2" fill="#111" stroke="#111" stroke-width="0.3">LF3 30 <tspan font-size="7.30" stroke-width="0.05">μmol/L</tspan></text>
<rect x="442.6" y="175.60" width="4.9" height="4.1" fill="#72d0de" stroke="#2a4a50" stroke-width="0.6"/>
<text x="450.80" y="179.40" font-size="8.2" fill="#111" stroke="#111" stroke-width="0.3">ICG-001 25 <tspan font-size="7.30" stroke-width="0.05">μmol/L</tspan></text>
<rect x="442.6" y="184.90" width="4.9" height="4.1" fill="#2a6cb3" stroke="#1a2a50" stroke-width="0.6"/>
<text x="450.80" y="188.70" font-size="8.2" fill="#111" stroke="#111" stroke-width="0.3">iCRT3 60 <tspan font-size="7.30" stroke-width="0.05">μmol/L</tspan></text>
<rect x="442.6" y="194.20" width="4.9" height="4.1" fill="#b6b6b6" stroke="#3a3a3a" stroke-width="0.6"/>
<text x="450.80" y="198.00" font-size="8.2" fill="#111" stroke="#111" stroke-width="0.3">si control</text>
<rect x="442.6" y="203.50" width="4.9" height="4.1" fill="#9a4c9e" stroke="#3a1a3a" stroke-width="0.6"/>
<text x="450.80" y="207.30" font-size="8.2" fill="#111" stroke="#111" stroke-width="0.3">si β-catenin</text>
<path d="M25.3 321V453.1H155M25.3 436.20h2.8M25.3 419.80h2.8M25.3 403.40h2.8M25.3 387.00h2.8M25.3 370.60h2.8M25.3 354.20h2.8M25.3 337.80h2.8M25.3 321.40h2.8M40.60 453.1v-2.5M67.75 453.1v-2.5M94.90 453.1v-2.5M122.05 453.1v-2.5M149.20 453.1v-2.5" stroke="#111" stroke-width="1.1" fill="none"/>
<text x="22.20" y="438.40" font-size="6.3" text-anchor="end" fill="#222" stroke="#222" stroke-width="0.3">0</text>
<text x="22.20" y="422.00" font-size="6.3" text-anchor="end" fill="#222" stroke="#222" stroke-width="0.3">1</text>
<text x="22.20" y="405.60" font-size="6.3" text-anchor="end" fill="#222" stroke="#222" stroke-width="0.3">2</text>
<text x="22.20" y="389.20" font-size="6.3" text-anchor="end" fill="#222" stroke="#222" stroke-width="0.3">3</text>
<text x="22.20" y="372.80" font-size="6.3" text-anchor="end" fill="#222" stroke="#222" stroke-width="0.3">4</text>
<text x="22.20" y="356.40" font-size="6.3" text-anchor="end" fill="#222" stroke="#222" stroke-width="0.3">5</text>
<text x="22.20" y="340.00" font-size="6.3" text-anchor="end" fill="#222" stroke="#222" stroke-width="0.3">6</text>
<text x="22.20" y="323.60" font-size="6.3" text-anchor="end" fill="#222" stroke="#222" stroke-width="0.3">7</text>
<text x="40.60" y="461.90" font-size="6.3" text-anchor="middle" fill="#222" stroke="#222" stroke-width="0.3">0</text>
<text x="67.75" y="461.90" font-size="6.3" text-anchor="middle" fill="#222" stroke="#222" stroke-width="0.3">1</text>
<text x="94.90" y="461.90" font-size="6.3" text-anchor="middle" fill="#222" stroke="#222" stroke-width="0.3">2</text>
<text x="122.05" y="461.90" font-size="6.3" text-anchor="middle" fill="#222" stroke="#222" stroke-width="0.3">3</text>
<text x="149.20" y="461.90" font-size="6.3" text-anchor="middle" fill="#222" stroke="#222" stroke-width="0.3">4</text>
<text x="94.40" y="471.00" font-size="8.3" text-anchor="middle" fill="#111" stroke="#111" stroke-width="0.3">Time, days</text>
<text transform="translate(13.4,378.4) rotate(-90)" font-size="8.1" text-anchor="middle" fill="#111" stroke="#111" stroke-width="0.3">No. of cells per well, 10<tspan font-size="5.8" dy="-2.8">4</tspan></text>
<path d="M149.20 325.34V321.07M147.60 321.07h3.2" stroke="#111" stroke-width="0.8"/>
<polyline points="40.60,433.58 67.75,429.64 94.90,420.46 122.05,388.64 149.20,325.34" fill="none" stroke="#111" stroke-width="1.3"/>
<polyline points="40.60,433.58 67.75,428.33 94.90,422.75 122.05,388.48 149.20,327.80" fill="none" stroke="#d83540" stroke-width="1.3"/>
<polyline points="40.60,433.58 67.75,430.46 94.90,424.72 122.05,408.32 149.20,380.11" fill="none" stroke="#2c3f8c" stroke-width="1.3"/>
<polyline points="40.60,433.58 67.75,431.28 94.90,426.36 122.05,412.75 149.20,390.61" fill="none" stroke="#9a5aa0" stroke-width="1.3"/>
<polyline points="40.60,433.58 67.75,432.76 94.90,430.13 122.05,419.80 149.20,404.06" fill="none" stroke="#44bfb4" stroke-width="1.3"/>
<circle cx="40.60" cy="433.58" r="2.8" fill="#111" stroke="#222" stroke-width="0.6"/>
<circle cx="67.75" cy="429.64" r="2.8" fill="#111" stroke="#222" stroke-width="0.6"/>
<circle cx="94.90" cy="420.46" r="2.8" fill="#111" stroke="#222" stroke-width="0.6"/>
<circle cx="122.05" cy="388.64" r="2.8" fill="#111" stroke="#222" stroke-width="0.6"/>
<circle cx="149.20" cy="325.34" r="2.8" fill="#111" stroke="#222" stroke-width="0.6"/>
<circle cx="40.60" cy="433.58" r="2.8" fill="#e25060" stroke="#222" stroke-width="0.6"/>
<circle cx="67.75" cy="428.33" r="2.8" fill="#e25060" stroke="#222" stroke-width="0.6"/>
<circle cx="94.90" cy="422.75" r="2.8" fill="#e25060" stroke="#222" stroke-width="0.6"/>
<circle cx="122.05" cy="388.48" r="2.8" fill="#e25060" stroke="#222" stroke-width="0.6"/>
<circle cx="149.20" cy="327.80" r="2.8" fill="#e25060" stroke="#222" stroke-width="0.6"/>
<polygon points="37.40,431.38 43.80,431.38 40.60,436.98" fill="#2c4a9a" stroke="#222" stroke-width="0.6"/>
<polygon points="64.55,428.26 70.95,428.26 67.75,433.86" fill="#2c4a9a" stroke="#222" stroke-width="0.6"/>
<polygon points="91.70,422.52 98.10,422.52 94.90,428.12" fill="#2c4a9a" stroke="#222" stroke-width="0.6"/>
<polygon points="118.85,406.12 125.25,406.12 122.05,411.72" fill="#2c4a9a" stroke="#222" stroke-width="0.6"/>
<polygon points="146.00,377.91 152.40,377.91 149.20,383.51" fill="#2c4a9a" stroke="#222" stroke-width="0.6"/>
<polygon points="37.40,435.78 43.80,435.78 40.60,430.18" fill="#a060a8" stroke="#222" stroke-width="0.6"/>
<polygon points="64.55,433.48 70.95,433.48 67.75,427.88" fill="#a060a8" stroke="#222" stroke-width="0.6"/>
<polygon points="91.70,428.56 98.10,428.56 94.90,422.96" fill="#a060a8" stroke="#222" stroke-width="0.6"/>
<polygon points="118.85,414.95 125.25,414.95 122.05,409.35" fill="#a060a8" stroke="#222" stroke-width="0.6"/>
<polygon points="146.00,392.81 152.40,392.81 149.20,387.21" fill="#a060a8" stroke="#222" stroke-width="0.6"/>
<rect x="38.00" y="430.98" width="5.199999999999999" height="5.199999999999999" fill="#6cc8d8" stroke="#222" stroke-width="0.6"/>
<rect x="65.15" y="430.16" width="5.199999999999999" height="5.199999999999999" fill="#6cc8d8" stroke="#222" stroke-width="0.6"/>
<rect x="92.30" y="427.53" width="5.199999999999999" height="5.199999999999999" fill="#6cc8d8" stroke="#222" stroke-width="0.6"/>
<rect x="119.45" y="417.20" width="5.199999999999999" height="5.199999999999999" fill="#6cc8d8" stroke="#222" stroke-width="0.6"/>
<rect x="146.60" y="401.46" width="5.199999999999999" height="5.199999999999999" fill="#6cc8d8" stroke="#222" stroke-width="0.6"/>
<line x1="41.6" y1="329.70" x2="56.4" y2="329.70" stroke="#111" stroke-width="1.5"/>
<circle cx="49.00" cy="329.70" r="2.6" fill="#111" stroke="#222" stroke-width="0.6"/>
<text x="59.20" y="331.80" font-size="8.2" fill="#111" stroke="#111" stroke-width="0.3">Control</text>
<line x1="41.6" y1="338.70" x2="56.4" y2="338.70" stroke="#d83540" stroke-width="1.5"/>
<circle cx="49.00" cy="338.70" r="2.6" fill="#e25060" stroke="#222" stroke-width="0.6"/>
<text x="59.20" y="340.80" font-size="8.2" fill="#111" stroke="#111" stroke-width="0.3">LF3 10 <tspan font-size="7.30" stroke-width="0.05">μmol/L</tspan></text>
<line x1="41.6" y1="347.70" x2="56.4" y2="347.70" stroke="#2c3f8c" stroke-width="1.5"/>
<polygon points="46.00,345.70 52.00,345.70 49.00,350.90" fill="#2c4a9a" stroke="#222" stroke-width="0.6"/>
<text x="59.20" y="349.80" font-size="8.2" fill="#111" stroke="#111" stroke-width="0.3">LF3 30 <tspan font-size="7.30" stroke-width="0.05">μmol/L</tspan></text>
<line x1="41.6" y1="356.70" x2="56.4" y2="356.70" stroke="#9a5aa0" stroke-width="1.5"/>
<polygon points="46.00,358.70 52.00,358.70 49.00,353.50" fill="#a060a8" stroke="#222" stroke-width="0.6"/>
<text x="59.20" y="358.80" font-size="8.2" fill="#111" stroke="#111" stroke-width="0.3">LF3 60 <tspan font-size="7.30" stroke-width="0.05">μmol/L</tspan></text>
<line x1="41.6" y1="365.70" x2="56.4" y2="365.70" stroke="#44bfb4" stroke-width="1.5"/>
<rect x="46.60" y="363.30" width="4.8" height="4.8" fill="#6cc8d8" stroke="#222" stroke-width="0.6"/>
<text x="59.20" y="367.80" font-size="8.2" fill="#111" stroke="#111" stroke-width="0.3">ICG-001 25 <tspan font-size="7.30" stroke-width="0.05">μmol/L</tspan></text>
<text x="202.70" y="322.50" font-size="8.2" text-anchor="middle" fill="#111" stroke="#111" stroke-width="0.3">Control</text>
<text x="203.50" y="393.00" font-size="8.2" text-anchor="middle" fill="#111" stroke="#111" stroke-width="0.3">LF3 10 <tspan font-size="7.30" stroke-width="0.05">μmol/L</tspan></text>
<defs><clipPath id="ce1"><rect x="173.7" y="324.1" width="58.3" height="58.4"/></clipPath><clipPath id="ce2"><rect x="173.7" y="394.8" width="58.1" height="57.9"/></clipPath><radialGradient id="sph" cx="50%" cy="50%" r="50%"><stop offset="0" stop-color="#7a7a7a"/><stop offset="0.65" stop-color="#8c8c8c"/><stop offset="0.88" stop-color="#bcbcbc"/><stop offset="1" stop-color="#707070"/></radialGradient><radialGradient id="sph2" cx="50%" cy="50%" r="50%"><stop offset="0" stop-color="#5a5a5a"/><stop offset="0.6" stop-color="#707070"/><stop offset="0.85" stop-color="#b8b8b8"/><stop offset="1" stop-color="#777"/></radialGradient><filter id="soft" x="-5%" y="-5%" width="110%" height="110%"><feGaussianBlur stdDeviation="0.5"/></filter><filter id="tex" x="0" y="0" width="100%" height="100%"><feTurbulence type="fractalNoise" baseFrequency="0.32" numOctaves="2" seed="5"/><feColorMatrix type="matrix" values="2.4 0 0 0 -0.5  2.4 0 0 0 -0.5  2.4 0 0 0 -0.5  0 0 0 0 1"/><feGaussianBlur stdDeviation="0.35"/><feComposite in2="SourceGraphic" operator="in"/></filter><linearGradient id="bg2" x1="0" y1="0" x2="1" y2="0"><stop offset="0.000" stop-color="#353535"/><stop offset="0.038" stop-color="#393939"/><stop offset="0.077" stop-color="#383838"/><stop offset="0.115" stop-color="#353535"/><stop offset="0.154" stop-color="#353535"/><stop offset="0.192" stop-color="#393939"/><stop offset="0.231" stop-color="#373737"/><stop offset="0.269" stop-color="#353535"/><stop offset="0.308" stop-color="#373737"/><stop offset="0.346" stop-color="#373737"/><stop offset="0.385" stop-color="#333333"/><stop offset="0.423" stop-color="#373737"/><stop offset="0.462" stop-color="#323232"/><stop offset="0.500" stop-color="#393939"/><stop offset="0.538" stop-color="#393939"/><stop offset="0.577" stop-color="#353535"/><stop offset="0.615" stop-color="#343434"/><stop offset="0.654" stop-color="#363636"/><stop offset="0.692" stop-color="#333333"/><stop offset="0.731" stop-color="#333333"/><stop offset="0.769" stop-color="#373737"/><stop offset="0.808" stop-color="#353535"/><stop offset="0.846" stop-color="#363636"/><stop offset="0.885" stop-color="#393939"/><stop offset="0.923" stop-color="#363636"/><stop offset="0.962" stop-color="#353535"/><stop offset="1.000" stop-color="#353535"/></linearGradient></defs>
<rect x="173.7" y="324.1" width="58.3" height="58.4" fill="#0e0e0e"/>
<g clip-path="url(#ce1)">
<path d="M232.79,335.80 L232.80,337.26 L232.52,338.69 L231.93,339.98 L231.24,341.15 L230.66,342.39 L230.13,343.76 L229.39,345.04 L228.29,345.82 L226.95,345.94 L225.64,345.69 L224.49,345.59 L223.40,345.93 L222.21,346.47 L220.92,346.73 L219.67,346.45 L218.54,345.76 L217.49,344.91 L216.48,343.98 L215.63,342.85 L215.15,341.44 L215.05,339.89 L215.08,338.44 L214.88,337.13 L214.39,335.80 L213.92,334.32 L213.94,332.80 L214.56,331.47 L215.51,330.41 L216.41,329.45 L217.12,328.37 L217.81,327.18 L218.67,326.12 L219.76,325.39 L220.94,324.93 L222.15,324.53 L223.40,324.17 L224.70,324.14 L225.90,324.75 L226.87,325.90 L227.62,327.15 L228.43,328.05 L229.49,328.59 L230.74,329.14 L231.81,330.06 L232.42,331.38 L232.63,332.87 L232.69,334.35Z" fill="url(#sph)"/>
<path d="M232.79,335.80 L232.80,337.26 L232.52,338.69 L231.93,339.98 L231.24,341.15 L230.66,342.39 L230.13,343.76 L229.39,345.04 L228.29,345.82 L226.95,345.94 L225.64,345.69 L224.49,345.59 L223.40,345.93 L222.21,346.47 L220.92,346.73 L219.67,346.45 L218.54,345.76 L217.49,344.91 L216.48,343.98 L215.63,342.85 L215.15,341.44 L215.05,339.89 L215.08,338.44 L214.88,337.13 L214.39,335.80 L213.92,334.32 L213.94,332.80 L214.56,331.47 L215.51,330.41 L216.41,329.45 L217.12,328.37 L217.81,327.18 L218.67,326.12 L219.76,325.39 L220.94,324.93 L222.15,324.53 L223.40,324.17 L224.70,324.14 L225.90,324.75 L226.87,325.90 L227.62,327.15 L228.43,328.05 L229.49,328.59 L230.74,329.14 L231.81,330.06 L232.42,331.38 L232.63,332.87 L232.69,334.35Z" fill="#fff" filter="url(#tex)" opacity="0.32"/>
<path d="M227.78,326.00 L227.58,326.47 L227.20,326.88 L226.86,327.26 L226.65,327.68 L226.46,328.13 L226.14,328.55 L225.65,328.87 L225.07,329.12 L224.48,329.35 L223.86,329.55 L223.19,329.65 L222.50,329.56 L221.88,329.31 L221.34,329.03 L220.79,328.88 L220.14,328.86 L219.41,328.82 L218.75,328.62 L218.30,328.25 L218.05,327.80 L217.86,327.34 L217.65,326.91 L217.47,326.46 L217.44,326.00 L217.59,325.55 L217.79,325.12 L217.93,324.68 L218.06,324.21 L218.32,323.76 L218.83,323.43 L219.52,323.28 L220.20,323.22 L220.78,323.10 L221.29,322.84 L221.85,322.54 L222.50,322.33 L223.19,322.31 L223.86,322.45 L224.49,322.63 L225.10,322.84 L225.66,323.12 L226.06,323.51 L226.30,323.96 L226.49,324.39 L226.79,324.76 L227.24,325.11 L227.64,325.53Z" fill="url(#sph)"/>
<path d="M227.78,326.00 L227.58,326.47 L227.20,326.88 L226.86,327.26 L226.65,327.68 L226.46,328.13 L226.14,328.55 L225.65,328.87 L225.07,329.12 L224.48,329.35 L223.86,329.55 L223.19,329.65 L222.50,329.56 L221.88,329.31 L221.34,329.03 L220.79,328.88 L220.14,328.86 L219.41,328.82 L218.75,328.62 L218.30,328.25 L218.05,327.80 L217.86,327.34 L217.65,326.91 L217.47,326.46 L217.44,326.00 L217.59,325.55 L217.79,325.12 L217.93,324.68 L218.06,324.21 L218.32,323.76 L218.83,323.43 L219.52,323.28 L220.20,323.22 L220.78,323.10 L221.29,322.84 L221.85,322.54 L222.50,322.33 L223.19,322.31 L223.86,322.45 L224.49,322.63 L225.10,322.84 L225.66,323.12 L226.06,323.51 L226.30,323.96 L226.49,324.39 L226.79,324.76 L227.24,325.11 L227.64,325.53Z" fill="#fff" filter="url(#tex)" opacity="0.32"/>
<path d="M222.38,350.40 L222.40,351.67 L221.97,352.85 L221.38,353.93 L220.85,355.00 L220.33,356.08 L219.63,357.06 L218.72,357.81 L217.70,358.37 L216.71,358.95 L215.72,359.65 L214.61,360.24 L213.40,360.34 L212.24,359.79 L211.27,358.89 L210.42,358.09 L209.48,357.66 L208.35,357.43 L207.19,357.04 L206.24,356.27 L205.58,355.23 L205.09,354.08 L204.65,352.91 L204.34,351.68 L204.37,350.40 L204.81,349.19 L205.41,348.11 L205.87,347.06 L206.08,345.88 L206.32,344.59 L206.90,343.45 L207.91,342.76 L209.13,342.50 L210.29,342.36 L211.30,342.04 L212.31,341.52 L213.40,341.09 L214.56,340.98 L215.71,341.19 L216.85,341.51 L218.00,341.87 L219.10,342.45 L219.92,343.43 L220.32,344.73 L220.42,346.07 L220.60,347.21 L221.12,348.19 L221.85,349.21Z" fill="url(#sph)"/>
<path d="M222.38,350.40 L222.40,351.67 L221.97,352.85 L221.38,353.93 L220.85,355.00 L220.33,356.08 L219.63,357.06 L218.72,357.81 L217.70,358.37 L216.71,358.95 L215.72,359.65 L214.61,360.24 L213.40,360.34 L212.24,359.79 L211.27,358.89 L210.42,358.09 L209.48,357.66 L208.35,357.43 L207.19,357.04 L206.24,356.27 L205.58,355.23 L205.09,354.08 L204.65,352.91 L204.34,351.68 L204.37,350.40 L204.81,349.19 L205.41,348.11 L205.87,347.06 L206.08,345.88 L206.32,344.59 L206.90,343.45 L207.91,342.76 L209.13,342.50 L210.29,342.36 L211.30,342.04 L212.31,341.52 L213.40,341.09 L214.56,340.98 L215.71,341.19 L216.85,341.51 L218.00,341.87 L219.10,342.45 L219.92,343.43 L220.32,344.73 L220.42,346.07 L220.60,347.21 L221.12,348.19 L221.85,349.21Z" fill="#fff" filter="url(#tex)" opacity="0.32"/>
<path d="M200.89,345.40 L200.95,346.46 L201.05,347.58 L201.07,348.78 L200.70,349.91 L199.83,350.74 L198.65,351.20 L197.51,351.52 L196.59,351.98 L195.79,352.68 L194.89,353.39 L193.83,353.77 L192.70,353.72 L191.62,353.43 L190.58,353.13 L189.53,352.86 L188.52,352.47 L187.65,351.82 L186.94,351.02 L186.23,350.25 L185.36,349.54 L184.41,348.75 L183.73,347.75 L183.65,346.56 L184.13,345.40 L184.81,344.39 L185.30,343.46 L185.51,342.49 L185.69,341.45 L186.11,340.47 L186.80,339.64 L187.60,338.91 L188.43,338.19 L189.34,337.49 L190.41,337.05 L191.57,337.04 L192.70,337.36 L193.74,337.68 L194.80,337.75 L195.98,337.68 L197.18,337.82 L198.17,338.44 L198.79,339.45 L199.14,340.58 L199.49,341.57 L199.97,342.46 L200.47,343.37 L200.79,344.36Z" fill="url(#sph)"/>
<path d="M200.89,345.40 L200.95,346.46 L201.05,347.58 L201.07,348.78 L200.70,349.91 L199.83,350.74 L198.65,351.20 L197.51,351.52 L196.59,351.98 L195.79,352.68 L194.89,353.39 L193.83,353.77 L192.70,353.72 L191.62,353.43 L190.58,353.13 L189.53,352.86 L188.52,352.47 L187.65,351.82 L186.94,351.02 L186.23,350.25 L185.36,349.54 L184.41,348.75 L183.73,347.75 L183.65,346.56 L184.13,345.40 L184.81,344.39 L185.30,343.46 L185.51,342.49 L185.69,341.45 L186.11,340.47 L186.80,339.64 L187.60,338.91 L188.43,338.19 L189.34,337.49 L190.41,337.05 L191.57,337.04 L192.70,337.36 L193.74,337.68 L194.80,337.75 L195.98,337.68 L197.18,337.82 L198.17,338.44 L198.79,339.45 L199.14,340.58 L199.49,341.57 L199.97,342.46 L200.47,343.37 L200.79,344.36Z" fill="#fff" filter="url(#tex)" opacity="0.32"/>
<path d="M204.01,358.70 L204.24,359.72 L204.48,360.84 L204.35,361.96 L203.76,362.90 L202.90,363.65 L202.06,364.32 L201.29,365.04 L200.47,365.74 L199.50,366.25 L198.45,366.52 L197.38,366.72 L196.30,367.01 L195.13,367.34 L193.92,367.38 L192.83,366.87 L192.05,365.89 L191.51,364.79 L190.96,363.91 L190.19,363.28 L189.28,362.66 L188.51,361.85 L188.06,360.85 L187.87,359.78 L187.76,358.70 L187.68,357.59 L187.81,356.48 L188.32,355.47 L189.12,354.66 L189.94,353.93 L190.57,353.10 L191.12,352.11 L191.84,351.16 L192.86,350.60 L194.07,350.59 L195.25,350.90 L196.30,351.15 L197.32,351.17 L198.38,351.11 L199.47,351.22 L200.50,351.60 L201.46,352.13 L202.45,352.70 L203.44,353.35 L204.22,354.23 L204.54,355.37 L204.38,356.59 L204.08,357.70Z" fill="url(#sph)"/>
<path d="M204.01,358.70 L204.24,359.72 L204.48,360.84 L204.35,361.96 L203.76,362.90 L202.90,363.65 L202.06,364.32 L201.29,365.04 L200.47,365.74 L199.50,366.25 L198.45,366.52 L197.38,366.72 L196.30,367.01 L195.13,367.34 L193.92,367.38 L192.83,366.87 L192.05,365.89 L191.51,364.79 L190.96,363.91 L190.19,363.28 L189.28,362.66 L188.51,361.85 L188.06,360.85 L187.87,359.78 L187.76,358.70 L187.68,357.59 L187.81,356.48 L188.32,355.47 L189.12,354.66 L189.94,353.93 L190.57,353.10 L191.12,352.11 L191.84,351.16 L192.86,350.60 L194.07,350.59 L195.25,350.90 L196.30,351.15 L197.32,351.17 L198.38,351.11 L199.47,351.22 L200.50,351.60 L201.46,352.13 L202.45,352.70 L203.44,353.35 L204.22,354.23 L204.54,355.37 L204.38,356.59 L204.08,357.70Z" fill="#fff" filter="url(#tex)" opacity="0.32"/>
<path d="M186.96,372.00 L186.46,372.89 L185.96,373.67 L185.71,374.46 L185.63,375.39 L185.45,376.36 L184.96,377.16 L184.20,377.66 L183.34,377.96 L182.54,378.25 L181.77,378.61 L180.96,378.91 L180.10,379.01 L179.24,378.90 L178.40,378.74 L177.50,378.65 L176.56,378.50 L175.72,378.06 L175.17,377.23 L174.96,376.19 L174.88,375.20 L174.65,374.40 L174.18,373.68 L173.67,372.90 L173.37,372.00 L173.40,371.06 L173.61,370.16 L173.87,369.26 L174.17,368.37 L174.65,367.57 L175.36,366.97 L176.18,366.58 L176.95,366.21 L177.64,365.69 L178.35,365.05 L179.18,364.60 L180.10,364.60 L180.96,365.05 L181.71,365.65 L182.41,366.09 L183.18,366.35 L184.01,366.60 L184.78,367.04 L185.41,367.68 L185.95,368.42 L186.49,369.19 L186.96,370.05 L187.16,371.01Z" fill="url(#sph)"/>
<path d="M186.96,372.00 L186.46,372.89 L185.96,373.67 L185.71,374.46 L185.63,375.39 L185.45,376.36 L184.96,377.16 L184.20,377.66 L183.34,377.96 L182.54,378.25 L181.77,378.61 L180.96,378.91 L180.10,379.01 L179.24,378.90 L178.40,378.74 L177.50,378.65 L176.56,378.50 L175.72,378.06 L175.17,377.23 L174.96,376.19 L174.88,375.20 L174.65,374.40 L174.18,373.68 L173.67,372.90 L173.37,372.00 L173.40,371.06 L173.61,370.16 L173.87,369.26 L174.17,368.37 L174.65,367.57 L175.36,366.97 L176.18,366.58 L176.95,366.21 L177.64,365.69 L178.35,365.05 L179.18,364.60 L180.10,364.60 L180.96,365.05 L181.71,365.65 L182.41,366.09 L183.18,366.35 L184.01,366.60 L184.78,367.04 L185.41,367.68 L185.95,368.42 L186.49,369.19 L186.96,370.05 L187.16,371.01Z" fill="#fff" filter="url(#tex)" opacity="0.32"/>
<rect x="218.8" y="376" width="10.4" height="1.8" fill="#f4f4f4"/>
</g>
<rect x="173.7" y="394.8" width="58.1" height="57.9" fill="url(#bg2)"/>
<g clip-path="url(#ce2)">
<path d="M208.20,402.50 L208.02,403.19 L207.83,403.85 L207.63,404.51 L207.34,405.13 L206.88,405.64 L206.31,406.04 L205.78,406.44 L205.33,406.98 L204.86,407.62 L204.24,408.15 L203.48,408.33 L202.70,408.11 L202.00,407.71 L201.37,407.35 L200.75,407.13 L200.10,406.93 L199.49,406.60 L198.99,406.14 L198.54,405.64 L198.05,405.13 L197.56,404.59 L197.22,403.94 L197.19,403.21 L197.40,402.50 L197.64,401.85 L197.71,401.19 L197.66,400.45 L197.70,399.67 L198.05,399.00 L198.67,398.55 L199.41,398.29 L200.10,398.08 L200.73,397.83 L201.36,397.60 L202.03,397.50 L202.70,397.51 L203.37,397.51 L204.09,397.43 L204.88,397.34 L205.66,397.47 L206.27,397.94 L206.63,398.64 L206.85,399.38 L207.12,400.00 L207.54,400.53 L207.97,401.11 L208.22,401.79Z" fill="url(#sph2)"/>
<path d="M208.20,402.50 L208.02,403.19 L207.83,403.85 L207.63,404.51 L207.34,405.13 L206.88,405.64 L206.31,406.04 L205.78,406.44 L205.33,406.98 L204.86,407.62 L204.24,408.15 L203.48,408.33 L202.70,408.11 L202.00,407.71 L201.37,407.35 L200.75,407.13 L200.10,406.93 L199.49,406.60 L198.99,406.14 L198.54,405.64 L198.05,405.13 L197.56,404.59 L197.22,403.94 L197.19,403.21 L197.40,402.50 L197.64,401.85 L197.71,401.19 L197.66,400.45 L197.70,399.67 L198.05,399.00 L198.67,398.55 L199.41,398.29 L200.10,398.08 L200.73,397.83 L201.36,397.60 L202.03,397.50 L202.70,397.51 L203.37,397.51 L204.09,397.43 L204.88,397.34 L205.66,397.47 L206.27,397.94 L206.63,398.64 L206.85,399.38 L207.12,400.00 L207.54,400.53 L207.97,401.11 L208.22,401.79Z" fill="#fff" filter="url(#tex)" opacity="0.25"/>
<path d="M196.42,409.20 L196.50,409.86 L196.28,410.48 L195.79,410.98 L195.23,411.37 L194.79,411.76 L194.50,412.26 L194.21,412.83 L193.78,413.31 L193.19,413.57 L192.54,413.63 L191.91,413.65 L191.30,413.69 L190.68,413.73 L190.06,413.63 L189.49,413.39 L188.95,413.10 L188.37,412.86 L187.73,412.62 L187.14,412.26 L186.77,411.70 L186.73,411.01 L186.88,410.33 L187.00,409.74 L186.93,409.20 L186.76,408.63 L186.69,408.02 L186.82,407.42 L187.10,406.88 L187.43,406.36 L187.79,405.83 L188.23,405.37 L188.81,405.07 L189.47,404.97 L190.11,404.95 L190.70,404.84 L191.30,404.60 L191.96,404.40 L192.63,404.44 L193.20,404.80 L193.64,405.32 L194.01,405.81 L194.44,406.19 L194.93,406.53 L195.37,406.95 L195.70,407.45 L195.95,408.01 L196.19,408.58Z" fill="url(#sph2)"/>
<path d="M196.42,409.20 L196.50,409.86 L196.28,410.48 L195.79,410.98 L195.23,411.37 L194.79,411.76 L194.50,412.26 L194.21,412.83 L193.78,413.31 L193.19,413.57 L192.54,413.63 L191.91,413.65 L191.30,413.69 L190.68,413.73 L190.06,413.63 L189.49,413.39 L188.95,413.10 L188.37,412.86 L187.73,412.62 L187.14,412.26 L186.77,411.70 L186.73,411.01 L186.88,410.33 L187.00,409.74 L186.93,409.20 L186.76,408.63 L186.69,408.02 L186.82,407.42 L187.10,406.88 L187.43,406.36 L187.79,405.83 L188.23,405.37 L188.81,405.07 L189.47,404.97 L190.11,404.95 L190.70,404.84 L191.30,404.60 L191.96,404.40 L192.63,404.44 L193.20,404.80 L193.64,405.32 L194.01,405.81 L194.44,406.19 L194.93,406.53 L195.37,406.95 L195.70,407.45 L195.95,408.01 L196.19,408.58Z" fill="#fff" filter="url(#tex)" opacity="0.25"/>
<path d="M196.05,443.70 L196.46,444.54 L196.75,445.48 L196.63,446.41 L196.10,447.18 L195.37,447.80 L194.67,448.38 L193.99,448.97 L193.25,449.49 L192.38,449.81 L191.47,449.94 L190.59,450.05 L189.70,450.26 L188.76,450.46 L187.80,450.39 L186.97,449.92 L186.35,449.17 L185.83,448.46 L185.19,447.95 L184.35,447.57 L183.47,447.09 L182.81,446.39 L182.50,445.52 L182.43,444.60 L182.44,443.70 L182.51,442.81 L182.79,441.95 L183.34,441.22 L184.03,440.61 L184.63,440.03 L185.04,439.31 L185.43,438.45 L186.02,437.69 L186.88,437.28 L187.87,437.25 L188.82,437.39 L189.70,437.43 L190.59,437.31 L191.54,437.23 L192.47,437.39 L193.31,437.80 L194.07,438.32 L194.82,438.87 L195.51,439.49 L195.99,440.28 L196.11,441.20 L195.96,442.12 L195.86,442.94Z" fill="url(#sph2)"/>
<path d="M196.05,443.70 L196.46,444.54 L196.75,445.48 L196.63,446.41 L196.10,447.18 L195.37,447.80 L194.67,448.38 L193.99,448.97 L193.25,449.49 L192.38,449.81 L191.47,449.94 L190.59,450.05 L189.70,450.26 L188.76,450.46 L187.80,450.39 L186.97,449.92 L186.35,449.17 L185.83,448.46 L185.19,447.95 L184.35,447.57 L183.47,447.09 L182.81,446.39 L182.50,445.52 L182.43,444.60 L182.44,443.70 L182.51,442.81 L182.79,441.95 L183.34,441.22 L184.03,440.61 L184.63,440.03 L185.04,439.31 L185.43,438.45 L186.02,437.69 L186.88,437.28 L187.87,437.25 L188.82,437.39 L189.70,437.43 L190.59,437.31 L191.54,437.23 L192.47,437.39 L193.31,437.80 L194.07,438.32 L194.82,438.87 L195.51,439.49 L195.99,440.28 L196.11,441.20 L195.96,442.12 L195.86,442.94Z" fill="#fff" filter="url(#tex)" opacity="0.25"/>
<rect x="218.6" y="447" width="10.4" height="1.8" fill="#f4f4f4"/>
</g>
<path d="M271.4 321.5V452.6H367M271.4 452.80h2.6M271.4 439.70h2.6M271.4 426.60h2.6M271.4 413.50h2.6M271.4 400.40h2.6M271.4 387.30h2.6M271.4 374.20h2.6M271.4 361.10h2.6M271.4 348.00h2.6M271.4 334.90h2.6M271.4 321.80h2.6" stroke="#111" stroke-width="1.1" fill="none"/>
<text x="266.20" y="454.90" font-size="6.0" text-anchor="end" fill="#333" stroke="#333" stroke-width="0.12">0</text>
<text x="266.20" y="441.80" font-size="6.0" text-anchor="end" fill="#333" stroke="#333" stroke-width="0.12">10</text>
<text x="266.20" y="428.70" font-size="6.0" text-anchor="end" fill="#333" stroke="#333" stroke-width="0.12">20</text>
<text x="266.20" y="415.60" font-size="6.0" text-anchor="end" fill="#333" stroke="#333" stroke-width="0.12">30</text>
<text x="266.20" y="402.50" font-size="6.0" text-anchor="end" fill="#333" stroke="#333" stroke-width="0.12">40</text>
<text x="266.20" y="389.40" font-size="6.0" text-anchor="end" fill="#333" stroke="#333" stroke-width="0.12">50</text>
<text x="266.20" y="376.30" font-size="6.0" text-anchor="end" fill="#333" stroke="#333" stroke-width="0.12">60</text>
<text x="266.20" y="363.20" font-size="6.0" text-anchor="end" fill="#333" stroke="#333" stroke-width="0.12">70</text>
<text x="266.20" y="350.10" font-size="6.0" text-anchor="end" fill="#333" stroke="#333" stroke-width="0.12">80</text>
<text x="266.20" y="337.00" font-size="6.0" text-anchor="end" fill="#333" stroke="#333" stroke-width="0.12">90</text>
<text x="266.20" y="323.90" font-size="6.0" text-anchor="end" fill="#333" stroke="#333" stroke-width="0.12">100</text>
<rect x="280.10" y="341.45" width="6" height="111.35" fill="#000" stroke="#000" stroke-width="0.6"/>
<text transform="translate(283.90,455.2) rotate(61)" font-size="8.2" fill="#111" stroke="#111" stroke-width="0.3" dominant-baseline="hanging">Control</text>
<rect x="291.85" y="378.79" width="6" height="74.01" fill="#e8413c" stroke="#5a1a1a" stroke-width="0.6"/>
<text transform="translate(295.65,455.2) rotate(61)" font-size="8.2" fill="#111" stroke="#111" stroke-width="0.3" dominant-baseline="hanging">LF3 10 <tspan stroke-width="0.12">μmol/L</tspan></text>
<rect x="303.60" y="421.88" width="6" height="30.92" fill="#e8413c" stroke="#5a1a1a" stroke-width="0.6"/>
<text transform="translate(307.40,455.2) rotate(61)" font-size="8.2" fill="#111" stroke="#111" stroke-width="0.3" dominant-baseline="hanging">LF3 30 <tspan stroke-width="0.12">μmol/L</tspan></text>
<rect x="315.35" y="440.75" width="6" height="12.05" fill="#e8413c" stroke="#5a1a1a" stroke-width="0.6"/>
<text transform="translate(319.15,455.2) rotate(61)" font-size="8.2" fill="#111" stroke="#111" stroke-width="0.3" dominant-baseline="hanging">LF3 60 <tspan stroke-width="0.12">μmol/L</tspan></text>
<rect x="327.10" y="359.79" width="6" height="93.01" fill="#72d0de" stroke="#2a4a50" stroke-width="0.6"/>
<text transform="translate(330.90,455.2) rotate(61)" font-size="8.2" fill="#111" stroke="#111" stroke-width="0.3" dominant-baseline="hanging">ICG-001 5 <tspan stroke-width="0.12">μmol/L</tspan></text>
<rect x="338.85" y="378.79" width="6" height="74.01" fill="#72d0de" stroke="#2a4a50" stroke-width="0.6"/>
<text transform="translate(342.65,455.2) rotate(61)" font-size="8.2" fill="#111" stroke="#111" stroke-width="0.3" dominant-baseline="hanging">ICG-001 10 <tspan stroke-width="0.12">μmol/L</tspan></text>
<rect x="350.60" y="437.60" width="6" height="15.20" fill="#72d0de" stroke="#2a4a50" stroke-width="0.6"/>
<text transform="translate(354.40,455.2) rotate(61)" font-size="8.2" fill="#111" stroke="#111" stroke-width="0.3" dominant-baseline="hanging">ICG-001 25 <tspan stroke-width="0.12">μmol/L</tspan></text>
<path d="M283.10 341.45V326.38M281.50 326.38h3.2M294.85 378.79V365.03M293.25 365.03h3.2M306.60 421.88V415.47M305.00 415.47h3.2M318.35 440.75V436.29M316.75 436.29h3.2M330.10 359.79V347.35M328.50 347.35h3.2M341.85 378.79V368.96M340.25 368.96h3.2M353.60 437.60V435.77M352.00 435.77h3.2" stroke="#333" stroke-width="0.9" fill="none"/>
<text transform="translate(254.6,387.3) rotate(-90)" font-size="8.25" text-anchor="middle" fill="#111" stroke="#111" stroke-width="0.3">No. of spheres, from 300 cells</text>
<path d="M399.3 321.5V453.3H502.1M399.3 451.90h2.6M399.3 430.20h2.6M399.3 408.50h2.6M399.3 386.80h2.6M399.3 365.10h2.6M399.3 343.40h2.6M399.3 321.70h2.6" stroke="#111" stroke-width="1.1" fill="none"/>
<text x="397.00" y="454.10" font-size="6.2" text-anchor="end" fill="#333" stroke="#333" stroke-width="0.12">0</text>
<text x="397.00" y="432.40" font-size="6.2" text-anchor="end" fill="#333" stroke="#333" stroke-width="0.12">0.5</text>
<text x="397.00" y="410.70" font-size="6.2" text-anchor="end" fill="#333" stroke="#333" stroke-width="0.12">1.0</text>
<text x="397.00" y="389.00" font-size="6.2" text-anchor="end" fill="#333" stroke="#333" stroke-width="0.12">1.5</text>
<text x="397.00" y="367.30" font-size="6.2" text-anchor="end" fill="#333" stroke="#333" stroke-width="0.12">2.0</text>
<text x="397.00" y="345.60" font-size="6.2" text-anchor="end" fill="#333" stroke="#333" stroke-width="0.12">2.5</text>
<text x="397.00" y="323.90" font-size="6.2" text-anchor="end" fill="#333" stroke="#333" stroke-width="0.12">3.0</text>
<rect x="410.00" y="409.80" width="3.7" height="42.10" fill="#000000" stroke="#000" stroke-width="0.5"/>
<rect x="415.02" y="413.71" width="3.7" height="38.19" fill="#2c4f9c" stroke="#1a2a50" stroke-width="0.5"/>
<rect x="420.04" y="415.44" width="3.7" height="36.46" fill="#e0403c" stroke="#5a1a1a" stroke-width="0.5"/>
<rect x="425.06" y="400.69" width="3.7" height="51.21" fill="#72d0de" stroke="#2a4a50" stroke-width="0.5"/>
<rect x="430.08" y="364.23" width="3.7" height="87.67" fill="#9a4c9e" stroke="#3a1a3a" stroke-width="0.5"/>
<rect x="435.10" y="346.44" width="3.7" height="105.46" fill="#5aa84e" stroke="#2a4a2a" stroke-width="0.5"/>
<rect x="454.80" y="409.80" width="3.7" height="42.10" fill="#000000" stroke="#000" stroke-width="0.5"/>
<rect x="459.82" y="411.97" width="3.7" height="39.93" fill="#2c4f9c" stroke="#1a2a50" stroke-width="0.5"/>
<rect x="464.84" y="413.71" width="3.7" height="38.19" fill="#e0403c" stroke="#5a1a1a" stroke-width="0.5"/>
<rect x="469.86" y="376.82" width="3.7" height="75.08" fill="#72d0de" stroke="#2a4a50" stroke-width="0.5"/>
<rect x="474.88" y="362.93" width="3.7" height="88.97" fill="#9a4c9e" stroke="#3a1a3a" stroke-width="0.5"/>
<rect x="479.90" y="349.91" width="3.7" height="101.99" fill="#5aa84e" stroke="#2a4a2a" stroke-width="0.5"/>
<path d="M411.85 409.80V406.76M410.35 406.76h3M416.87 413.71V410.24M415.37 410.24h3M431.93 364.23V360.33M430.43 360.33h3M436.95 346.44V339.06M435.45 339.06h3M456.65 409.80V403.29M455.15 403.29h3M461.67 411.97V405.46M460.17 405.46h3M466.69 413.71V408.07M465.19 408.07h3M471.71 376.82V372.48M470.21 372.48h3M476.73 362.93V356.42M475.23 356.42h3M481.75 349.91V339.93M480.25 339.93h3" stroke="#333" stroke-width="0.9" fill="none"/>
<text x="424.20" y="463.40" font-size="8.2" text-anchor="middle" fill="#111" stroke="#111" stroke-width="0.3">LF3</text>
<text x="424.50" y="472.80" font-size="7.4" text-anchor="middle" fill="#111" stroke="#111" stroke-width="0.3">50 μmol/L</text>
<text x="468.80" y="463.40" font-size="8.2" text-anchor="middle" fill="#111" stroke="#111" stroke-width="0.3">ICG-001</text>
<text x="469.10" y="472.80" font-size="7.4" text-anchor="middle" fill="#111" stroke="#111" stroke-width="0.3">25 μmol/L</text>
<text transform="translate(386,385.8) rotate(-90)" font-size="8.4" text-anchor="middle" fill="#111" stroke="#111" stroke-width="0.3">Amy1 mRNA levels, fold change</text>
<rect x="494.1" y="322.00" width="5.4" height="6.0" fill="#000000" stroke="#000" stroke-width="0.6"/>
<text x="504.10" y="327.50" font-size="8.2" fill="#111" stroke="#111" stroke-width="0.3">0 h</text>
<rect x="494.1" y="332.50" width="5.4" height="6.0" fill="#2c4f9c" stroke="#1a2a50" stroke-width="0.6"/>
<text x="504.10" y="338.00" font-size="8.2" fill="#111" stroke="#111" stroke-width="0.3">6 h</text>
<rect x="494.1" y="343.00" width="5.4" height="6.0" fill="#e0403c" stroke="#5a1a1a" stroke-width="0.6"/>
<text x="504.10" y="348.50" font-size="8.2" fill="#111" stroke="#111" stroke-width="0.3">12 h</text>
<rect x="494.1" y="353.50" width="5.4" height="6.0" fill="#72d0de" stroke="#2a4a50" stroke-width="0.6"/>
<text x="504.10" y="359.00" font-size="8.2" fill="#111" stroke="#111" stroke-width="0.3">24 h</text>
<rect x="494.1" y="364.00" width="5.4" height="6.0" fill="#9a4c9e" stroke="#3a1a3a" stroke-width="0.6"/>
<text x="504.10" y="369.50" font-size="8.2" fill="#111" stroke="#111" stroke-width="0.3">36 h</text>
<rect x="494.1" y="374.50" width="5.4" height="6.0" fill="#5aa84e" stroke="#2a4a2a" stroke-width="0.6"/>
<text x="504.10" y="380.00" font-size="8.2" fill="#111" stroke="#111" stroke-width="0.3">48 h</text>
</g>
</svg>
</body></html>
